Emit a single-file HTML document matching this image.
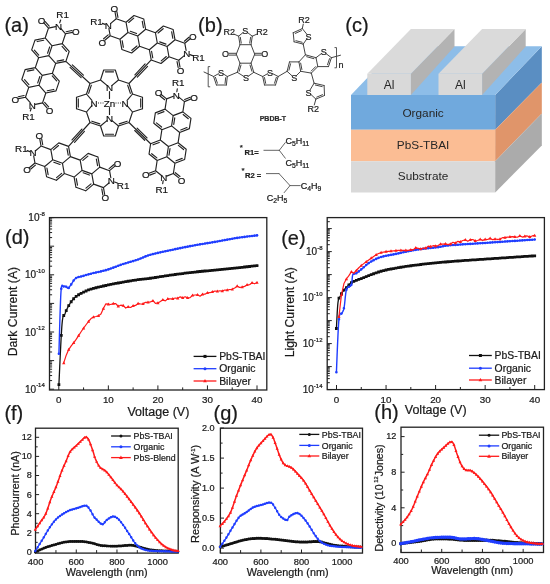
<!DOCTYPE html>
<html><head><meta charset="utf-8"><title>Figure</title>
<style>html,body{margin:0;padding:0;background:#fff;}svg{display:block;}</style>
</head><body>
<svg width="550" height="584" viewBox="0 0 550 584" font-family="'Liberation Sans', Arial, Helvetica, sans-serif">
<style>text{stroke:#1a1a1a;stroke-width:0.22px}</style>
<rect width="550" height="584" fill="#fff"/>

<path d="M42.21 75.37L52.4 73.28M52.4 73.28L55.69 63.41M55.69 63.41L48.79 55.63M48.79 55.63L38.6 57.72M38.6 57.72L35.31 67.59M35.31 67.59L42.21 75.37M48.79 55.63L52.07 45.76M52.07 45.76L45.17 37.98M45.17 37.98L34.98 40.07M34.98 40.07L31.69 49.94M31.69 49.94L38.6 57.72M55.69 63.41L65.88 61.32M65.88 61.32L69.17 51.45M69.17 51.45L62.26 43.67M62.26 43.67L52.07 45.76M28.74 87.33L38.93 85.24M38.93 85.24L42.21 75.37M35.31 67.59L25.12 69.68M25.12 69.68L21.83 79.55M21.83 79.55L28.74 87.33M45.83 93.02L56.02 90.93M56.02 90.93L59.31 81.06M59.31 81.06L52.4 73.28M38.93 85.24L45.83 93.02M62.26 43.67L65.55 33.8M65.55 33.8L60.77 28.42M55.51 26.66L48.46 28.11M48.46 28.11L45.17 37.98M35.49 104.34L42.54 102.89M42.54 102.89L45.83 93.02M28.74 87.33L25.45 97.2M25.45 97.2L30.23 102.58M43.72 40.22L37.19 41.55M34.36 50.08L38.77 55.06M49.68 46.94L47.58 53.25M57.14 61.17L63.67 59.84M66.5 51.31L62.08 46.33M28.92 84.67L24.5 79.69M27.33 71.16L33.86 69.83M37.72 82.86L39.82 76.55M52.23 75.94L56.64 80.92M53.81 89.45L47.28 90.78M48.46 28.11L43.81 22.87M49.21 26.1L45.23 21.61M65.55 33.8L72.41 32.4M66.15 31.74L72.03 30.54M59.72 22.8L60.66 19.99M25.45 97.2L18.59 98.6M24.09 95.54L18.21 96.74M42.54 102.89L47.19 108.13M44.63 102.38L48.61 106.87M31.28 108.2L30.34 111.01M137.7 36L139.57 46.23M139.57 46.23L149.36 49.74M149.36 49.74L157.3 43M157.3 43L155.43 32.77M155.43 32.77L145.64 29.26M145.64 29.26L137.7 36M157.3 43L167.09 46.51M167.09 46.51L175.03 39.78M175.03 39.78L173.16 29.54M173.16 29.54L163.37 26.04M163.37 26.04L155.43 32.77M149.36 49.74L151.23 59.97M151.23 59.97L161.02 63.48M161.02 63.48L168.96 56.75M168.96 56.75L167.09 46.51M126.04 22.25L127.91 32.49M127.91 32.49L137.7 36M145.64 29.26L143.77 19.03M143.77 19.03L133.98 15.52M133.98 15.52L126.04 22.25M119.97 39.22L121.84 49.46M121.84 49.46L131.63 52.96M131.63 52.96L139.57 46.23M127.91 32.49L119.97 39.22M168.96 56.75L178.75 60.25M178.75 60.25L184.25 55.59M186.11 50.37L184.82 43.28M184.82 43.28L175.03 39.78M108.89 28.63L110.18 35.72M110.18 35.72L119.97 39.22M126.04 22.25L116.25 18.75M116.25 18.75L110.75 23.41M172.82 38.28L171.63 31.72M163.17 28.7L158.09 33.01M165.97 44.09L159.7 41.85M151.57 51.24L152.76 57.79M161.22 60.82L166.3 56.51M128.7 22.49L133.78 18.18M142.24 21.21L143.43 27.76M130.31 31.33L136.58 33.58M136.91 45.99L131.83 50.3M123.37 47.28L122.18 40.72M184.82 43.28L190.17 38.75M184.36 41.19L188.94 37.3M178.75 60.25L180.01 67.14M177.06 61.58L178.14 67.48M189.89 54.66L192.68 55.66M116.25 18.75L114.99 11.86M117.94 17.42L116.86 11.52M110.18 35.72L104.83 40.25M108.18 34.92L103.61 38.8M105.11 24.34L102.32 23.34M82.04 170.37L80.19 160.13M80.19 160.13L70.4 156.62M70.4 156.62L62.46 163.33M62.46 163.33L64.31 173.57M64.31 173.57L74.1 177.08M74.1 177.08L82.04 170.37M62.46 163.33L52.68 159.82M52.68 159.82L44.74 166.54M44.74 166.54L46.59 176.77M46.59 176.77L56.38 180.29M56.38 180.29L64.31 173.57M70.4 156.62L68.55 146.38M68.55 146.38L58.77 142.87M58.77 142.87L50.83 149.59M50.83 149.59L52.68 159.82M93.67 184.11L91.82 173.88M91.82 173.88L82.04 170.37M74.1 177.08L75.95 187.32M75.95 187.32L85.73 190.83M85.73 190.83L93.67 184.11M99.76 167.16L97.91 156.93M97.91 156.93L88.12 153.41M88.12 153.41L80.19 160.13M91.82 173.88L99.76 167.16M50.83 149.59L41.04 146.07M41.04 146.07L35.55 150.72M33.67 155.94L34.95 163.02M34.95 163.02L44.74 166.54M110.83 177.76L109.55 170.68M109.55 170.68L99.76 167.16M93.67 184.11L103.46 187.63M103.46 187.63L108.95 182.98M46.94 168.04L48.13 174.59M56.58 177.63L61.66 173.33M53.8 162.24L60.06 164.49M68.2 155.11L67.02 148.56M58.56 145.53L53.48 149.83M91.02 183.87L85.94 188.17M77.48 185.14L76.3 178.59M89.42 175.04L83.16 172.79M82.84 160.37L87.92 156.07M96.37 159.11L97.56 165.66M34.95 163.02L29.61 167.54M35.42 165.12L30.84 168.99M41.04 146.07L39.8 139.18M42.73 144.75L41.67 138.85M29.9 151.64L27.12 150.64M103.46 187.63L104.7 194.52M101.77 188.95L102.83 194.85M109.55 170.68L114.89 166.16M109.08 168.58L113.66 164.71M114.6 182.06L117.38 183.06M171.58 125.92L161.89 129.69M161.89 129.69L160.31 139.97M160.31 139.97L168.42 146.48M168.42 146.48L178.11 142.71M178.11 142.71L179.69 132.43M179.69 132.43L171.58 125.92M168.42 146.48L166.84 156.75M166.84 156.75L174.95 163.26M174.95 163.26L184.64 159.49M184.64 159.49L186.22 149.21M186.22 149.21L178.11 142.71M160.31 139.97L150.62 143.74M150.62 143.74L149.04 154.01M149.04 154.01L157.15 160.52M157.15 160.52L166.84 156.75M182.85 111.88L173.16 115.65M173.16 115.65L171.58 125.92M179.69 132.43L189.38 128.66M189.38 128.66L190.96 118.39M190.96 118.39L182.85 111.88M165.05 109.14L155.36 112.91M155.36 112.91L153.78 123.19M153.78 123.19L161.89 129.69M173.16 115.65L165.05 109.14M157.15 160.52L155.57 170.79M155.57 170.79L161.18 175.3M166.66 176.14L173.37 173.53M173.37 173.53L174.95 163.26M173.34 96.26L166.63 98.87M166.63 98.87L165.05 109.14M182.85 111.88L184.43 101.61M184.43 101.61L178.82 97.1M176 160.81L182.2 158.4M183.57 149.52L178.38 145.36M169 155.19L170.01 148.61M159.26 142.42L153.05 144.83M151.69 153.7L156.88 157.87M183.12 114.53L188.31 118.7M186.95 127.57L180.74 129.98M174.75 117.79L173.74 124.36M161.62 127.04L156.43 122.88M157.8 114L164 111.59M173.37 173.53L178.82 177.91M175.33 172.68L180.01 176.43M155.57 170.79L149.05 173.33M155.33 172.93L149.74 175.1M163.16 180.66L162.71 183.58M184.43 101.61L190.95 99.07M184.67 99.47L190.26 97.3M166.63 98.87L161.18 94.49M164.67 99.72L159.99 95.97M176.84 91.74L177.29 88.82M118.5 80L112.04 85.39M100.5 80L106.96 85.39M118.5 80L115.3 70M100.5 80L103.7 70M115.3 70L103.7 70M113.56 71.8L105.44 71.8M100.5 126L106.96 120.61M118.5 126L112.04 120.61M100.5 126L103.7 136M118.5 126L115.3 136M103.7 136L115.3 136M105.44 134.2L113.56 134.2M86.5 94L91.89 100.46M86.5 112L91.89 105.54M86.5 94L76.5 97.2M86.5 112L76.5 108.8M76.5 97.2L76.5 108.8M78.3 98.94L78.3 107.06M132.5 112L127.11 105.54M132.5 94L127.11 100.46M132.5 112L142.5 108.8M132.5 94L142.5 97.2M142.5 108.8L142.5 97.2M140.7 107.06L140.7 98.94M90 83.5L100.5 80M90 83.5L86.5 94M91.29 85.33L88.63 93.31M90 83.5L65.88 61.32M83.43 75.15L72.34 64.95M81.13 77.65L70.04 67.45M129 83.5L118.5 80M129 83.5L132.5 94M127.71 85.33L130.37 93.31M129 83.5L151.23 59.97M137.35 77.14L147.57 66.32M134.88 74.8L145.1 63.98M90 122.5L100.5 126M91.83 121.21L99.81 123.87M90 122.5L86.5 112M90 122.5L68.55 146.38M81.87 129.01L72.01 139.99M84.4 131.28L74.54 142.27M129 122.5L118.5 126M127.17 121.21L119.19 123.87M129 122.5L132.5 112M129 122.5L150.62 143.74M134.73 130.51L144.67 140.28M137.11 128.08L147.06 137.85M109.5 91.5L109.5 98.5M109.5 107.5L109.5 114.5" stroke="#222" stroke-width="1.15" fill="none" stroke-linecap="round"/>
<path d="M98 103H103.5 M115.5 103H121" stroke="#2a2a2a" stroke-width="1" stroke-dasharray="1 1.3" fill="none"/>
<text x="41.55" y="23.86" font-size="9.8" text-anchor="middle" fill="#111" style="stroke-width:0.2px">O</text>
<text x="75.74" y="35.24" font-size="9.8" text-anchor="middle" fill="#111" style="stroke-width:0.2px">O</text>
<text x="58.65" y="29.55" font-size="9.8" text-anchor="middle" fill="#111" style="stroke-width:0.2px">N</text>
<text x="62.59" y="17.71" font-size="9.8" text-anchor="middle" fill="#111" style="stroke-width:0.2px">R1</text>
<text x="15.26" y="102.81" font-size="9.8" text-anchor="middle" fill="#111" style="stroke-width:0.2px">O</text>
<text x="49.45" y="114.2" font-size="9.8" text-anchor="middle" fill="#111" style="stroke-width:0.2px">O</text>
<text x="32.35" y="108.51" font-size="9.8" text-anchor="middle" fill="#111" style="stroke-width:0.2px">N</text>
<text x="28.41" y="120.35" font-size="9.8" text-anchor="middle" fill="#111" style="stroke-width:0.2px">R1</text>
<text x="192.76" y="40.08" font-size="9.8" text-anchor="middle" fill="#111" style="stroke-width:0.2px">O</text>
<text x="180.62" y="74.02" font-size="9.8" text-anchor="middle" fill="#111" style="stroke-width:0.2px">O</text>
<text x="186.69" y="57.05" font-size="9.8" text-anchor="middle" fill="#111" style="stroke-width:0.2px">N</text>
<text x="198.44" y="61.25" font-size="9.8" text-anchor="middle" fill="#111" style="stroke-width:0.2px">R1</text>
<text x="114.38" y="12.04" font-size="9.8" text-anchor="middle" fill="#111" style="stroke-width:0.2px">O</text>
<text x="102.24" y="45.98" font-size="9.8" text-anchor="middle" fill="#111" style="stroke-width:0.2px">O</text>
<text x="108.31" y="29.01" font-size="9.8" text-anchor="middle" fill="#111" style="stroke-width:0.2px">N</text>
<text x="96.56" y="24.8" font-size="9.8" text-anchor="middle" fill="#111" style="stroke-width:0.2px">R1</text>
<text x="27.02" y="173.27" font-size="9.8" text-anchor="middle" fill="#111" style="stroke-width:0.2px">O</text>
<text x="39.19" y="139.37" font-size="9.8" text-anchor="middle" fill="#111" style="stroke-width:0.2px">O</text>
<text x="33.1" y="156.32" font-size="9.8" text-anchor="middle" fill="#111" style="stroke-width:0.2px">N</text>
<text x="21.36" y="152.1" font-size="9.8" text-anchor="middle" fill="#111" style="stroke-width:0.2px">R1</text>
<text x="105.31" y="201.39" font-size="9.8" text-anchor="middle" fill="#111" style="stroke-width:0.2px">O</text>
<text x="117.48" y="167.49" font-size="9.8" text-anchor="middle" fill="#111" style="stroke-width:0.2px">O</text>
<text x="111.4" y="184.44" font-size="9.8" text-anchor="middle" fill="#111" style="stroke-width:0.2px">N</text>
<text x="123.14" y="188.66" font-size="9.8" text-anchor="middle" fill="#111" style="stroke-width:0.2px">R1</text>
<text x="181.47" y="183.57" font-size="9.8" text-anchor="middle" fill="#111" style="stroke-width:0.2px">O</text>
<text x="145.88" y="178.09" font-size="9.8" text-anchor="middle" fill="#111" style="stroke-width:0.2px">O</text>
<text x="163.68" y="180.83" font-size="9.8" text-anchor="middle" fill="#111" style="stroke-width:0.2px">N</text>
<text x="161.78" y="193.16" font-size="9.8" text-anchor="middle" fill="#111" style="stroke-width:0.2px">R1</text>
<text x="194.12" y="101.37" font-size="9.8" text-anchor="middle" fill="#111" style="stroke-width:0.2px">O</text>
<text x="158.53" y="95.89" font-size="9.8" text-anchor="middle" fill="#111" style="stroke-width:0.2px">O</text>
<text x="176.32" y="98.63" font-size="9.8" text-anchor="middle" fill="#111" style="stroke-width:0.2px">N</text>
<text x="178.22" y="86.3" font-size="9.8" text-anchor="middle" fill="#111" style="stroke-width:0.2px">R1</text>
<text x="109.5" y="91.03" font-size="9.8" text-anchor="middle" fill="#111" style="stroke-width:0.2px">N</text>
<text x="109.5" y="122.03" font-size="9.8" text-anchor="middle" fill="#111" style="stroke-width:0.2px">N</text>
<text x="94" y="106.53" font-size="9.8" text-anchor="middle" fill="#111" style="stroke-width:0.2px">N</text>
<text x="125" y="106.53" font-size="9.8" text-anchor="middle" fill="#111" style="stroke-width:0.2px">N</text>
<text x="109.5" y="106.53" font-size="9.8" text-anchor="middle" fill="#111" style="stroke-width:0.2px">Zn</text>
<path d="M210.2 66.6H208.2V86.8H210.2" stroke="#444" stroke-width="0.9" fill="none"/>
<path d="M334.5 47.6H336.5V67.8H334.5" stroke="#444" stroke-width="0.9" fill="none"/>
<text x="338.6" y="67.6" font-size="9" text-anchor="start" fill="#222" >n</text>
<path d="M247.43 32.5L252.3 36.2M252.3 36.2L251 44.7M251 44.7L240 44.7M240 44.7L238.6 36.2M238.6 36.2L243.03 32.57M250.61 37.33L249.73 43.11M241.26 43.1L240.3 37.32M238.6 36.2L233.91 34M252.3 36.2L257.26 33.95M240 44.7L236.3 54.2M236.3 54.2L240 63.2M251 63.2L254.7 54.2M254.7 54.2L251 44.7M236.3 53.3L229.1 53.3M236.3 55.1L229.1 55.1M254.7 55.1L261.3 55.1M254.7 53.3L261.3 53.3M243.63 76.3L237.3 72.3M237.3 72.3L240 63.2M240 63.2L251 63.2M251 63.2L253.8 72.3M253.8 72.3L248.29 76.19M239.17 71.27L241.01 65.08M250.01 65.1L251.92 71.29M223.24 73.84L227.3 76.5M227.3 76.5L226.4 85M226.4 85L216.4 85M216.4 85L213.6 76.5M213.6 76.5L218.47 73.7M225.66 77.7L225.05 83.48M217.38 83.17L215.47 77.39M227.3 76.5L237.3 72.3M213.6 76.5L204 72M267.57 73.7L262.7 76.5M262.7 76.5L264.5 85M264.5 85L275.5 85M275.5 85L278.2 76.5M278.2 76.5L272.49 73.58M264.46 77.55L265.68 83.33M274.5 83.19L276.34 77.41M253.8 72.3L262.7 76.5M305.4 54.8L316 57.7M316 57.7L317.8 66.6M317.8 66.6L311.3 73.1M311.3 73.1L300.7 71.3M300.7 71.3L298.9 61.9M298.9 61.9L305.4 54.8M306.7 56.71L313.91 58.68M315.7 66.58L311.28 71M301.89 69.51L300.66 63.12M316 57.7L321.48 53.5M325.92 53.5L331.4 57.7M331.4 57.7L328.5 66.6M328.5 66.6L317.8 66.6M329.51 58.66L327.54 64.71M300.7 71.3L296.18 75.82M292.13 75.91L287.1 71.3M287.1 71.3L289.5 61.9M289.5 61.9L298.9 61.9M288.94 70.17L290.57 63.78M278.2 76.5L287.1 71.3M331.4 57.7L340.5 55.2M305.4 54.8L303.2 44.1M306.84 34.22L302.3 28.6M302.3 28.6L293.2 32.7M293.2 32.7L294.1 41.8M294.1 41.8L303.2 44.1M303.2 44.1L306.99 38.69M301.46 30.62L295.27 33.41M295.92 40.71L302.11 42.28M302.3 28.6L303.26 24.11M311.3 73.1L314.1 83.2M310.05 89.9L314.1 83.2M314.1 83.2L324.1 85.5M324.1 85.5L324.5 95.5M324.5 95.5L315.9 99.1M315.9 99.1L310.65 94.21M315.36 85.03L322.16 86.59M322.54 94.69L316.7 97.14M315.9 99.1L314.27 104.95" stroke="#444" stroke-width="1.0" fill="none" stroke-linecap="round"/>
<text x="245.2" y="34.04" font-size="9" text-anchor="middle" fill="#222" style="stroke-width:0.2px">S</text>
<text x="229.2" y="35.04" font-size="9" text-anchor="middle" fill="#222" style="stroke-width:0.2px">R2</text>
<text x="262" y="35.04" font-size="9" text-anchor="middle" fill="#222" style="stroke-width:0.2px">R2</text>
<text x="225.6" y="57.44" font-size="9" text-anchor="middle" fill="#222" style="stroke-width:0.2px">O</text>
<text x="264.8" y="57.44" font-size="9" text-anchor="middle" fill="#222" style="stroke-width:0.2px">O</text>
<text x="246" y="81.04" font-size="9" text-anchor="middle" fill="#222" style="stroke-width:0.2px">S</text>
<text x="220.9" y="75.54" font-size="9" text-anchor="middle" fill="#222" style="stroke-width:0.2px">S</text>
<text x="270" y="75.54" font-size="9" text-anchor="middle" fill="#222" style="stroke-width:0.2px">S</text>
<text x="323.7" y="55.04" font-size="9" text-anchor="middle" fill="#222" style="stroke-width:0.2px">S</text>
<text x="294.2" y="81.04" font-size="9" text-anchor="middle" fill="#222" style="stroke-width:0.2px">S</text>
<text x="308.6" y="39.64" font-size="9" text-anchor="middle" fill="#222" style="stroke-width:0.2px">S</text>
<text x="304.1" y="23.44" font-size="9" text-anchor="middle" fill="#222" style="stroke-width:0.2px">R2</text>
<text x="308.6" y="95.54" font-size="9" text-anchor="middle" fill="#222" style="stroke-width:0.2px">S</text>
<text x="313.2" y="112.04" font-size="9" text-anchor="middle" fill="#222" style="stroke-width:0.2px">R2</text>
<text x="272.9" y="120.6" font-size="7" text-anchor="middle" fill="#333" font-weight="bold" >PBDB-T</text>
<text x="239.8" y="149.6" font-size="8" text-anchor="start" fill="#222" >*</text>
<text x="244.6" y="155" font-size="7.6" text-anchor="start" fill="#222" font-weight="bold" >R1=</text>
<text x="241.6" y="173.2" font-size="8" text-anchor="start" fill="#222" >*</text>
<text x="245" y="177.8" font-size="7.6" text-anchor="start" fill="#222" font-weight="bold" >R2 =</text>
<path d="M263.9 150.3L279.3 150.3M279.3 150.3L285.3 142.6M279.3 150.3L285.3 158.2M266.4 173.6L279 173.6M279 173.6L290 185.6M290 185.6L300.2 185.6M290 185.6L284.2 192.6" stroke="#555" stroke-width="0.9" fill="none" stroke-linecap="round"/>
<text x="285.4" y="143.6" font-size="9.0" text-anchor="start" fill="#1a1a1a" >C<tspan font-size="6.8" dy="2.2">5</tspan><tspan dy="-2.2">H</tspan><tspan font-size="6.8" dy="2.2">11</tspan></text>
<text x="285.4" y="166.2" font-size="9.0" text-anchor="start" fill="#1a1a1a" >C<tspan font-size="6.8" dy="2.2">5</tspan><tspan dy="-2.2">H</tspan><tspan font-size="6.8" dy="2.2">11</tspan></text>
<text x="300.8" y="189" font-size="9.0" text-anchor="start" fill="#1a1a1a" >C<tspan font-size="6.8" dy="2.2">4</tspan><tspan dy="-2.2">H</tspan><tspan font-size="6.8" dy="2.2">9</tspan></text>
<text x="266.8" y="201.2" font-size="9.0" text-anchor="start" fill="#1a1a1a" >C<tspan font-size="6.8" dy="2.2">2</tspan><tspan dy="-2.2">H</tspan><tspan font-size="6.8" dy="2.2">5</tspan></text>
<polygon points="351,95 495.2,95 495.2,129.8 351,129.8" fill="#70a9dd"/>
<polygon points="351,129.8 495.2,129.8 495.2,161.2 351,161.2" fill="#fbbd94"/>
<polygon points="351,161.2 495.2,161.2 495.2,192.5 351,192.5" fill="#d9d9d9"/>
<polygon points="495.2,95 541.8,46.3 541.8,82.4 495.2,129.8" fill="#5a8ec2"/>
<polygon points="495.2,129.8 541.8,82.4 541.8,113.5 495.2,161.2" fill="#e0956a"/>
<polygon points="495.2,161.2 541.8,113.5 541.8,145.4 495.2,192.5" fill="#ababab"/>
<polygon points="351,95 495.2,95 541.8,46.3 397.6,46.3" fill="#8dbde8"/>
<polygon points="410.9,73.7 454.5,29 454.5,46.6 410.9,95" fill="#b3b3b3"/>
<polygon points="367.3,73.7 410.9,73.7 454.5,29 410.9,29" fill="#dadada"/>
<polygon points="367.3,73.7 410.9,73.7 410.9,95 367.3,95" fill="#d9d9d9"/>
<text x="389.1" y="89" font-size="12" text-anchor="middle" fill="#262626" style="stroke:none">Al</text>
<polygon points="482.1,73.7 525.7,29 525.7,46.6 482.1,95" fill="#b3b3b3"/>
<polygon points="438.5,73.7 482.1,73.7 525.7,29 482.1,29" fill="#dadada"/>
<polygon points="438.5,73.7 482.1,73.7 482.1,95 438.5,95" fill="#d9d9d9"/>
<text x="460.3" y="89" font-size="12" text-anchor="middle" fill="#262626" style="stroke:none">Al</text>
<text x="423.1" y="116.8" font-size="11.8" text-anchor="middle" fill="#262626" style="stroke:none">Organic</text>
<text x="423.1" y="148.5" font-size="11.8" text-anchor="middle" fill="#262626" style="stroke:none">PbS-TBAI</text>
<text x="423.1" y="179.6" font-size="11.8" text-anchor="middle" fill="#262626" style="stroke:none">Substrate</text>
<rect x="49.5" y="217.6" width="217.3" height="172.4" fill="none" stroke="#222" stroke-width="1.3"/>
<path d="M58.8 390v-4.6M108.35 390v-4.6M157.9 390v-4.6M207.45 390v-4.6M257 390v-4.6M83.57 390v-2.6M133.12 390v-2.6M182.68 390v-2.6M232.23 390v-2.6" stroke="#222" stroke-width="1" fill="none"/>
<path d="M49.5 389.2h4.6M49.5 360.6h4.6M49.5 332h4.6M49.5 303.4h4.6M49.5 274.8h4.6M49.5 246.2h4.6M49.5 217.6h4.6M49.5 380.59h2.6M49.5 375.55h2.6M49.5 371.98h2.6M49.5 369.21h2.6M49.5 366.94h2.6M49.5 365.03h2.6M49.5 363.37h2.6M49.5 361.91h2.6M49.5 351.99h2.6M49.5 346.95h2.6M49.5 343.38h2.6M49.5 340.61h2.6M49.5 338.34h2.6M49.5 336.43h2.6M49.5 334.77h2.6M49.5 333.31h2.6M49.5 323.39h2.6M49.5 318.35h2.6M49.5 314.78h2.6M49.5 312.01h2.6M49.5 309.74h2.6M49.5 307.83h2.6M49.5 306.17h2.6M49.5 304.71h2.6M49.5 294.79h2.6M49.5 289.75h2.6M49.5 286.18h2.6M49.5 283.41h2.6M49.5 281.14h2.6M49.5 279.23h2.6M49.5 277.57h2.6M49.5 276.11h2.6M49.5 266.19h2.6M49.5 261.15h2.6M49.5 257.58h2.6M49.5 254.81h2.6M49.5 252.54h2.6M49.5 250.63h2.6M49.5 248.97h2.6M49.5 247.51h2.6M49.5 237.59h2.6M49.5 232.55h2.6M49.5 228.98h2.6M49.5 226.21h2.6M49.5 223.94h2.6M49.5 222.03h2.6M49.5 220.37h2.6M49.5 218.91h2.6" stroke="#222" stroke-width="1" fill="none"/>
<text x="58.8" y="402.8" font-size="9.8" text-anchor="middle" fill="#1a1a1a" >0</text>
<text x="108.35" y="402.8" font-size="9.8" text-anchor="middle" fill="#1a1a1a" >10</text>
<text x="157.9" y="402.8" font-size="9.8" text-anchor="middle" fill="#1a1a1a" >20</text>
<text x="207.45" y="402.8" font-size="9.8" text-anchor="middle" fill="#1a1a1a" >30</text>
<text x="257" y="402.8" font-size="9.8" text-anchor="middle" fill="#1a1a1a" >40</text>
<text x="44.8" y="221.2" font-size="10" text-anchor="end" fill="#1a1a1a" >10<tspan font-size="6" dy="-5.4">-8</tspan></text>
<text x="44.8" y="278.4" font-size="10" text-anchor="end" fill="#1a1a1a" >10<tspan font-size="6" dy="-5.4">-10</tspan></text>
<text x="44.8" y="335.6" font-size="10" text-anchor="end" fill="#1a1a1a" >10<tspan font-size="6" dy="-5.4">-12</tspan></text>
<text x="44.8" y="392.8" font-size="10" text-anchor="end" fill="#1a1a1a" >10<tspan font-size="6" dy="-5.4">-14</tspan></text>
<text x="158.4" y="416.4" font-size="12.5" text-anchor="middle" fill="#1a1a1a" >Voltage (V)</text>
<text transform="translate(16.7 311.6) rotate(-90)" font-size="12.2" text-anchor="middle" fill="#1a1a1a">Dark Current (A)</text>
<path d="M58.9 384.6 L58.93 384.08 L58.96 383.51 L58.99 382.89 L59.02 382.24 L59.05 381.54 L59.08 380.8 L59.12 380.03 L59.16 379.22 L59.2 378.37 L59.24 377.49 L59.28 376.58 L59.32 375.64 L59.37 374.67 L59.41 373.67 L59.46 372.65 L59.51 371.6 L59.56 370.53 L59.61 369.43 L59.66 368.32 L59.71 367.19 L59.76 366.05 L59.81 364.88 L59.87 363.71 L59.92 362.52 L59.98 361.32 L60.03 360.12 L60.09 358.9 L60.15 357.68 L60.2 356.45 L60.26 355.23 L60.32 353.99 L60.38 352.76 L60.44 351.54 L60.5 350.31 L60.56 349.09 L60.62 347.88 L60.68 346.67 L60.74 345.47 L60.8 344.28 L60.86 343.11 L60.92 341.95 L60.98 340.8 L61.04 339.67 L61.1 338.56 L61.16 337.47 L61.22 336.4 L61.28 335.35 L61.34 334.33 L61.4 333.33 L61.45 332.36 L61.51 331.42 L61.57 330.51 L61.62 329.63 L61.68 328.78 L61.74 327.97 L61.79 327.2 L61.84 326.46 L61.9 325.77 L61.95 325.11 L62 324.5 L62.27 321.66 L62.52 319.53 L62.77 317.98 L63.01 316.92 L63.26 316.22 L63.51 315.79 L63.77 315.51 L64.04 315.27 L64.33 314.96 L64.65 314.47 L65 313.7 L65.38 312.74 L65.78 311.76 L66.2 310.78 L66.64 309.8 L67.09 308.83 L67.56 307.87 L68.04 306.93 L68.52 306.02 L69.02 305.14 L69.51 304.3 L70 303.5 L70.68 302.47 L71.36 301.5 L72.05 300.59 L72.76 299.72 L73.49 298.91 L74.23 298.14 L75 297.4 L75.8 296.7 L76.63 296.05 L77.48 295.45 L78.35 294.9 L79.24 294.39 L80.16 293.91 L81.09 293.44 L82.04 292.97 L83 292.5 L83.83 292.08 L84.63 291.68 L85.42 291.29 L86.22 290.91 L87.06 290.53 L87.97 290.16 L88.96 289.78 L90.06 289.39 L91.3 289 L92.12 288.76 L93 288.51 L93.93 288.26 L94.9 288.01 L95.91 287.76 L96.95 287.5 L98.02 287.25 L99.11 286.99 L100.21 286.74 L101.31 286.49 L102.42 286.24 L103.51 286 L104.6 285.76 L105.66 285.53 L106.7 285.3 L107.72 285.08 L108.74 284.86 L109.76 284.65 L110.78 284.44 L111.8 284.23 L112.82 284.03 L113.84 283.82 L114.85 283.63 L115.87 283.43 L116.89 283.24 L117.91 283.05 L118.93 282.86 L119.95 282.67 L120.97 282.48 L122 282.3 L123.03 282.12 L124.08 281.93 L125.14 281.75 L126.2 281.57 L127.26 281.39 L128.33 281.22 L129.39 281.04 L130.45 280.87 L131.51 280.7 L132.55 280.54 L133.58 280.38 L134.59 280.23 L135.58 280.08 L136.55 279.94 L137.5 279.8 L138.62 279.65 L139.65 279.51 L140.62 279.4 L141.54 279.29 L142.45 279.2 L143.36 279.1 L144.28 279 L145.26 278.9 L146.29 278.78 L147.41 278.64 L148.64 278.48 L150 278.3 L150.8 278.19 L151.63 278.07 L152.5 277.94 L153.4 277.8 L154.32 277.66 L155.27 277.52 L156.25 277.37 L157.24 277.21 L158.25 277.05 L159.28 276.89 L160.32 276.73 L161.37 276.57 L162.42 276.4 L163.48 276.24 L164.54 276.08 L165.6 275.91 L166.66 275.75 L167.71 275.59 L168.75 275.44 L169.78 275.29 L170.8 275.14 L171.8 275 L172.84 274.86 L173.88 274.71 L174.91 274.57 L175.95 274.43 L176.99 274.29 L178.03 274.15 L179.06 274.01 L180.1 273.87 L181.14 273.73 L182.18 273.6 L183.21 273.46 L184.25 273.33 L185.29 273.2 L186.33 273.07 L187.36 272.94 L188.4 272.81 L189.44 272.69 L190.48 272.56 L191.52 272.44 L192.56 272.32 L193.6 272.2 L194.59 272.09 L195.59 271.98 L196.58 271.87 L197.58 271.76 L198.57 271.66 L199.57 271.56 L200.56 271.46 L201.56 271.36 L202.56 271.26 L203.55 271.16 L204.55 271.06 L205.55 270.97 L206.54 270.87 L207.54 270.77 L208.54 270.68 L209.53 270.58 L210.53 270.49 L211.52 270.39 L212.52 270.3 L213.51 270.2 L214.51 270.1 L215.5 270 L216.54 269.9 L217.59 269.79 L218.63 269.69 L219.68 269.58 L220.73 269.48 L221.78 269.37 L222.83 269.27 L223.88 269.16 L224.93 269.06 L225.98 268.95 L227.02 268.85 L228.07 268.74 L229.11 268.64 L230.15 268.53 L231.18 268.43 L232.22 268.32 L233.24 268.22 L234.27 268.11 L235.28 268.01 L236.29 267.9 L237.3 267.8 L238.37 267.69 L239.48 267.57 L240.62 267.45 L241.78 267.32 L242.96 267.2 L244.14 267.07 L245.32 266.94 L246.5 266.81 L247.67 266.69 L248.81 266.56 L249.93 266.44 L251.01 266.32 L252.06 266.21 L253.05 266.1 L253.99 266 L254.86 265.9 L255.67 265.81 L256.4 265.73 L257.04 265.66 L257.6 265.6" fill="none" stroke="#111111" stroke-width="1.3" stroke-linejoin="round" stroke-linecap="round" />
<path d="M57.5 383.2h2.8v2.8h-2.8zM59.88 333.96h2.8v2.8h-2.8zM62.35 314.12h2.8v2.8h-2.8zM64.83 309.31h2.8v2.8h-2.8zM67.31 304.29h2.8v2.8h-2.8zM69.79 300.35h2.8v2.8h-2.8zM72.26 297.33h2.8v2.8h-2.8zM74.74 295.03h2.8v2.8h-2.8zM77.22 293.35h2.8v2.8h-2.8zM79.7 292.04h2.8v2.8h-2.8zM82.17 290.81h2.8v2.8h-2.8zM84.65 289.59h2.8v2.8h-2.8zM87.13 288.54h2.8v2.8h-2.8zM89.61 287.69h2.8v2.8h-2.8zM92.08 286.98h2.8v2.8h-2.8zM94.56 286.34h2.8v2.8h-2.8zM97.04 285.75h2.8v2.8h-2.8zM99.52 285.18h2.8v2.8h-2.8zM101.99 284.62h2.8v2.8h-2.8zM104.47 284.08h2.8v2.8h-2.8zM106.95 283.54h2.8v2.8h-2.8zM109.43 283.03h2.8v2.8h-2.8zM111.91 282.53h2.8v2.8h-2.8zM114.38 282.05h2.8v2.8h-2.8zM116.86 281.58h2.8v2.8h-2.8zM119.34 281.13h2.8v2.8h-2.8zM121.81 280.69h2.8v2.8h-2.8zM124.29 280.26h2.8v2.8h-2.8zM126.77 279.84h2.8v2.8h-2.8zM129.25 279.44h2.8v2.8h-2.8zM131.72 279.05h2.8v2.8h-2.8zM134.2 278.68h2.8v2.8h-2.8zM136.68 278.32h2.8v2.8h-2.8zM139.16 278h2.8v2.8h-2.8zM141.63 277.73h2.8v2.8h-2.8zM144.11 277.47h2.8v2.8h-2.8zM146.59 277.17h2.8v2.8h-2.8zM149.07 276.83h2.8v2.8h-2.8zM151.54 276.47h2.8v2.8h-2.8zM154.02 276.09h2.8v2.8h-2.8zM156.5 275.71h2.8v2.8h-2.8zM158.98 275.32h2.8v2.8h-2.8zM161.46 274.94h2.8v2.8h-2.8zM163.93 274.55h2.8v2.8h-2.8zM166.41 274.18h2.8v2.8h-2.8zM168.89 273.82h2.8v2.8h-2.8zM171.36 273.47h2.8v2.8h-2.8zM173.84 273.12h2.8v2.8h-2.8zM176.32 272.79h2.8v2.8h-2.8zM178.8 272.46h2.8v2.8h-2.8zM181.28 272.13h2.8v2.8h-2.8zM183.75 271.82h2.8v2.8h-2.8zM186.23 271.51h2.8v2.8h-2.8zM188.71 271.21h2.8v2.8h-2.8zM191.18 270.92h2.8v2.8h-2.8zM193.66 270.64h2.8v2.8h-2.8zM196.14 270.37h2.8v2.8h-2.8zM198.62 270.11h2.8v2.8h-2.8zM201.09 269.86h2.8v2.8h-2.8zM203.57 269.62h2.8v2.8h-2.8zM206.05 269.38h2.8v2.8h-2.8zM208.53 269.15h2.8v2.8h-2.8zM211 268.91h2.8v2.8h-2.8zM213.48 268.66h2.8v2.8h-2.8zM215.96 268.41h2.8v2.8h-2.8zM218.44 268.17h2.8v2.8h-2.8zM220.91 267.92h2.8v2.8h-2.8zM223.39 267.67h2.8v2.8h-2.8zM225.87 267.42h2.8v2.8h-2.8zM228.35 267.17h2.8v2.8h-2.8zM230.83 266.92h2.8v2.8h-2.8zM233.3 266.67h2.8v2.8h-2.8zM235.78 266.41h2.8v2.8h-2.8zM238.26 266.15h2.8v2.8h-2.8zM240.73 265.89h2.8v2.8h-2.8zM243.21 265.62h2.8v2.8h-2.8zM245.69 265.35h2.8v2.8h-2.8zM248.17 265.08h2.8v2.8h-2.8zM250.65 264.81h2.8v2.8h-2.8zM253.12 264.54h2.8v2.8h-2.8zM255.6 264.27h2.8v2.8h-2.8z" fill="#111111"/>
<path d="M58.9 353.8 L58.92 353.27 L58.94 352.7 L58.96 352.09 L58.98 351.43 L59 350.73 L59.02 349.99 L59.04 349.21 L59.07 348.39 L59.09 347.54 L59.12 346.66 L59.14 345.74 L59.17 344.8 L59.2 343.82 L59.22 342.82 L59.25 341.78 L59.28 340.73 L59.31 339.65 L59.34 338.55 L59.38 337.43 L59.41 336.29 L59.44 335.13 L59.47 333.96 L59.51 332.78 L59.54 331.58 L59.58 330.37 L59.61 329.15 L59.65 327.92 L59.68 326.69 L59.72 325.45 L59.76 324.2 L59.79 322.96 L59.83 321.71 L59.87 320.46 L59.91 319.22 L59.95 317.98 L59.98 316.75 L60.02 315.52 L60.06 314.3 L60.1 313.1 L60.14 311.9 L60.18 310.71 L60.22 309.54 L60.26 308.39 L60.3 307.25 L60.34 306.14 L60.38 305.04 L60.42 303.96 L60.46 302.91 L60.5 301.89 L60.54 300.89 L60.58 299.91 L60.62 298.97 L60.66 298.06 L60.69 297.18 L60.73 296.34 L60.77 295.53 L60.81 294.75 L60.85 294.02 L60.89 293.33 L60.93 292.67 L60.96 292.06 L61 291.5 L61.47 286.77 L61.97 285.18 L62.48 285.46 L62.99 286.35 L63.5 286.6 L64.77 286.12 L66 286.5 L67.01 287.69 L68.1 288.4 L68.63 288.01 L69.2 287.33 L69.8 286.44 L70.47 285.44 L71.2 284.4 L71.76 283.59 L72.33 282.67 L72.93 281.69 L73.57 280.69 L74.25 279.74 L74.99 278.9 L75.8 278.2 L76.68 277.68 L77.64 277.29 L78.65 276.99 L79.7 276.75 L80.79 276.53 L81.89 276.29 L83 276 L83.94 275.72 L84.83 275.44 L85.72 275.17 L86.64 274.89 L87.62 274.6 L88.7 274.3 L89.92 273.96 L91.3 273.6 L92.12 273.39 L93 273.19 L93.93 272.97 L94.9 272.75 L95.91 272.53 L96.95 272.3 L98.02 272.06 L99.1 271.82 L100.2 271.57 L101.3 271.31 L102.41 271.05 L103.51 270.78 L104.59 270.49 L105.66 270.2 L106.7 269.9 L107.66 269.6 L108.62 269.29 L109.59 268.97 L110.55 268.63 L111.51 268.29 L112.48 267.93 L113.44 267.58 L114.4 267.21 L115.36 266.85 L116.33 266.48 L117.29 266.12 L118.25 265.76 L119.21 265.41 L120.18 265.06 L121.14 264.73 L122.1 264.4 L123.07 264.08 L124.04 263.77 L125.03 263.47 L126.02 263.17 L127.01 262.88 L128 262.58 L128.99 262.29 L129.98 262.01 L130.96 261.72 L131.94 261.43 L132.9 261.15 L133.85 260.86 L134.79 260.58 L135.71 260.29 L136.62 260 L137.5 259.7 L138.53 259.33 L139.49 258.97 L140.39 258.6 L141.26 258.24 L142.1 257.87 L142.93 257.5 L143.77 257.13 L144.65 256.77 L145.56 256.39 L146.54 256.02 L147.59 255.65 L148.74 255.28 L150 254.9 L150.8 254.68 L151.63 254.45 L152.5 254.22 L153.4 253.99 L154.32 253.77 L155.27 253.53 L156.25 253.3 L157.24 253.07 L158.25 252.84 L159.28 252.61 L160.32 252.38 L161.37 252.14 L162.42 251.91 L163.48 251.68 L164.54 251.45 L165.6 251.23 L166.66 251 L167.71 250.78 L168.75 250.55 L169.78 250.33 L170.8 250.12 L171.8 249.9 L172.79 249.69 L173.78 249.47 L174.77 249.26 L175.76 249.05 L176.75 248.85 L177.74 248.64 L178.73 248.43 L179.72 248.23 L180.71 248.02 L181.7 247.82 L182.69 247.62 L183.68 247.42 L184.67 247.22 L185.67 247.02 L186.66 246.83 L187.65 246.63 L188.64 246.44 L189.63 246.25 L190.62 246.06 L191.61 245.87 L192.61 245.68 L193.6 245.5 L194.59 245.32 L195.59 245.14 L196.58 244.96 L197.58 244.79 L198.57 244.62 L199.57 244.45 L200.56 244.28 L201.56 244.11 L202.56 243.95 L203.55 243.78 L204.55 243.62 L205.55 243.46 L206.54 243.29 L207.54 243.13 L208.54 242.97 L209.53 242.8 L210.53 242.64 L211.52 242.48 L212.52 242.31 L213.51 242.14 L214.51 241.97 L215.5 241.8 L216.49 241.63 L217.49 241.45 L218.49 241.27 L219.49 241.09 L220.49 240.9 L221.49 240.72 L222.5 240.53 L223.5 240.34 L224.5 240.15 L225.5 239.97 L226.5 239.78 L227.5 239.6 L228.49 239.41 L229.49 239.23 L230.48 239.05 L231.47 238.88 L232.45 238.7 L233.43 238.53 L234.4 238.37 L235.37 238.21 L236.34 238.05 L237.3 237.9 L238.37 237.74 L239.48 237.58 L240.62 237.41 L241.78 237.26 L242.96 237.1 L244.14 236.94 L245.32 236.79 L246.5 236.64 L247.67 236.5 L248.81 236.36 L249.93 236.22 L251.01 236.09 L252.06 235.97 L253.05 235.85 L253.99 235.74 L254.86 235.63 L255.67 235.54 L256.4 235.45 L257.04 235.37 L257.6 235.3" fill="none" stroke="#1f3dff" stroke-width="1.4" stroke-linejoin="round" stroke-linecap="round" />
<path d="M57.6 353.8a1.3 1.3 0 1 0 2.6 0a1.3 1.3 0 1 0 -2.6 0M59.98 288.73a1.3 1.3 0 1 0 2.6 0a1.3 1.3 0 1 0 -2.6 0M62.45 286.5a1.3 1.3 0 1 0 2.6 0a1.3 1.3 0 1 0 -2.6 0M64.93 286.77a1.3 1.3 0 1 0 2.6 0a1.3 1.3 0 1 0 -2.6 0M67.41 287.92a1.3 1.3 0 1 0 2.6 0a1.3 1.3 0 1 0 -2.6 0M69.89 284.42a1.3 1.3 0 1 0 2.6 0a1.3 1.3 0 1 0 -2.6 0M72.36 280.56a1.3 1.3 0 1 0 2.6 0a1.3 1.3 0 1 0 -2.6 0M74.84 278a1.3 1.3 0 1 0 2.6 0a1.3 1.3 0 1 0 -2.6 0M77.32 277a1.3 1.3 0 1 0 2.6 0a1.3 1.3 0 1 0 -2.6 0M79.8 276.46a1.3 1.3 0 1 0 2.6 0a1.3 1.3 0 1 0 -2.6 0M82.27 275.83a1.3 1.3 0 1 0 2.6 0a1.3 1.3 0 1 0 -2.6 0M84.75 275.07a1.3 1.3 0 1 0 2.6 0a1.3 1.3 0 1 0 -2.6 0M87.23 274.34a1.3 1.3 0 1 0 2.6 0a1.3 1.3 0 1 0 -2.6 0M89.71 273.68a1.3 1.3 0 1 0 2.6 0a1.3 1.3 0 1 0 -2.6 0M92.19 273.07a1.3 1.3 0 1 0 2.6 0a1.3 1.3 0 1 0 -2.6 0M94.66 272.52a1.3 1.3 0 1 0 2.6 0a1.3 1.3 0 1 0 -2.6 0M97.14 271.97a1.3 1.3 0 1 0 2.6 0a1.3 1.3 0 1 0 -2.6 0M99.62 271.4a1.3 1.3 0 1 0 2.6 0a1.3 1.3 0 1 0 -2.6 0M102.09 270.8a1.3 1.3 0 1 0 2.6 0a1.3 1.3 0 1 0 -2.6 0M104.57 270.14a1.3 1.3 0 1 0 2.6 0a1.3 1.3 0 1 0 -2.6 0M107.05 269.38a1.3 1.3 0 1 0 2.6 0a1.3 1.3 0 1 0 -2.6 0M109.53 268.53a1.3 1.3 0 1 0 2.6 0a1.3 1.3 0 1 0 -2.6 0M112.01 267.62a1.3 1.3 0 1 0 2.6 0a1.3 1.3 0 1 0 -2.6 0M114.48 266.69a1.3 1.3 0 1 0 2.6 0a1.3 1.3 0 1 0 -2.6 0M116.96 265.76a1.3 1.3 0 1 0 2.6 0a1.3 1.3 0 1 0 -2.6 0M119.44 264.86a1.3 1.3 0 1 0 2.6 0a1.3 1.3 0 1 0 -2.6 0M121.92 264.04a1.3 1.3 0 1 0 2.6 0a1.3 1.3 0 1 0 -2.6 0M124.39 263.27a1.3 1.3 0 1 0 2.6 0a1.3 1.3 0 1 0 -2.6 0M126.87 262.53a1.3 1.3 0 1 0 2.6 0a1.3 1.3 0 1 0 -2.6 0M129.35 261.81a1.3 1.3 0 1 0 2.6 0a1.3 1.3 0 1 0 -2.6 0M131.82 261.08a1.3 1.3 0 1 0 2.6 0a1.3 1.3 0 1 0 -2.6 0M134.3 260.32a1.3 1.3 0 1 0 2.6 0a1.3 1.3 0 1 0 -2.6 0M136.78 259.49a1.3 1.3 0 1 0 2.6 0a1.3 1.3 0 1 0 -2.6 0M139.26 258.53a1.3 1.3 0 1 0 2.6 0a1.3 1.3 0 1 0 -2.6 0M141.73 257.46a1.3 1.3 0 1 0 2.6 0a1.3 1.3 0 1 0 -2.6 0M144.21 256.42a1.3 1.3 0 1 0 2.6 0a1.3 1.3 0 1 0 -2.6 0M146.69 255.52a1.3 1.3 0 1 0 2.6 0a1.3 1.3 0 1 0 -2.6 0M149.17 254.77a1.3 1.3 0 1 0 2.6 0a1.3 1.3 0 1 0 -2.6 0M151.64 254.11a1.3 1.3 0 1 0 2.6 0a1.3 1.3 0 1 0 -2.6 0M154.12 253.5a1.3 1.3 0 1 0 2.6 0a1.3 1.3 0 1 0 -2.6 0M156.6 252.92a1.3 1.3 0 1 0 2.6 0a1.3 1.3 0 1 0 -2.6 0M159.08 252.36a1.3 1.3 0 1 0 2.6 0a1.3 1.3 0 1 0 -2.6 0M161.56 251.82a1.3 1.3 0 1 0 2.6 0a1.3 1.3 0 1 0 -2.6 0M164.03 251.28a1.3 1.3 0 1 0 2.6 0a1.3 1.3 0 1 0 -2.6 0M166.51 250.75a1.3 1.3 0 1 0 2.6 0a1.3 1.3 0 1 0 -2.6 0M168.99 250.22a1.3 1.3 0 1 0 2.6 0a1.3 1.3 0 1 0 -2.6 0M171.46 249.69a1.3 1.3 0 1 0 2.6 0a1.3 1.3 0 1 0 -2.6 0M173.94 249.16a1.3 1.3 0 1 0 2.6 0a1.3 1.3 0 1 0 -2.6 0M176.42 248.64a1.3 1.3 0 1 0 2.6 0a1.3 1.3 0 1 0 -2.6 0M178.9 248.13a1.3 1.3 0 1 0 2.6 0a1.3 1.3 0 1 0 -2.6 0M181.38 247.62a1.3 1.3 0 1 0 2.6 0a1.3 1.3 0 1 0 -2.6 0M183.85 247.13a1.3 1.3 0 1 0 2.6 0a1.3 1.3 0 1 0 -2.6 0M186.33 246.64a1.3 1.3 0 1 0 2.6 0a1.3 1.3 0 1 0 -2.6 0M188.81 246.16a1.3 1.3 0 1 0 2.6 0a1.3 1.3 0 1 0 -2.6 0M191.28 245.69a1.3 1.3 0 1 0 2.6 0a1.3 1.3 0 1 0 -2.6 0M193.76 245.23a1.3 1.3 0 1 0 2.6 0a1.3 1.3 0 1 0 -2.6 0M196.24 244.79a1.3 1.3 0 1 0 2.6 0a1.3 1.3 0 1 0 -2.6 0M198.72 244.37a1.3 1.3 0 1 0 2.6 0a1.3 1.3 0 1 0 -2.6 0M201.19 243.96a1.3 1.3 0 1 0 2.6 0a1.3 1.3 0 1 0 -2.6 0M203.67 243.55a1.3 1.3 0 1 0 2.6 0a1.3 1.3 0 1 0 -2.6 0M206.15 243.15a1.3 1.3 0 1 0 2.6 0a1.3 1.3 0 1 0 -2.6 0M208.63 242.74a1.3 1.3 0 1 0 2.6 0a1.3 1.3 0 1 0 -2.6 0M211.1 242.33a1.3 1.3 0 1 0 2.6 0a1.3 1.3 0 1 0 -2.6 0M213.58 241.91a1.3 1.3 0 1 0 2.6 0a1.3 1.3 0 1 0 -2.6 0M216.06 241.47a1.3 1.3 0 1 0 2.6 0a1.3 1.3 0 1 0 -2.6 0M218.54 241.02a1.3 1.3 0 1 0 2.6 0a1.3 1.3 0 1 0 -2.6 0M221.01 240.56a1.3 1.3 0 1 0 2.6 0a1.3 1.3 0 1 0 -2.6 0M223.49 240.1a1.3 1.3 0 1 0 2.6 0a1.3 1.3 0 1 0 -2.6 0M225.97 239.64a1.3 1.3 0 1 0 2.6 0a1.3 1.3 0 1 0 -2.6 0M228.45 239.18a1.3 1.3 0 1 0 2.6 0a1.3 1.3 0 1 0 -2.6 0M230.93 238.74a1.3 1.3 0 1 0 2.6 0a1.3 1.3 0 1 0 -2.6 0M233.4 238.32a1.3 1.3 0 1 0 2.6 0a1.3 1.3 0 1 0 -2.6 0M235.88 237.92a1.3 1.3 0 1 0 2.6 0a1.3 1.3 0 1 0 -2.6 0M238.36 237.55a1.3 1.3 0 1 0 2.6 0a1.3 1.3 0 1 0 -2.6 0M240.83 237.21a1.3 1.3 0 1 0 2.6 0a1.3 1.3 0 1 0 -2.6 0M243.31 236.88a1.3 1.3 0 1 0 2.6 0a1.3 1.3 0 1 0 -2.6 0M245.79 236.57a1.3 1.3 0 1 0 2.6 0a1.3 1.3 0 1 0 -2.6 0M248.27 236.26a1.3 1.3 0 1 0 2.6 0a1.3 1.3 0 1 0 -2.6 0M250.75 235.97a1.3 1.3 0 1 0 2.6 0a1.3 1.3 0 1 0 -2.6 0M253.22 235.67a1.3 1.3 0 1 0 2.6 0a1.3 1.3 0 1 0 -2.6 0M255.7 235.38a1.3 1.3 0 1 0 2.6 0a1.3 1.3 0 1 0 -2.6 0" fill="#1f3dff"/>
<path d="M63.75 362.93 L66.23 355.17 L68.71 349.6 L71.19 345.95 L73.66 342.78 L76.14 339.4 L78.62 335.61 L81.1 331.77 L83.57 328.2 L86.05 324.77 L88.53 321.49 L91.01 318.6 L93.48 316.97 L95.96 316.51 L98.44 315.77 L100.92 314.06 L103.39 308.44 L105.87 303.81 L108.35 304.19 L110.83 304.52 L113.31 303.49 L115.78 303.72 L118.26 306.23 L120.74 305.21 L123.22 305.64 L125.69 308.02 L128.17 306.82 L130.65 307.51 L133.12 305.87 L135.6 305.43 L138.08 303.44 L140.56 304 L143.03 303.88 L145.51 302.31 L147.99 302.31 L150.47 301.84 L152.94 300.68 L155.42 303.31 L157.9 302.94 L160.38 301.52 L162.86 299.79 L165.33 300.88 L167.81 298.9 L170.29 298.8 L172.76 298.73 L175.24 298.01 L177.72 298.36 L180.2 296.86 L182.68 297.81 L185.15 296.78 L187.63 297.92 L190.11 297.59 L192.58 295.29 L195.06 295.02 L197.54 294.78 L200.02 296.22 L202.5 294.29 L204.97 294.2 L207.45 292.75 L209.93 292.69 L212.4 291.79 L214.88 291.14 L217.36 291.23 L219.84 290.73 L222.31 291.07 L224.79 290.01 L227.27 290.16 L229.75 289.49 L232.23 289.34 L234.7 288 L237.18 286.15 L239.66 287.41 L242.13 287.11 L244.61 286.38 L247.09 284.92 L249.57 284.7 L252.05 282.79 L254.52 283.8 L257 282.53" fill="none" stroke="#ff1a1a" stroke-width="1.2" stroke-linejoin="round" stroke-linecap="round" />
<path d="M63.75 361.13L65.41 364.13L62.1 364.13zM68.71 347.8L70.36 350.8L67.06 350.8zM73.66 340.98L75.31 343.98L72.01 343.98zM78.62 333.81L80.27 336.81L76.97 336.81zM83.57 326.4L85.22 329.4L81.92 329.4zM88.53 319.69L90.18 322.69L86.88 322.69zM93.48 315.17L95.14 318.17L91.83 318.17zM98.44 313.97L100.09 316.97L96.79 316.97zM103.39 306.64L105.05 309.64L101.74 309.64zM108.35 302.39L110 305.39L106.7 305.39zM113.31 301.69L114.96 304.69L111.66 304.69zM118.26 304.43L119.91 307.43L116.61 307.43zM123.22 303.84L124.87 306.84L121.56 306.84zM128.17 305.02L129.82 308.02L126.52 308.02zM133.12 304.07L134.78 307.07L131.47 307.07zM138.08 301.64L139.73 304.64L136.43 304.64zM143.03 302.08L144.69 305.08L141.38 305.08zM147.99 300.51L149.64 303.51L146.34 303.51zM152.94 298.88L154.59 301.88L151.29 301.88zM157.9 301.14L159.55 304.14L156.25 304.14zM162.86 297.99L164.51 300.99L161.21 300.99zM167.81 297.1L169.46 300.1L166.16 300.1zM172.76 296.93L174.41 299.93L171.11 299.93zM177.72 296.56L179.37 299.56L176.07 299.56zM182.68 296.01L184.33 299.01L181.03 299.01zM187.63 296.12L189.28 299.12L185.98 299.12zM192.58 293.49L194.23 296.49L190.93 296.49zM197.54 292.98L199.19 295.98L195.89 295.98zM202.5 292.49L204.15 295.49L200.84 295.49zM207.45 290.95L209.1 293.95L205.8 293.95zM212.4 289.99L214.05 292.99L210.75 292.99zM217.36 289.43L219.01 292.43L215.71 292.43zM222.31 289.27L223.97 292.27L220.66 292.27zM227.27 288.36L228.92 291.36L225.62 291.36zM232.23 287.54L233.88 290.54L230.58 290.54zM237.18 284.35L238.83 287.35L235.53 287.35zM242.13 285.31L243.78 288.31L240.48 288.31zM247.09 283.12L248.74 286.12L245.44 286.12zM252.05 280.99L253.7 283.99L250.4 283.99zM257 280.73L258.65 283.73L255.35 283.73z" fill="#ff1a1a"/>
<path d="M193.6 356.4H216.4" stroke="#111111" stroke-width="1.3"/>
<path d="M203.5 354.9h3v3h-3z" fill="#111111"/>
<text x="219.2" y="360.14" font-size="10.4" text-anchor="start" fill="#1a1a1a" >PbS-TBAI</text>
<path d="M193.6 368.7H216.4" stroke="#1f3dff" stroke-width="1.3"/>
<path d="M203.5 368.7a1.5 1.5 0 1 0 3 0a1.5 1.5 0 1 0 -3 0" fill="#1f3dff"/>
<text x="219.2" y="372.44" font-size="10.4" text-anchor="start" fill="#1a1a1a" >Organic</text>
<path d="M193.6 381H216.4" stroke="#ff1a1a" stroke-width="1.3"/>
<path d="M205 378.96L206.87 382.36L203.13 382.36z" fill="#ff1a1a"/>
<text x="219.2" y="384.74" font-size="10.4" text-anchor="start" fill="#1a1a1a" >Bilayer</text>
<rect x="327.2" y="217.6" width="217.2" height="172" fill="none" stroke="#222" stroke-width="1.3"/>
<path d="M336.5 389.6v-4.6M386.05 389.6v-4.6M435.6 389.6v-4.6M485.15 389.6v-4.6M534.7 389.6v-4.6M361.27 389.6v-2.6M410.82 389.6v-2.6M460.38 389.6v-2.6M509.93 389.6v-2.6" stroke="#222" stroke-width="1" fill="none"/>
<path d="M327.2 389.6h4.6M327.2 366.6h4.6M327.2 343.6h4.6M327.2 320.6h4.6M327.2 297.6h4.6M327.2 274.6h4.6M327.2 251.6h4.6M327.2 228.6h4.6M327.2 382.68h2.6M327.2 378.63h2.6M327.2 375.75h2.6M327.2 373.52h2.6M327.2 371.7h2.6M327.2 370.16h2.6M327.2 368.83h2.6M327.2 367.65h2.6M327.2 359.68h2.6M327.2 355.63h2.6M327.2 352.75h2.6M327.2 350.52h2.6M327.2 348.7h2.6M327.2 347.16h2.6M327.2 345.83h2.6M327.2 344.65h2.6M327.2 336.68h2.6M327.2 332.63h2.6M327.2 329.75h2.6M327.2 327.52h2.6M327.2 325.7h2.6M327.2 324.16h2.6M327.2 322.83h2.6M327.2 321.65h2.6M327.2 313.68h2.6M327.2 309.63h2.6M327.2 306.75h2.6M327.2 304.52h2.6M327.2 302.7h2.6M327.2 301.16h2.6M327.2 299.83h2.6M327.2 298.65h2.6M327.2 290.68h2.6M327.2 286.63h2.6M327.2 283.75h2.6M327.2 281.52h2.6M327.2 279.7h2.6M327.2 278.16h2.6M327.2 276.83h2.6M327.2 275.65h2.6M327.2 267.68h2.6M327.2 263.63h2.6M327.2 260.75h2.6M327.2 258.52h2.6M327.2 256.7h2.6M327.2 255.16h2.6M327.2 253.83h2.6M327.2 252.65h2.6M327.2 244.68h2.6M327.2 240.63h2.6M327.2 237.75h2.6M327.2 235.52h2.6M327.2 233.7h2.6M327.2 232.16h2.6M327.2 230.83h2.6M327.2 229.65h2.6M327.2 221.68h2.6" stroke="#222" stroke-width="1" fill="none"/>
<text x="336.5" y="402.8" font-size="9.8" text-anchor="middle" fill="#1a1a1a" >0</text>
<text x="386.05" y="402.8" font-size="9.8" text-anchor="middle" fill="#1a1a1a" >10</text>
<text x="435.6" y="402.8" font-size="9.8" text-anchor="middle" fill="#1a1a1a" >20</text>
<text x="485.15" y="402.8" font-size="9.8" text-anchor="middle" fill="#1a1a1a" >30</text>
<text x="534.7" y="402.8" font-size="9.8" text-anchor="middle" fill="#1a1a1a" >40</text>
<text x="322.5" y="255.2" font-size="10" text-anchor="end" fill="#1a1a1a" >10<tspan font-size="6" dy="-5.4">-8</tspan></text>
<text x="322.5" y="301.2" font-size="10" text-anchor="end" fill="#1a1a1a" >10<tspan font-size="6" dy="-5.4">-10</tspan></text>
<text x="322.5" y="347.2" font-size="10" text-anchor="end" fill="#1a1a1a" >10<tspan font-size="6" dy="-5.4">-12</tspan></text>
<text x="322.5" y="393.2" font-size="10" text-anchor="end" fill="#1a1a1a" >10<tspan font-size="6" dy="-5.4">-14</tspan></text>
<text x="435.7" y="413.6" font-size="12.5" text-anchor="middle" fill="#1a1a1a" >Voltage (V)</text>
<text transform="translate(293.7 312.2) rotate(-90)" font-size="12.2" text-anchor="middle" fill="#1a1a1a">Light Current (A)</text>
<path d="M336.4 328.5 L336.43 327.94 L336.47 327.29 L336.51 326.54 L336.55 325.71 L336.6 324.81 L336.64 323.84 L336.69 322.81 L336.75 321.72 L336.8 320.6 L336.86 319.43 L336.92 318.24 L336.99 317.03 L337.05 315.81 L337.12 314.58 L337.18 313.35 L337.25 312.13 L337.32 310.94 L337.4 309.77 L337.47 308.63 L337.54 307.54 L337.62 306.49 L337.69 305.51 L337.77 304.59 L337.85 303.74 L337.92 302.98 L338 302.3 L338.35 300.06 L338.71 298.63 L339.11 297.74 L339.52 297.14 L339.95 296.58 L340.4 295.8 L340.87 294.84 L341.37 293.91 L341.88 293.02 L342.41 292.17 L342.95 291.36 L343.5 290.6 L344.15 289.79 L344.81 289.09 L345.49 288.44 L346.21 287.76 L347 287 L347.65 286.29 L348.28 285.53 L348.94 284.75 L349.7 283.96 L350.63 283.17 L351.8 282.4 L352.54 282 L353.32 281.62 L354.15 281.24 L355.04 280.87 L355.97 280.5 L356.96 280.13 L357.99 279.75 L359.09 279.35 L360.23 278.93 L361.44 278.48 L362.7 278 L363.51 277.69 L364.37 277.35 L365.26 277 L366.19 276.64 L367.14 276.26 L368.13 275.87 L369.13 275.48 L370.15 275.08 L371.17 274.68 L372.21 274.28 L373.25 273.89 L374.29 273.51 L375.31 273.13 L376.33 272.77 L377.33 272.42 L378.32 272.09 L379.27 271.78 L380.2 271.5 L381.27 271.19 L382.3 270.9 L383.3 270.64 L384.27 270.39 L385.22 270.16 L386.17 269.95 L387.11 269.75 L388.06 269.55 L389.02 269.37 L390 269.18 L391.01 269 L392.06 268.81 L393.15 268.62 L394.3 268.41 L395.5 268.2 L396.35 268.05 L397.2 267.9 L398.05 267.75 L398.92 267.6 L399.8 267.45 L400.68 267.3 L401.58 267.15 L402.49 267 L403.41 266.85 L404.36 266.7 L405.31 266.55 L406.29 266.4 L407.28 266.25 L408.3 266.1 L409.33 265.95 L410.39 265.8 L411.48 265.65 L412.59 265.5 L413.72 265.35 L414.88 265.2 L416.08 265.05 L417.3 264.9 L418.16 264.8 L419.03 264.69 L419.92 264.59 L420.82 264.48 L421.73 264.38 L422.65 264.27 L423.59 264.17 L424.54 264.06 L425.5 263.96 L426.47 263.85 L427.45 263.75 L428.44 263.64 L429.45 263.53 L430.46 263.43 L431.48 263.32 L432.51 263.22 L433.55 263.11 L434.6 263.01 L435.66 262.9 L436.72 262.8 L437.8 262.7 L438.88 262.59 L439.96 262.49 L441.06 262.39 L442.16 262.29 L443.26 262.19 L444.37 262.09 L445.49 261.99 L446.61 261.89 L447.74 261.79 L448.87 261.7 L450 261.6 L450.91 261.52 L451.83 261.45 L452.75 261.37 L453.68 261.3 L454.62 261.23 L455.56 261.15 L456.5 261.08 L457.45 261.01 L458.41 260.94 L459.37 260.87 L460.34 260.8 L461.31 260.73 L462.28 260.66 L463.27 260.59 L464.25 260.52 L465.24 260.45 L466.23 260.39 L467.23 260.32 L468.23 260.25 L469.24 260.18 L470.25 260.11 L471.26 260.05 L472.28 259.98 L473.3 259.91 L474.32 259.84 L475.35 259.77 L476.38 259.71 L477.41 259.64 L478.45 259.57 L479.48 259.5 L480.53 259.43 L481.57 259.36 L482.62 259.3 L483.66 259.23 L484.72 259.16 L485.77 259.09 L486.82 259.02 L487.88 258.94 L488.94 258.87 L490 258.8 L490.96 258.73 L491.94 258.67 L492.94 258.6 L493.97 258.53 L495.02 258.46 L496.09 258.39 L497.17 258.31 L498.27 258.24 L499.38 258.16 L500.51 258.09 L501.65 258.01 L502.79 257.94 L503.95 257.86 L505.1 257.78 L506.27 257.7 L507.43 257.63 L508.6 257.55 L509.76 257.47 L510.92 257.39 L512.08 257.32 L513.24 257.24 L514.38 257.16 L515.52 257.09 L516.64 257.01 L517.76 256.94 L518.85 256.87 L519.94 256.79 L521 256.72 L522.05 256.65 L523.08 256.59 L524.08 256.52 L525.06 256.45 L526.02 256.39 L526.95 256.33 L527.85 256.27 L528.72 256.21 L529.55 256.16 L530.36 256.1 L531.12 256.05 L531.86 256 L532.55 255.96 L533.2 255.91 L533.81 255.87 L534.38 255.83 L534.9 255.8" fill="none" stroke="#111111" stroke-width="1.3" stroke-linejoin="round" stroke-linecap="round" />
<path d="M335 327.1h2.8v2.8h-2.8zM337.58 296.63h2.8v2.8h-2.8zM340.06 292.36h2.8v2.8h-2.8zM342.53 288.67h2.8v2.8h-2.8zM345.01 286.17h2.8v2.8h-2.8zM347.49 283.41h2.8v2.8h-2.8zM349.97 281.29h2.8v2.8h-2.8zM352.44 279.98h2.8v2.8h-2.8zM354.92 278.97h2.8v2.8h-2.8zM357.4 278.05h2.8v2.8h-2.8zM359.88 277.14h2.8v2.8h-2.8zM362.35 276.19h2.8v2.8h-2.8zM364.83 275.22h2.8v2.8h-2.8zM367.31 274.24h2.8v2.8h-2.8zM369.79 273.28h2.8v2.8h-2.8zM372.26 272.34h2.8v2.8h-2.8zM374.74 271.44h2.8v2.8h-2.8zM377.22 270.6h2.8v2.8h-2.8zM379.7 269.84h2.8v2.8h-2.8zM382.17 269.17h2.8v2.8h-2.8zM384.65 268.58h2.8v2.8h-2.8zM387.13 268.06h2.8v2.8h-2.8zM389.61 267.6h2.8v2.8h-2.8zM392.08 267.16h2.8v2.8h-2.8zM394.56 266.72h2.8v2.8h-2.8zM397.04 266.28h2.8v2.8h-2.8zM399.52 265.86h2.8v2.8h-2.8zM401.99 265.45h2.8v2.8h-2.8zM404.47 265.06h2.8v2.8h-2.8zM406.95 264.69h2.8v2.8h-2.8zM409.43 264.34h2.8v2.8h-2.8zM411.9 264.01h2.8v2.8h-2.8zM414.38 263.69h2.8v2.8h-2.8zM416.86 263.38h2.8v2.8h-2.8zM419.34 263.09h2.8v2.8h-2.8zM421.81 262.81h2.8v2.8h-2.8zM424.29 262.54h2.8v2.8h-2.8zM426.77 262.27h2.8v2.8h-2.8zM429.25 262.01h2.8v2.8h-2.8zM431.72 261.76h2.8v2.8h-2.8zM434.2 261.51h2.8v2.8h-2.8zM436.68 261.27h2.8v2.8h-2.8zM439.16 261.04h2.8v2.8h-2.8zM441.63 260.81h2.8v2.8h-2.8zM444.11 260.59h2.8v2.8h-2.8zM446.59 260.37h2.8v2.8h-2.8zM449.07 260.16h2.8v2.8h-2.8zM451.54 259.96h2.8v2.8h-2.8zM454.02 259.77h2.8v2.8h-2.8zM456.5 259.58h2.8v2.8h-2.8zM458.98 259.4h2.8v2.8h-2.8zM461.45 259.22h2.8v2.8h-2.8zM463.93 259.05h2.8v2.8h-2.8zM466.41 258.88h2.8v2.8h-2.8zM468.88 258.71h2.8v2.8h-2.8zM471.36 258.55h2.8v2.8h-2.8zM473.84 258.38h2.8v2.8h-2.8zM476.32 258.22h2.8v2.8h-2.8zM478.8 258.06h2.8v2.8h-2.8zM481.27 257.89h2.8v2.8h-2.8zM483.75 257.73h2.8v2.8h-2.8zM486.23 257.56h2.8v2.8h-2.8zM488.71 257.39h2.8v2.8h-2.8zM491.18 257.22h2.8v2.8h-2.8zM493.66 257.06h2.8v2.8h-2.8zM496.14 256.89h2.8v2.8h-2.8zM498.62 256.72h2.8v2.8h-2.8zM501.09 256.56h2.8v2.8h-2.8zM503.57 256.39h2.8v2.8h-2.8zM506.05 256.22h2.8v2.8h-2.8zM508.53 256.06h2.8v2.8h-2.8zM511 255.89h2.8v2.8h-2.8zM513.48 255.73h2.8v2.8h-2.8zM515.96 255.56h2.8v2.8h-2.8zM518.44 255.4h2.8v2.8h-2.8zM520.91 255.24h2.8v2.8h-2.8zM523.39 255.07h2.8v2.8h-2.8zM525.87 254.91h2.8v2.8h-2.8zM528.35 254.74h2.8v2.8h-2.8zM530.82 254.58h2.8v2.8h-2.8zM533.3 254.41h2.8v2.8h-2.8z" fill="#111111"/>
<path d="M336.4 372.3 L336.42 371.77 L336.45 371.18 L336.48 370.55 L336.51 369.86 L336.54 369.13 L336.57 368.35 L336.61 367.53 L336.64 366.67 L336.68 365.77 L336.71 364.83 L336.75 363.86 L336.79 362.85 L336.84 361.82 L336.88 360.75 L336.92 359.66 L336.97 358.55 L337.01 357.41 L337.06 356.25 L337.1 355.08 L337.15 353.89 L337.2 352.68 L337.25 351.47 L337.3 350.24 L337.35 349.01 L337.4 347.77 L337.46 346.52 L337.51 345.28 L337.56 344.04 L337.62 342.8 L337.67 341.56 L337.73 340.34 L337.78 339.12 L337.84 337.91 L337.89 336.72 L337.95 335.54 L338 334.38 L338.06 333.24 L338.12 332.12 L338.17 331.02 L338.23 329.95 L338.29 328.91 L338.34 327.9 L338.4 326.92 L338.46 325.97 L338.51 325.07 L338.57 324.2 L338.63 323.37 L338.68 322.58 L338.74 321.84 L338.79 321.14 L338.85 320.5 L338.9 319.9 L339.32 316.53 L339.77 314.6 L340.24 313.73 L340.71 313.54 L341.17 313.63 L341.6 313.61 L342 313.1 L342.48 312.11 L342.89 311.39 L343.28 310.61 L343.67 309.43 L344.1 307.5 L344.23 306.77 L344.35 305.93 L344.47 304.99 L344.59 303.97 L344.71 302.88 L344.83 301.74 L344.95 300.56 L345.07 299.35 L345.19 298.13 L345.32 296.91 L345.46 295.72 L345.6 294.55 L345.74 293.43 L345.9 292.36 L346.06 291.38 L346.23 290.48 L346.41 289.68 L346.6 289 L347.43 287.42 L348.43 286.79 L349.48 286.57 L350.44 286.24 L351.2 285.3 L351.47 284.48 L351.69 283.47 L351.85 282.33 L351.98 281.11 L352.09 279.84 L352.19 278.59 L352.3 277.41 L352.43 276.33 L352.59 275.41 L352.8 274.7 L353.62 273.76 L354.61 273.86 L356 273.5 L356.67 273.04 L357.43 272.47 L358.26 271.82 L359.14 271.12 L360.04 270.38 L360.95 269.64 L361.84 268.9 L362.7 268.2 L363.5 267.52 L364.26 266.84 L364.99 266.15 L365.74 265.46 L366.51 264.76 L367.35 264.07 L368.27 263.38 L369.3 262.7 L370.04 262.24 L370.82 261.77 L371.62 261.29 L372.45 260.81 L373.31 260.34 L374.21 259.86 L375.13 259.4 L376.08 258.94 L377.06 258.5 L378.08 258.08 L379.12 257.68 L380.2 257.3 L381.08 257.02 L381.97 256.76 L382.87 256.52 L383.8 256.3 L384.73 256.09 L385.69 255.88 L386.67 255.68 L387.67 255.49 L388.7 255.3 L389.76 255.1 L390.84 254.9 L391.95 254.7 L393.1 254.48 L394.28 254.25 L395.5 254 L396.36 253.82 L397.24 253.63 L398.14 253.44 L399.07 253.24 L400.01 253.04 L400.98 252.83 L401.96 252.62 L402.95 252.41 L403.95 252.19 L404.97 251.97 L405.99 251.76 L407.02 251.54 L408.06 251.33 L409.1 251.11 L410.14 250.9 L411.18 250.7 L412.22 250.5 L413.25 250.31 L414.28 250.12 L415.29 249.94 L416.3 249.76 L417.3 249.6 L418.35 249.44 L419.42 249.28 L420.51 249.13 L421.61 248.98 L422.73 248.84 L423.85 248.7 L424.97 248.57 L426.09 248.44 L427.21 248.31 L428.33 248.19 L429.43 248.07 L430.52 247.96 L431.59 247.84 L432.64 247.73 L433.67 247.62 L434.66 247.52 L435.63 247.41 L436.56 247.31 L437.45 247.21 L438.3 247.1 L439.1 247 L440.39 246.82 L441.35 246.65 L442.07 246.5 L442.64 246.36 L443.15 246.22 L443.69 246.09 L444.35 245.95 L445.22 245.81 L446.39 245.66 L447.96 245.49 L450 245.3 L450.65 245.24 L451.34 245.19 L452.05 245.13 L452.8 245.07 L453.57 245.01 L454.38 244.95 L455.21 244.89 L456.06 244.83 L456.94 244.77 L457.84 244.7 L458.76 244.64 L459.71 244.58 L460.67 244.51 L461.65 244.44 L462.65 244.38 L463.67 244.31 L464.7 244.24 L465.75 244.18 L466.8 244.11 L467.88 244.04 L468.96 243.97 L470.05 243.9 L471.14 243.83 L472.25 243.76 L473.36 243.69 L474.48 243.61 L475.6 243.54 L476.72 243.47 L477.85 243.4 L478.97 243.33 L480.1 243.25 L481.22 243.18 L482.34 243.11 L483.46 243.04 L484.57 242.96 L485.67 242.89 L486.77 242.82 L487.85 242.75 L488.93 242.67 L490 242.6 L490.96 242.53 L491.94 242.47 L492.94 242.4 L493.97 242.33 L495.02 242.26 L496.09 242.18 L497.17 242.11 L498.27 242.03 L499.38 241.96 L500.51 241.88 L501.65 241.8 L502.79 241.72 L503.95 241.64 L505.1 241.56 L506.27 241.48 L507.43 241.4 L508.6 241.32 L509.76 241.24 L510.92 241.16 L512.08 241.08 L513.24 241 L514.38 240.92 L515.52 240.84 L516.64 240.76 L517.76 240.69 L518.85 240.61 L519.94 240.54 L521 240.46 L522.05 240.39 L523.08 240.32 L524.08 240.25 L525.06 240.18 L526.02 240.11 L526.95 240.05 L527.85 239.99 L528.72 239.93 L529.55 239.87 L530.36 239.81 L531.12 239.76 L531.86 239.71 L532.55 239.66 L533.2 239.62 L533.81 239.58 L534.38 239.54 L534.9 239.5" fill="none" stroke="#1f3dff" stroke-width="1.4" stroke-linejoin="round" stroke-linecap="round" />
<path d="M335.1 372.3a1.3 1.3 0 1 0 2.6 0a1.3 1.3 0 1 0 -2.6 0M337.68 319.28a1.3 1.3 0 1 0 2.6 0a1.3 1.3 0 1 0 -2.6 0M340.15 313.62a1.3 1.3 0 1 0 2.6 0a1.3 1.3 0 1 0 -2.6 0M342.63 308.25a1.3 1.3 0 1 0 2.6 0a1.3 1.3 0 1 0 -2.6 0M345.11 289.67a1.3 1.3 0 1 0 2.6 0a1.3 1.3 0 1 0 -2.6 0M347.59 286.69a1.3 1.3 0 1 0 2.6 0a1.3 1.3 0 1 0 -2.6 0M350.06 284.81a1.3 1.3 0 1 0 2.6 0a1.3 1.3 0 1 0 -2.6 0M352.54 273.78a1.3 1.3 0 1 0 2.6 0a1.3 1.3 0 1 0 -2.6 0M355.02 273.28a1.3 1.3 0 1 0 2.6 0a1.3 1.3 0 1 0 -2.6 0M357.5 271.39a1.3 1.3 0 1 0 2.6 0a1.3 1.3 0 1 0 -2.6 0M359.97 269.37a1.3 1.3 0 1 0 2.6 0a1.3 1.3 0 1 0 -2.6 0M362.45 267.29a1.3 1.3 0 1 0 2.6 0a1.3 1.3 0 1 0 -2.6 0M364.93 265.02a1.3 1.3 0 1 0 2.6 0a1.3 1.3 0 1 0 -2.6 0M367.41 263.09a1.3 1.3 0 1 0 2.6 0a1.3 1.3 0 1 0 -2.6 0M369.88 261.55a1.3 1.3 0 1 0 2.6 0a1.3 1.3 0 1 0 -2.6 0M372.36 260.15a1.3 1.3 0 1 0 2.6 0a1.3 1.3 0 1 0 -2.6 0M374.84 258.91a1.3 1.3 0 1 0 2.6 0a1.3 1.3 0 1 0 -2.6 0M377.32 257.87a1.3 1.3 0 1 0 2.6 0a1.3 1.3 0 1 0 -2.6 0M379.8 257.02a1.3 1.3 0 1 0 2.6 0a1.3 1.3 0 1 0 -2.6 0M382.27 256.35a1.3 1.3 0 1 0 2.6 0a1.3 1.3 0 1 0 -2.6 0M384.75 255.81a1.3 1.3 0 1 0 2.6 0a1.3 1.3 0 1 0 -2.6 0M387.23 255.33a1.3 1.3 0 1 0 2.6 0a1.3 1.3 0 1 0 -2.6 0M389.7 254.87a1.3 1.3 0 1 0 2.6 0a1.3 1.3 0 1 0 -2.6 0M392.18 254.4a1.3 1.3 0 1 0 2.6 0a1.3 1.3 0 1 0 -2.6 0M394.66 253.9a1.3 1.3 0 1 0 2.6 0a1.3 1.3 0 1 0 -2.6 0M397.14 253.38a1.3 1.3 0 1 0 2.6 0a1.3 1.3 0 1 0 -2.6 0M399.62 252.84a1.3 1.3 0 1 0 2.6 0a1.3 1.3 0 1 0 -2.6 0M402.09 252.31a1.3 1.3 0 1 0 2.6 0a1.3 1.3 0 1 0 -2.6 0M404.57 251.78a1.3 1.3 0 1 0 2.6 0a1.3 1.3 0 1 0 -2.6 0M407.05 251.27a1.3 1.3 0 1 0 2.6 0a1.3 1.3 0 1 0 -2.6 0M409.52 250.77a1.3 1.3 0 1 0 2.6 0a1.3 1.3 0 1 0 -2.6 0M412 250.3a1.3 1.3 0 1 0 2.6 0a1.3 1.3 0 1 0 -2.6 0M414.48 249.85a1.3 1.3 0 1 0 2.6 0a1.3 1.3 0 1 0 -2.6 0M416.96 249.45a1.3 1.3 0 1 0 2.6 0a1.3 1.3 0 1 0 -2.6 0M419.44 249.1a1.3 1.3 0 1 0 2.6 0a1.3 1.3 0 1 0 -2.6 0M421.91 248.78a1.3 1.3 0 1 0 2.6 0a1.3 1.3 0 1 0 -2.6 0M424.39 248.48a1.3 1.3 0 1 0 2.6 0a1.3 1.3 0 1 0 -2.6 0M426.87 248.21a1.3 1.3 0 1 0 2.6 0a1.3 1.3 0 1 0 -2.6 0M429.34 247.94a1.3 1.3 0 1 0 2.6 0a1.3 1.3 0 1 0 -2.6 0M431.82 247.68a1.3 1.3 0 1 0 2.6 0a1.3 1.3 0 1 0 -2.6 0M434.3 247.42a1.3 1.3 0 1 0 2.6 0a1.3 1.3 0 1 0 -2.6 0M436.78 247.13a1.3 1.3 0 1 0 2.6 0a1.3 1.3 0 1 0 -2.6 0M439.25 246.79a1.3 1.3 0 1 0 2.6 0a1.3 1.3 0 1 0 -2.6 0M441.73 246.25a1.3 1.3 0 1 0 2.6 0a1.3 1.3 0 1 0 -2.6 0M444.21 245.77a1.3 1.3 0 1 0 2.6 0a1.3 1.3 0 1 0 -2.6 0M446.69 245.49a1.3 1.3 0 1 0 2.6 0a1.3 1.3 0 1 0 -2.6 0M449.17 245.26a1.3 1.3 0 1 0 2.6 0a1.3 1.3 0 1 0 -2.6 0M451.64 245.06a1.3 1.3 0 1 0 2.6 0a1.3 1.3 0 1 0 -2.6 0M454.12 244.88a1.3 1.3 0 1 0 2.6 0a1.3 1.3 0 1 0 -2.6 0M456.6 244.7a1.3 1.3 0 1 0 2.6 0a1.3 1.3 0 1 0 -2.6 0M459.07 244.53a1.3 1.3 0 1 0 2.6 0a1.3 1.3 0 1 0 -2.6 0M461.55 244.37a1.3 1.3 0 1 0 2.6 0a1.3 1.3 0 1 0 -2.6 0M464.03 244.2a1.3 1.3 0 1 0 2.6 0a1.3 1.3 0 1 0 -2.6 0M466.51 244.04a1.3 1.3 0 1 0 2.6 0a1.3 1.3 0 1 0 -2.6 0M468.98 243.88a1.3 1.3 0 1 0 2.6 0a1.3 1.3 0 1 0 -2.6 0M471.46 243.72a1.3 1.3 0 1 0 2.6 0a1.3 1.3 0 1 0 -2.6 0M473.94 243.57a1.3 1.3 0 1 0 2.6 0a1.3 1.3 0 1 0 -2.6 0M476.42 243.41a1.3 1.3 0 1 0 2.6 0a1.3 1.3 0 1 0 -2.6 0M478.89 243.25a1.3 1.3 0 1 0 2.6 0a1.3 1.3 0 1 0 -2.6 0M481.37 243.09a1.3 1.3 0 1 0 2.6 0a1.3 1.3 0 1 0 -2.6 0M483.85 242.93a1.3 1.3 0 1 0 2.6 0a1.3 1.3 0 1 0 -2.6 0M486.33 242.76a1.3 1.3 0 1 0 2.6 0a1.3 1.3 0 1 0 -2.6 0M488.81 242.59a1.3 1.3 0 1 0 2.6 0a1.3 1.3 0 1 0 -2.6 0M491.28 242.42a1.3 1.3 0 1 0 2.6 0a1.3 1.3 0 1 0 -2.6 0M493.76 242.25a1.3 1.3 0 1 0 2.6 0a1.3 1.3 0 1 0 -2.6 0M496.24 242.08a1.3 1.3 0 1 0 2.6 0a1.3 1.3 0 1 0 -2.6 0M498.71 241.91a1.3 1.3 0 1 0 2.6 0a1.3 1.3 0 1 0 -2.6 0M501.19 241.74a1.3 1.3 0 1 0 2.6 0a1.3 1.3 0 1 0 -2.6 0M503.67 241.57a1.3 1.3 0 1 0 2.6 0a1.3 1.3 0 1 0 -2.6 0M506.15 241.4a1.3 1.3 0 1 0 2.6 0a1.3 1.3 0 1 0 -2.6 0M508.62 241.23a1.3 1.3 0 1 0 2.6 0a1.3 1.3 0 1 0 -2.6 0M511.1 241.06a1.3 1.3 0 1 0 2.6 0a1.3 1.3 0 1 0 -2.6 0M513.58 240.89a1.3 1.3 0 1 0 2.6 0a1.3 1.3 0 1 0 -2.6 0M516.06 240.71a1.3 1.3 0 1 0 2.6 0a1.3 1.3 0 1 0 -2.6 0M518.54 240.54a1.3 1.3 0 1 0 2.6 0a1.3 1.3 0 1 0 -2.6 0M521.01 240.37a1.3 1.3 0 1 0 2.6 0a1.3 1.3 0 1 0 -2.6 0M523.49 240.2a1.3 1.3 0 1 0 2.6 0a1.3 1.3 0 1 0 -2.6 0M525.97 240.03a1.3 1.3 0 1 0 2.6 0a1.3 1.3 0 1 0 -2.6 0M528.45 239.86a1.3 1.3 0 1 0 2.6 0a1.3 1.3 0 1 0 -2.6 0M530.92 239.69a1.3 1.3 0 1 0 2.6 0a1.3 1.3 0 1 0 -2.6 0M533.4 239.51a1.3 1.3 0 1 0 2.6 0a1.3 1.3 0 1 0 -2.6 0" fill="#1f3dff"/>
<path d="M338.9 316.8 L338.98 315.95 L341.45 294.87 L343.93 283.52 L346.41 279 L348.89 275.68 L351.37 271.76 L353.84 273.27 L356.32 270.48 L358.8 267.74 L361.27 265.64 L363.75 263.65 L366.23 261.69 L368.71 259.9 L371.19 258.17 L373.66 256.4 L376.14 254.8 L378.62 253.53 L381.1 252.62 L383.57 252.04 L386.05 251.66 L388.53 251.39 L391 251.16 L393.48 250.92 L395.96 250.65 L398.44 250.38 L400.92 250.38 L403.39 250.38 L405.87 250.26 L408.35 250.33 L410.82 249.69 L413.3 249.8 L415.78 247.74 L418.26 248.31 L420.74 248.94 L423.21 248.01 L425.69 248.15 L428.17 246.21 L430.64 246.54 L433.12 245.72 L435.6 245.93 L438.08 245.61 L440.56 244.1 L443.03 244.11 L445.51 243.82 L447.99 244.67 L450.47 243.95 L452.94 242.3 L455.42 243.11 L457.9 241.33 L460.38 241.85 L462.85 240.46 L465.33 239.84 L467.81 241.27 L470.28 239.68 L472.76 239.48 L475.24 240.85 L477.72 240.49 L480.19 239.18 L482.67 240.39 L485.15 239.4 L487.63 239.52 L490.11 238.4 L492.58 239.7 L495.06 239.02 L497.54 239.4 L500.01 239.08 L502.49 237.71 L504.97 237.66 L507.45 237.09 L509.93 236.88 L512.4 236.54 L514.88 236.83 L517.36 237.26 L519.84 235.88 L522.31 237.06 L524.79 236.2 L527.27 235.97 L529.75 236.81 L532.22 235.95 L534.7 235.45" fill="none" stroke="#ff1a1a" stroke-width="1.2" stroke-linejoin="round" stroke-linecap="round" />
<path d="M338.9 315L340.55 318L337.25 318zM341.45 293.07L343.1 296.07L339.81 296.07zM346.41 277.2L348.06 280.2L344.76 280.2zM351.37 269.96L353.01 272.96L349.72 272.96zM356.32 268.68L357.97 271.68L354.67 271.68zM361.27 263.84L362.92 266.84L359.62 266.84zM366.23 259.89L367.88 262.89L364.58 262.89zM371.19 256.37L372.83 259.37L369.54 259.37zM376.14 253L377.79 256L374.49 256zM381.1 250.82L382.75 253.82L379.45 253.82zM386.05 249.86L387.7 252.86L384.4 252.86zM391 249.36L392.65 252.36L389.36 252.36zM395.96 248.85L397.61 251.85L394.31 251.85zM400.92 248.58L402.56 251.58L399.27 251.58zM405.87 248.46L407.52 251.46L404.22 251.46zM410.82 247.89L412.47 250.89L409.18 250.89zM415.78 245.94L417.43 248.94L414.13 248.94zM420.74 247.14L422.38 250.14L419.09 250.14zM425.69 246.35L427.34 249.35L424.04 249.35zM430.64 244.74L432.29 247.74L429 247.74zM435.6 244.13L437.25 247.13L433.95 247.13zM440.56 242.3L442.2 245.3L438.91 245.3zM445.51 242.02L447.16 245.02L443.86 245.02zM450.47 242.15L452.12 245.15L448.82 245.15zM455.42 241.31L457.07 244.31L453.77 244.31zM460.38 240.05L462.02 243.05L458.73 243.05zM465.33 238.04L466.98 241.04L463.68 241.04zM470.28 237.88L471.93 240.88L468.63 240.88zM475.24 239.05L476.89 242.05L473.59 242.05zM480.19 237.38L481.84 240.38L478.55 240.38zM485.15 237.6L486.8 240.6L483.5 240.6zM490.11 236.6L491.75 239.6L488.46 239.6zM495.06 237.22L496.71 240.22L493.41 240.22zM500.01 237.28L501.66 240.28L498.37 240.28zM504.97 235.86L506.62 238.86L503.32 238.86zM509.93 235.08L511.57 238.08L508.28 238.08zM514.88 235.03L516.53 238.03L513.23 238.03zM519.84 234.08L521.49 237.08L518.19 237.08zM524.79 234.4L526.44 237.4L523.14 237.4zM529.75 235.01L531.39 238.01L528.1 238.01zM534.7 233.65L536.35 236.65L533.05 236.65z" fill="#ff1a1a"/>
<path d="M469 355.5H491.8" stroke="#111111" stroke-width="1.3"/>
<path d="M478.9 354h3v3h-3z" fill="#111111"/>
<text x="494.6" y="359.24" font-size="10.4" text-anchor="start" fill="#1a1a1a" >PbS-TBAI</text>
<path d="M469 368.2H491.8" stroke="#1f3dff" stroke-width="1.3"/>
<path d="M478.9 368.2a1.5 1.5 0 1 0 3 0a1.5 1.5 0 1 0 -3 0" fill="#1f3dff"/>
<text x="494.6" y="371.94" font-size="10.4" text-anchor="start" fill="#1a1a1a" >Organic</text>
<path d="M469 380H491.8" stroke="#ff1a1a" stroke-width="1.3"/>
<path d="M480.4 377.96L482.27 381.36L478.53 381.36z" fill="#ff1a1a"/>
<text x="494.6" y="383.74" font-size="10.4" text-anchor="start" fill="#1a1a1a" >Bilayer</text>
<path d="M35.5 551.9h3.6M35.5 532.8h3.6M35.5 513.7h3.6M35.5 494.6h3.6M35.5 475.5h3.6M35.5 456.4h3.6M35.5 437.3h3.6M35.5 542.35h2.2M35.5 523.25h2.2M35.5 504.15h2.2M35.5 485.05h2.2M35.5 465.95h2.2M35.5 446.85h2.2" stroke="#222" stroke-width="1" fill="none"/>
<text x="31.8" y="554.8" font-size="9.1" text-anchor="end" fill="#1a1a1a" >0</text>
<text x="31.8" y="535.7" font-size="9.1" text-anchor="end" fill="#1a1a1a" >2</text>
<text x="31.8" y="516.6" font-size="9.1" text-anchor="end" fill="#1a1a1a" >4</text>
<text x="31.8" y="497.5" font-size="9.1" text-anchor="end" fill="#1a1a1a" >6</text>
<text x="31.8" y="478.4" font-size="9.1" text-anchor="end" fill="#1a1a1a" >8</text>
<text x="31.8" y="459.3" font-size="9.1" text-anchor="end" fill="#1a1a1a" >10</text>
<text x="31.8" y="440.2" font-size="9.1" text-anchor="end" fill="#1a1a1a" >12</text>
<rect x="35.5" y="428.2" width="142.7" height="124.9" fill="none" stroke="#222" stroke-width="1.3"/>
<path d="M35.6 553.1v-3.6M76.28 553.1v-3.6M116.96 553.1v-3.6M157.64 553.1v-3.6M55.94 553.1v-3M96.62 553.1v-3M137.3 553.1v-3" stroke="#222" stroke-width="1" fill="none"/>
<path d="M35.3 552.1 L35.75 551.89 L36.31 551.63 L36.96 551.32 L37.69 550.98 L38.48 550.6 L39.33 550.21 L40.22 549.8 L41.12 549.39 L42.04 548.99 L42.95 548.6 L43.84 548.23 L44.7 547.9 L45.48 547.62 L46.27 547.34 L47.08 547.06 L47.9 546.8 L48.72 546.54 L49.55 546.28 L50.39 546.03 L51.23 545.78 L52.07 545.54 L52.9 545.3 L53.74 545.07 L54.57 544.83 L55.4 544.6 L56.22 544.37 L57.05 544.13 L57.87 543.89 L58.69 543.65 L59.51 543.42 L60.33 543.19 L61.15 542.96 L61.98 542.75 L62.8 542.55 L63.62 542.36 L64.45 542.19 L65.27 542.03 L66.1 541.9 L66.93 541.79 L67.78 541.69 L68.63 541.61 L69.49 541.55 L70.35 541.5 L71.21 541.46 L72.06 541.44 L72.91 541.42 L73.74 541.41 L74.56 541.4 L75.36 541.4 L76.14 541.4 L76.9 541.4 L77.84 541.4 L78.75 541.42 L79.62 541.44 L80.46 541.47 L81.29 541.51 L82.1 541.57 L82.92 541.63 L83.73 541.71 L84.56 541.8 L85.4 541.9 L86.27 542.02 L87.16 542.16 L88.06 542.32 L88.97 542.49 L89.87 542.67 L90.76 542.86 L91.62 543.05 L92.46 543.24 L93.25 543.42 L94 543.6 L94.9 543.85 L95.6 544.11 L96.21 544.37 L96.84 544.62 L97.58 544.87 L98.53 545.09 L99.8 545.3 L100.39 545.38 L101.03 545.45 L101.72 545.53 L102.44 545.61 L103.19 545.68 L103.98 545.76 L104.79 545.83 L105.63 545.9 L106.49 545.97 L107.36 546.03 L108.25 546.09 L109.14 546.14 L110.05 546.19 L110.95 546.23 L111.85 546.26 L112.74 546.28 L113.63 546.3 L114.5 546.3 L115.29 546.29 L116.11 546.27 L116.95 546.23 L117.8 546.18 L118.67 546.13 L119.55 546.06 L120.44 545.99 L121.33 545.91 L122.22 545.84 L123.11 545.76 L123.98 545.68 L124.85 545.6 L125.7 545.53 L126.53 545.46 L127.34 545.41 L128.12 545.36 L128.87 545.32 L129.58 545.3 L130.26 545.29 L130.9 545.3 L132.05 545.36 L133.06 545.46 L133.96 545.6 L134.77 545.76 L135.51 545.95 L136.21 546.15 L136.9 546.37 L137.59 546.58 L138.32 546.8 L139.1 547 L139.92 547.2 L140.74 547.42 L141.56 547.65 L142.38 547.89 L143.2 548.13 L144.02 548.36 L144.84 548.59 L145.66 548.81 L146.48 549.01 L147.3 549.2 L148.05 549.37 L148.71 549.52 L149.3 549.67 L149.88 549.8 L150.49 549.93 L151.18 550.05 L151.97 550.17 L152.93 550.28 L154.09 550.39 L155.5 550.5 L156.08 550.54 L156.73 550.58 L157.43 550.62 L158.18 550.66 L158.98 550.7 L159.81 550.74 L160.69 550.77 L161.59 550.81 L162.52 550.85 L163.47 550.89 L164.43 550.92 L165.41 550.96 L166.38 551 L167.36 551.03 L168.34 551.07 L169.3 551.1 L170.25 551.13 L171.17 551.16 L172.08 551.19 L172.95 551.22 L173.78 551.25 L174.58 551.27 L175.32 551.3 L176.02 551.32 L176.66 551.34 L177.24 551.36 L177.76 551.38 L178.2 551.4" fill="none" stroke="#111111" stroke-width="1.56" stroke-linejoin="round" stroke-linecap="round" />
<path d="M33.93 552.1a1.37 1.37 0 1 0 2.73 0a1.37 1.37 0 1 0 -2.73 0M36.27 551a1.37 1.37 0 1 0 2.73 0a1.37 1.37 0 1 0 -2.73 0M38.3 550.05a1.37 1.37 0 1 0 2.73 0a1.37 1.37 0 1 0 -2.73 0M40.34 549.13a1.37 1.37 0 1 0 2.73 0a1.37 1.37 0 1 0 -2.73 0M42.37 548.27a1.37 1.37 0 1 0 2.73 0a1.37 1.37 0 1 0 -2.73 0M44.41 547.51a1.37 1.37 0 1 0 2.73 0a1.37 1.37 0 1 0 -2.73 0M46.44 546.83a1.37 1.37 0 1 0 2.73 0a1.37 1.37 0 1 0 -2.73 0M48.47 546.2a1.37 1.37 0 1 0 2.73 0a1.37 1.37 0 1 0 -2.73 0M50.51 545.6a1.37 1.37 0 1 0 2.73 0a1.37 1.37 0 1 0 -2.73 0M52.54 545.02a1.37 1.37 0 1 0 2.73 0a1.37 1.37 0 1 0 -2.73 0M54.57 544.45a1.37 1.37 0 1 0 2.73 0a1.37 1.37 0 1 0 -2.73 0M56.61 543.86a1.37 1.37 0 1 0 2.73 0a1.37 1.37 0 1 0 -2.73 0M58.64 543.28a1.37 1.37 0 1 0 2.73 0a1.37 1.37 0 1 0 -2.73 0M60.68 542.74a1.37 1.37 0 1 0 2.73 0a1.37 1.37 0 1 0 -2.73 0M62.71 542.27a1.37 1.37 0 1 0 2.73 0a1.37 1.37 0 1 0 -2.73 0M64.75 541.9a1.37 1.37 0 1 0 2.73 0a1.37 1.37 0 1 0 -2.73 0M66.78 541.66a1.37 1.37 0 1 0 2.73 0a1.37 1.37 0 1 0 -2.73 0M68.81 541.51a1.37 1.37 0 1 0 2.73 0a1.37 1.37 0 1 0 -2.73 0M70.85 541.43a1.37 1.37 0 1 0 2.73 0a1.37 1.37 0 1 0 -2.73 0M72.88 541.4a1.37 1.37 0 1 0 2.73 0a1.37 1.37 0 1 0 -2.73 0M74.92 541.4a1.37 1.37 0 1 0 2.73 0a1.37 1.37 0 1 0 -2.73 0M76.95 541.41a1.37 1.37 0 1 0 2.73 0a1.37 1.37 0 1 0 -2.73 0M78.98 541.47a1.37 1.37 0 1 0 2.73 0a1.37 1.37 0 1 0 -2.73 0M81.02 541.59a1.37 1.37 0 1 0 2.73 0a1.37 1.37 0 1 0 -2.73 0M83.05 541.78a1.37 1.37 0 1 0 2.73 0a1.37 1.37 0 1 0 -2.73 0M85.09 542.05a1.37 1.37 0 1 0 2.73 0a1.37 1.37 0 1 0 -2.73 0M87.12 542.4a1.37 1.37 0 1 0 2.73 0a1.37 1.37 0 1 0 -2.73 0M89.15 542.81a1.37 1.37 0 1 0 2.73 0a1.37 1.37 0 1 0 -2.73 0M91.19 543.26a1.37 1.37 0 1 0 2.73 0a1.37 1.37 0 1 0 -2.73 0M93.22 543.76a1.37 1.37 0 1 0 2.73 0a1.37 1.37 0 1 0 -2.73 0M95.26 544.53a1.37 1.37 0 1 0 2.73 0a1.37 1.37 0 1 0 -2.73 0M97.29 545.11a1.37 1.37 0 1 0 2.73 0a1.37 1.37 0 1 0 -2.73 0M99.32 545.41a1.37 1.37 0 1 0 2.73 0a1.37 1.37 0 1 0 -2.73 0M101.36 545.64a1.37 1.37 0 1 0 2.73 0a1.37 1.37 0 1 0 -2.73 0M103.39 545.83a1.37 1.37 0 1 0 2.73 0a1.37 1.37 0 1 0 -2.73 0M105.42 545.99a1.37 1.37 0 1 0 2.73 0a1.37 1.37 0 1 0 -2.73 0M107.46 546.12a1.37 1.37 0 1 0 2.73 0a1.37 1.37 0 1 0 -2.73 0M109.49 546.22a1.37 1.37 0 1 0 2.73 0a1.37 1.37 0 1 0 -2.73 0M111.53 546.28a1.37 1.37 0 1 0 2.73 0a1.37 1.37 0 1 0 -2.73 0M113.56 546.3a1.37 1.37 0 1 0 2.73 0a1.37 1.37 0 1 0 -2.73 0M115.6 546.23a1.37 1.37 0 1 0 2.73 0a1.37 1.37 0 1 0 -2.73 0M117.63 546.1a1.37 1.37 0 1 0 2.73 0a1.37 1.37 0 1 0 -2.73 0M119.66 545.94a1.37 1.37 0 1 0 2.73 0a1.37 1.37 0 1 0 -2.73 0M121.7 545.76a1.37 1.37 0 1 0 2.73 0a1.37 1.37 0 1 0 -2.73 0M123.73 545.58a1.37 1.37 0 1 0 2.73 0a1.37 1.37 0 1 0 -2.73 0M125.77 545.42a1.37 1.37 0 1 0 2.73 0a1.37 1.37 0 1 0 -2.73 0M127.8 545.31a1.37 1.37 0 1 0 2.73 0a1.37 1.37 0 1 0 -2.73 0M129.83 545.32a1.37 1.37 0 1 0 2.73 0a1.37 1.37 0 1 0 -2.73 0M131.87 545.48a1.37 1.37 0 1 0 2.73 0a1.37 1.37 0 1 0 -2.73 0M133.9 545.89a1.37 1.37 0 1 0 2.73 0a1.37 1.37 0 1 0 -2.73 0M135.94 546.49a1.37 1.37 0 1 0 2.73 0a1.37 1.37 0 1 0 -2.73 0M137.97 547.06a1.37 1.37 0 1 0 2.73 0a1.37 1.37 0 1 0 -2.73 0M140 547.6a1.37 1.37 0 1 0 2.73 0a1.37 1.37 0 1 0 -2.73 0M142.04 548.18a1.37 1.37 0 1 0 2.73 0a1.37 1.37 0 1 0 -2.73 0M144.07 548.75a1.37 1.37 0 1 0 2.73 0a1.37 1.37 0 1 0 -2.73 0M146.1 549.24a1.37 1.37 0 1 0 2.73 0a1.37 1.37 0 1 0 -2.73 0M148.14 549.72a1.37 1.37 0 1 0 2.73 0a1.37 1.37 0 1 0 -2.73 0M150.17 550.1a1.37 1.37 0 1 0 2.73 0a1.37 1.37 0 1 0 -2.73 0M152.21 550.34a1.37 1.37 0 1 0 2.73 0a1.37 1.37 0 1 0 -2.73 0M154.24 550.51a1.37 1.37 0 1 0 2.73 0a1.37 1.37 0 1 0 -2.73 0M156.27 550.63a1.37 1.37 0 1 0 2.73 0a1.37 1.37 0 1 0 -2.73 0M158.31 550.73a1.37 1.37 0 1 0 2.73 0a1.37 1.37 0 1 0 -2.73 0M160.34 550.82a1.37 1.37 0 1 0 2.73 0a1.37 1.37 0 1 0 -2.73 0M162.38 550.9a1.37 1.37 0 1 0 2.73 0a1.37 1.37 0 1 0 -2.73 0M164.41 550.97a1.37 1.37 0 1 0 2.73 0a1.37 1.37 0 1 0 -2.73 0M166.44 551.05a1.37 1.37 0 1 0 2.73 0a1.37 1.37 0 1 0 -2.73 0M168.48 551.12a1.37 1.37 0 1 0 2.73 0a1.37 1.37 0 1 0 -2.73 0M170.51 551.18a1.37 1.37 0 1 0 2.73 0a1.37 1.37 0 1 0 -2.73 0M172.55 551.25a1.37 1.37 0 1 0 2.73 0a1.37 1.37 0 1 0 -2.73 0M174.58 551.32a1.37 1.37 0 1 0 2.73 0a1.37 1.37 0 1 0 -2.73 0M176.61 551.39a1.37 1.37 0 1 0 2.73 0a1.37 1.37 0 1 0 -2.73 0" fill="#111111"/>
<path d="M35.3 551.1 L35.54 550.71 L35.83 550.25 L36.16 549.71 L36.53 549.11 L36.94 548.46 L37.37 547.76 L37.83 547.03 L38.31 546.26 L38.8 545.47 L39.29 544.67 L39.8 543.86 L40.3 543.05 L40.79 542.25 L41.27 541.47 L41.74 540.71 L42.18 539.98 L42.6 539.3 L43.05 538.55 L43.5 537.8 L43.94 537.06 L44.37 536.31 L44.8 535.57 L45.22 534.84 L45.65 534.11 L46.07 533.39 L46.48 532.68 L46.9 531.97 L47.32 531.27 L47.73 530.59 L48.15 529.91 L48.58 529.25 L49 528.6 L49.49 527.86 L49.98 527.13 L50.47 526.41 L50.97 525.69 L51.46 524.99 L51.95 524.31 L52.44 523.63 L52.93 522.98 L53.42 522.34 L53.92 521.72 L54.41 521.13 L54.9 520.55 L55.4 520 L56.04 519.32 L56.68 518.7 L57.31 518.11 L57.94 517.55 L58.58 517.02 L59.22 516.52 L59.87 516.03 L60.53 515.55 L61.21 515.08 L61.9 514.6 L62.61 514.12 L63.34 513.65 L64.08 513.19 L64.83 512.74 L65.59 512.3 L66.35 511.88 L67.12 511.48 L67.88 511.09 L68.65 510.73 L69.4 510.4 L70.23 510.07 L71.05 509.78 L71.86 509.53 L72.68 509.31 L73.5 509.1 L74.33 508.89 L75.17 508.68 L76.02 508.45 L76.9 508.2 L77.65 507.95 L78.44 507.67 L79.26 507.35 L80.09 507.02 L80.93 506.69 L81.76 506.38 L82.58 506.1 L83.36 505.87 L84.1 505.69 L84.78 505.6 L85.4 505.6 L86.23 505.76 L86.93 506.09 L87.54 506.55 L88.08 507.12 L88.59 507.78 L89.12 508.52 L89.7 509.3 L90.14 509.92 L90.59 510.63 L91.05 511.42 L91.51 512.26 L91.96 513.11 L92.41 513.96 L92.84 514.78 L93.26 515.55 L93.64 516.23 L94 516.8 L94.67 517.76 L95.16 518.31 L95.69 518.78 L96.5 519.5 L97.01 520 L97.6 520.61 L98.25 521.3 L98.94 522.02 L99.66 522.72 L100.37 523.35 L101.06 523.87 L101.71 524.24 L102.3 524.4 L102.95 524.28 L103.53 523.88 L104.05 523.26 L104.56 522.51 L105.1 521.71 L105.7 520.95 L106.4 520.3 L107.03 519.83 L107.71 519.32 L108.45 518.79 L109.21 518.27 L109.99 517.77 L110.76 517.32 L111.52 516.94 L112.23 516.66 L112.9 516.5 L113.81 516.47 L114.65 516.63 L115.45 516.95 L116.23 517.41 L117 517.97 L117.8 518.6 L118.34 519.06 L118.86 519.56 L119.37 520.11 L119.88 520.7 L120.41 521.34 L120.94 522.03 L121.5 522.77 L122.08 523.56 L122.7 524.4 L123.12 524.98 L123.55 525.59 L124 526.24 L124.46 526.91 L124.94 527.6 L125.41 528.32 L125.9 529.05 L126.39 529.79 L126.88 530.54 L127.37 531.28 L127.86 532.03 L128.35 532.77 L128.83 533.49 L129.3 534.2 L129.77 534.91 L130.23 535.64 L130.7 536.39 L131.16 537.14 L131.62 537.9 L132.09 538.66 L132.55 539.41 L133.01 540.14 L133.48 540.86 L133.94 541.56 L134.4 542.22 L134.87 542.86 L135.33 543.45 L135.8 544 L136.44 544.7 L137.06 545.34 L137.67 545.92 L138.28 546.45 L138.89 546.94 L139.52 547.38 L140.18 547.8 L140.87 548.18 L141.61 548.55 L142.4 548.9 L143.05 549.17 L143.66 549.42 L144.25 549.63 L144.83 549.83 L145.44 550 L146.09 550.16 L146.81 550.31 L147.61 550.44 L148.54 550.56 L149.59 550.68 L150.81 550.79 L152.2 550.9 L152.79 550.94 L153.43 550.98 L154.12 551.02 L154.85 551.05 L155.63 551.09 L156.44 551.12 L157.29 551.15 L158.17 551.18 L159.07 551.21 L160 551.24 L160.95 551.26 L161.91 551.29 L162.88 551.31 L163.85 551.33 L164.83 551.35 L165.81 551.38 L166.79 551.39 L167.75 551.41 L168.71 551.43 L169.64 551.45 L170.56 551.46 L171.45 551.48 L172.32 551.49 L173.15 551.5 L173.95 551.52 L174.7 551.53 L175.42 551.54 L176.08 551.55 L176.7 551.57 L177.26 551.58 L177.76 551.59 L178.2 551.6" fill="none" stroke="#1f3dff" stroke-width="1.32" stroke-linejoin="round" stroke-linecap="round" />
<path d="M34.14 551.1a1.16 1.16 0 1 0 2.31 0a1.16 1.16 0 1 0 -2.31 0M36.48 547.34a1.16 1.16 0 1 0 2.31 0a1.16 1.16 0 1 0 -2.31 0M38.51 544.07a1.16 1.16 0 1 0 2.31 0a1.16 1.16 0 1 0 -2.31 0M40.55 540.77a1.16 1.16 0 1 0 2.31 0a1.16 1.16 0 1 0 -2.31 0M42.58 537.4a1.16 1.16 0 1 0 2.31 0a1.16 1.16 0 1 0 -2.31 0M44.62 533.9a1.16 1.16 0 1 0 2.31 0a1.16 1.16 0 1 0 -2.31 0M46.65 530.48a1.16 1.16 0 1 0 2.31 0a1.16 1.16 0 1 0 -2.31 0M48.68 527.35a1.16 1.16 0 1 0 2.31 0a1.16 1.16 0 1 0 -2.31 0M50.72 524.41a1.16 1.16 0 1 0 2.31 0a1.16 1.16 0 1 0 -2.31 0M52.75 521.74a1.16 1.16 0 1 0 2.31 0a1.16 1.16 0 1 0 -2.31 0M54.78 519.43a1.16 1.16 0 1 0 2.31 0a1.16 1.16 0 1 0 -2.31 0M56.82 517.53a1.16 1.16 0 1 0 2.31 0a1.16 1.16 0 1 0 -2.31 0M58.85 515.93a1.16 1.16 0 1 0 2.31 0a1.16 1.16 0 1 0 -2.31 0M60.89 514.5a1.16 1.16 0 1 0 2.31 0a1.16 1.16 0 1 0 -2.31 0M62.92 513.19a1.16 1.16 0 1 0 2.31 0a1.16 1.16 0 1 0 -2.31 0M64.95 512.01a1.16 1.16 0 1 0 2.31 0a1.16 1.16 0 1 0 -2.31 0M66.99 510.97a1.16 1.16 0 1 0 2.31 0a1.16 1.16 0 1 0 -2.31 0M69.02 510.09a1.16 1.16 0 1 0 2.31 0a1.16 1.16 0 1 0 -2.31 0M71.06 509.44a1.16 1.16 0 1 0 2.31 0a1.16 1.16 0 1 0 -2.31 0M73.09 508.91a1.16 1.16 0 1 0 2.31 0a1.16 1.16 0 1 0 -2.31 0M75.12 508.38a1.16 1.16 0 1 0 2.31 0a1.16 1.16 0 1 0 -2.31 0M77.16 507.71a1.16 1.16 0 1 0 2.31 0a1.16 1.16 0 1 0 -2.31 0M79.19 506.92a1.16 1.16 0 1 0 2.31 0a1.16 1.16 0 1 0 -2.31 0M81.23 506.17a1.16 1.16 0 1 0 2.31 0a1.16 1.16 0 1 0 -2.31 0M83.26 505.65a1.16 1.16 0 1 0 2.31 0a1.16 1.16 0 1 0 -2.31 0M85.3 505.86a1.16 1.16 0 1 0 2.31 0a1.16 1.16 0 1 0 -2.31 0M87.33 507.64a1.16 1.16 0 1 0 2.31 0a1.16 1.16 0 1 0 -2.31 0M89.36 510.52a1.16 1.16 0 1 0 2.31 0a1.16 1.16 0 1 0 -2.31 0M91.4 514.23a1.16 1.16 0 1 0 2.31 0a1.16 1.16 0 1 0 -2.31 0M93.43 517.64a1.16 1.16 0 1 0 2.31 0a1.16 1.16 0 1 0 -2.31 0M95.47 519.62a1.16 1.16 0 1 0 2.31 0a1.16 1.16 0 1 0 -2.31 0M97.5 521.72a1.16 1.16 0 1 0 2.31 0a1.16 1.16 0 1 0 -2.31 0M99.53 523.59a1.16 1.16 0 1 0 2.31 0a1.16 1.16 0 1 0 -2.31 0M101.57 524.33a1.16 1.16 0 1 0 2.31 0a1.16 1.16 0 1 0 -2.31 0M103.6 522.22a1.16 1.16 0 1 0 2.31 0a1.16 1.16 0 1 0 -2.31 0M105.63 520.01a1.16 1.16 0 1 0 2.31 0a1.16 1.16 0 1 0 -2.31 0M107.67 518.53a1.16 1.16 0 1 0 2.31 0a1.16 1.16 0 1 0 -2.31 0M109.7 517.27a1.16 1.16 0 1 0 2.31 0a1.16 1.16 0 1 0 -2.31 0M111.74 516.5a1.16 1.16 0 1 0 2.31 0a1.16 1.16 0 1 0 -2.31 0M113.77 516.74a1.16 1.16 0 1 0 2.31 0a1.16 1.16 0 1 0 -2.31 0M115.81 517.94a1.16 1.16 0 1 0 2.31 0a1.16 1.16 0 1 0 -2.31 0M117.84 519.71a1.16 1.16 0 1 0 2.31 0a1.16 1.16 0 1 0 -2.31 0M119.87 522.15a1.16 1.16 0 1 0 2.31 0a1.16 1.16 0 1 0 -2.31 0M121.91 524.9a1.16 1.16 0 1 0 2.31 0a1.16 1.16 0 1 0 -2.31 0M123.94 527.84a1.16 1.16 0 1 0 2.31 0a1.16 1.16 0 1 0 -2.31 0M125.97 530.92a1.16 1.16 0 1 0 2.31 0a1.16 1.16 0 1 0 -2.31 0M128.01 534a1.16 1.16 0 1 0 2.31 0a1.16 1.16 0 1 0 -2.31 0M130.04 537.2a1.16 1.16 0 1 0 2.31 0a1.16 1.16 0 1 0 -2.31 0M132.08 540.48a1.16 1.16 0 1 0 2.31 0a1.16 1.16 0 1 0 -2.31 0M134.11 543.37a1.16 1.16 0 1 0 2.31 0a1.16 1.16 0 1 0 -2.31 0M136.15 545.57a1.16 1.16 0 1 0 2.31 0a1.16 1.16 0 1 0 -2.31 0M138.18 547.25a1.16 1.16 0 1 0 2.31 0a1.16 1.16 0 1 0 -2.31 0M140.21 548.43a1.16 1.16 0 1 0 2.31 0a1.16 1.16 0 1 0 -2.31 0M142.25 549.31a1.16 1.16 0 1 0 2.31 0a1.16 1.16 0 1 0 -2.31 0M144.28 550a1.16 1.16 0 1 0 2.31 0a1.16 1.16 0 1 0 -2.31 0M146.31 550.41a1.16 1.16 0 1 0 2.31 0a1.16 1.16 0 1 0 -2.31 0M148.35 550.67a1.16 1.16 0 1 0 2.31 0a1.16 1.16 0 1 0 -2.31 0M150.38 550.85a1.16 1.16 0 1 0 2.31 0a1.16 1.16 0 1 0 -2.31 0M152.42 550.99a1.16 1.16 0 1 0 2.31 0a1.16 1.16 0 1 0 -2.31 0M154.45 551.09a1.16 1.16 0 1 0 2.31 0a1.16 1.16 0 1 0 -2.31 0M156.48 551.16a1.16 1.16 0 1 0 2.31 0a1.16 1.16 0 1 0 -2.31 0M158.52 551.23a1.16 1.16 0 1 0 2.31 0a1.16 1.16 0 1 0 -2.31 0M160.55 551.28a1.16 1.16 0 1 0 2.31 0a1.16 1.16 0 1 0 -2.31 0M162.59 551.33a1.16 1.16 0 1 0 2.31 0a1.16 1.16 0 1 0 -2.31 0M164.62 551.37a1.16 1.16 0 1 0 2.31 0a1.16 1.16 0 1 0 -2.31 0M166.66 551.41a1.16 1.16 0 1 0 2.31 0a1.16 1.16 0 1 0 -2.31 0M168.69 551.45a1.16 1.16 0 1 0 2.31 0a1.16 1.16 0 1 0 -2.31 0M170.72 551.48a1.16 1.16 0 1 0 2.31 0a1.16 1.16 0 1 0 -2.31 0M172.76 551.52a1.16 1.16 0 1 0 2.31 0a1.16 1.16 0 1 0 -2.31 0M174.79 551.55a1.16 1.16 0 1 0 2.31 0a1.16 1.16 0 1 0 -2.31 0M176.82 551.59a1.16 1.16 0 1 0 2.31 0a1.16 1.16 0 1 0 -2.31 0" fill="#1f3dff"/>
<path d="M35.3 529.6 L35.57 529.2 L35.91 528.71 L36.31 528.12 L36.77 527.47 L37.26 526.75 L37.77 526 L38.31 525.22 L38.85 524.42 L39.39 523.63 L39.91 522.85 L40.4 522.1 L40.84 521.45 L41.28 520.82 L41.73 520.2 L42.18 519.58 L42.63 518.96 L43.09 518.32 L43.54 517.65 L44 516.95 L44.45 516.21 L44.9 515.4 L45.35 514.54 L45.8 513.6 L46.08 512.96 L46.36 512.28 L46.64 511.57 L46.92 510.83 L47.2 510.06 L47.48 509.27 L47.76 508.46 L48.03 507.64 L48.31 506.8 L48.59 505.95 L48.87 505.1 L49.14 504.25 L49.42 503.4 L49.7 502.56 L49.98 501.73 L50.26 500.92 L50.54 500.12 L50.82 499.35 L51.1 498.6 L51.42 497.79 L51.73 497 L52.05 496.22 L52.36 495.46 L52.68 494.72 L53 493.98 L53.32 493.24 L53.63 492.51 L53.95 491.79 L54.27 491.06 L54.59 490.32 L54.91 489.58 L55.23 488.84 L55.55 488.08 L55.86 487.3 L56.18 486.51 L56.5 485.7 L56.79 484.95 L57.07 484.18 L57.37 483.39 L57.66 482.59 L57.95 481.76 L58.25 480.93 L58.54 480.1 L58.84 479.26 L59.13 478.41 L59.42 477.57 L59.71 476.74 L60 475.92 L60.28 475.11 L60.56 474.32 L60.84 473.54 L61.11 472.79 L61.38 472.06 L61.64 471.36 L61.9 470.7 L62.26 469.78 L62.61 468.93 L62.95 468.12 L63.28 467.35 L63.6 466.62 L63.91 465.91 L64.22 465.23 L64.53 464.55 L64.84 463.88 L65.15 463.21 L65.46 462.53 L65.78 461.83 L66.1 461.1 L66.42 460.35 L66.73 459.58 L67.04 458.8 L67.34 458.01 L67.65 457.23 L67.95 456.44 L68.26 455.66 L68.58 454.89 L68.91 454.14 L69.26 453.42 L69.62 452.71 L70 452.04 L70.4 451.4 L70.91 450.69 L71.47 450.02 L72.05 449.38 L72.66 448.77 L73.28 448.19 L73.92 447.63 L74.55 447.09 L75.17 446.56 L75.77 446.03 L76.35 445.52 L76.9 445 L77.62 444.29 L78.31 443.6 L78.99 442.93 L79.64 442.28 L80.27 441.66 L80.88 441.07 L81.45 440.51 L82 440 L82.79 439.2 L83.49 438.43 L84.14 437.77 L84.76 437.3 L85.4 437.1 L86.04 437.11 L86.64 437.28 L87.25 437.7 L87.89 438.44 L88.6 439.6 L88.86 440.11 L89.13 440.7 L89.42 441.36 L89.71 442.09 L90.01 442.86 L90.32 443.68 L90.63 444.52 L90.94 445.38 L91.25 446.25 L91.55 447.11 L91.85 447.96 L92.13 448.79 L92.4 449.58 L92.66 450.32 L92.9 451 L93.22 451.94 L93.5 452.83 L93.75 453.67 L93.97 454.47 L94.19 455.25 L94.4 456.01 L94.63 456.77 L94.89 457.53 L95.17 458.3 L95.5 459.1 L95.83 459.86 L96.19 460.65 L96.56 461.45 L96.95 462.27 L97.36 463.08 L97.78 463.88 L98.21 464.65 L98.65 465.39 L99.1 466.09 L99.55 466.73 L100 467.3 L100.64 467.95 L101.31 468.46 L101.99 468.86 L102.69 469.21 L103.4 469.55 L104.11 469.91 L104.81 470.35 L105.5 470.9 L106.04 471.42 L106.58 471.99 L107.12 472.59 L107.66 473.22 L108.2 473.88 L108.74 474.55 L109.28 475.23 L109.82 475.92 L110.36 476.61 L110.9 477.3 L111.39 477.93 L111.88 478.57 L112.37 479.22 L112.86 479.89 L113.35 480.56 L113.84 481.23 L114.34 481.9 L114.84 482.57 L115.35 483.22 L115.87 483.87 L116.4 484.5 L116.94 485.1 L117.47 485.67 L118.01 486.22 L118.55 486.75 L119.1 487.28 L119.66 487.81 L120.24 488.37 L120.82 488.96 L121.43 489.58 L122.05 490.26 L122.7 491 L123.16 491.54 L123.63 492.11 L124.12 492.71 L124.62 493.32 L125.12 493.96 L125.64 494.6 L126.16 495.27 L126.68 495.94 L127.21 496.63 L127.74 497.32 L128.27 498.02 L128.81 498.72 L129.34 499.42 L129.86 500.12 L130.38 500.81 L130.9 501.5 L131.38 502.14 L131.86 502.79 L132.35 503.44 L132.83 504.08 L133.31 504.74 L133.79 505.39 L134.28 506.05 L134.76 506.71 L135.24 507.37 L135.72 508.04 L136.21 508.71 L136.69 509.4 L137.17 510.08 L137.65 510.77 L138.14 511.48 L138.62 512.18 L139.1 512.9 L139.53 513.55 L139.96 514.22 L140.39 514.89 L140.83 515.57 L141.26 516.27 L141.69 516.97 L142.12 517.67 L142.55 518.38 L142.98 519.09 L143.42 519.8 L143.85 520.51 L144.28 521.22 L144.71 521.92 L145.14 522.62 L145.57 523.32 L146.01 524 L146.44 524.68 L146.87 525.35 L147.3 526 L147.78 526.72 L148.27 527.45 L148.75 528.17 L149.23 528.89 L149.71 529.6 L150.2 530.31 L150.68 531.02 L151.16 531.72 L151.65 532.41 L152.13 533.09 L152.61 533.76 L153.1 534.42 L153.58 535.06 L154.06 535.69 L154.54 536.31 L155.02 536.91 L155.5 537.5 L156.08 538.19 L156.66 538.87 L157.24 539.53 L157.82 540.18 L158.4 540.81 L158.97 541.42 L159.55 542.01 L160.13 542.59 L160.7 543.14 L161.28 543.68 L161.86 544.19 L162.44 544.68 L163.02 545.15 L163.6 545.6 L164.35 546.13 L165.11 546.63 L165.88 547.09 L166.65 547.51 L167.42 547.9 L168.19 548.26 L168.95 548.59 L169.69 548.9 L170.42 549.19 L171.12 549.45 L171.8 549.7 L172.73 550 L173.68 550.23 L174.61 550.42 L175.51 550.56 L176.35 550.67 L177.09 550.75 L177.72 550.83 L178.2 550.9" fill="none" stroke="#ff1a1a" stroke-width="1.5" stroke-linejoin="round" stroke-linecap="round" />
<path d="M35.3 527.92L36.84 530.72L33.76 530.72zM37.63 524.52L39.17 527.32L36.09 527.32zM39.67 521.52L41.21 524.32L38.13 524.32zM41.7 518.56L43.24 521.36L40.16 521.36zM43.74 515.67L45.28 518.47L42.2 518.47zM45.77 511.98L47.31 514.78L44.23 514.78zM47.8 506.64L49.34 509.44L46.26 509.44zM49.84 500.47L51.38 503.27L48.3 503.27zM51.87 494.97L53.41 497.77L50.33 497.77zM53.91 490.21L55.45 493.01L52.37 493.01zM55.94 485.43L57.48 488.23L54.4 488.23zM57.97 480.02L59.51 482.82L56.43 482.82zM60.01 474.21L61.55 477.01L58.47 477.01zM62.04 468.66L63.58 471.46L60.5 471.46zM64.08 463.87L65.62 466.67L62.54 466.67zM66.11 459.4L67.65 462.2L64.57 462.2zM68.14 454.28L69.68 457.08L66.6 457.08zM70.18 450.07L71.72 452.87L68.64 452.87zM72.21 447.54L73.75 450.34L70.67 450.34zM74.25 445.66L75.79 448.46L72.71 448.46zM76.28 443.9L77.82 446.7L74.74 446.7zM78.31 441.92L79.85 444.72L76.77 444.72zM80.35 439.91L81.89 442.71L78.81 442.71zM82.38 437.93L83.92 440.73L80.84 440.73zM84.42 435.88L85.96 438.68L82.88 438.68zM86.45 435.55L87.99 438.35L84.91 438.35zM88.48 437.73L90.02 440.53L86.94 440.53zM90.52 442.53L92.06 445.33L88.98 445.33zM92.55 448.33L94.09 451.13L91.01 451.13zM94.59 454.93L96.13 457.73L93.05 457.73zM96.62 459.89L98.16 462.69L95.08 462.69zM98.65 463.72L100.19 466.52L97.11 466.52zM100.69 466.31L102.23 469.11L99.15 469.11zM102.72 467.55L104.26 470.35L101.18 470.35zM104.76 468.63L106.3 471.43L103.22 471.43zM106.79 470.54L108.33 473.34L105.25 473.34zM108.82 472.98L110.36 475.78L107.28 475.78zM110.86 475.57L112.4 478.37L109.32 478.37zM112.89 478.25L114.43 481.05L111.35 481.05zM114.93 481L116.47 483.8L113.39 483.8zM116.96 483.45L118.5 486.25L115.42 486.25zM118.99 485.49L120.53 488.29L117.45 488.29zM121.03 487.49L122.57 490.29L119.49 490.29zM123.06 489.75L124.6 492.55L121.52 492.55zM125.1 492.24L126.64 495.04L123.56 495.04zM127.13 494.84L128.67 497.64L125.59 497.64zM129.16 497.51L130.7 500.31L127.62 500.31zM131.2 500.22L132.74 503.02L129.66 503.02zM133.23 502.95L134.77 505.75L131.69 505.75zM135.27 505.72L136.81 508.52L133.73 508.52zM137.3 508.59L138.84 511.39L135.76 511.39zM139.33 511.57L140.87 514.37L137.79 514.37zM141.37 514.77L142.91 517.57L139.83 517.57zM143.4 518.1L144.94 520.9L141.86 520.9zM145.44 521.42L146.98 524.22L143.9 524.22zM147.47 524.57L149.01 527.37L145.93 527.37zM149.5 527.61L151.04 530.41L147.96 530.41zM151.54 530.57L153.08 533.37L150 533.37zM153.57 533.37L155.11 536.17L152.03 536.17zM155.61 535.95L157.15 538.75L154.07 538.75zM157.64 538.3L159.18 541.1L156.1 541.1zM159.67 540.46L161.21 543.26L158.13 543.26zM161.71 542.38L163.25 545.18L160.17 545.18zM163.74 544.02L165.28 546.82L162.2 546.82zM165.78 545.34L167.32 548.14L164.24 548.14zM167.81 546.4L169.35 549.2L166.27 549.2zM169.84 547.28L171.38 550.08L168.3 550.08zM171.88 548.04L173.42 550.84L170.34 550.84zM173.91 548.6L175.45 551.4L172.37 551.4zM175.95 548.93L177.49 551.73L174.41 551.73zM177.98 549.19L179.52 551.99L176.44 551.99z" fill="#ff1a1a"/>
<text x="35.6" y="564.9" font-size="9.3" text-anchor="middle" fill="#1a1a1a" >400</text>
<text x="76.28" y="564.9" font-size="9.3" text-anchor="middle" fill="#1a1a1a" >600</text>
<text x="116.96" y="564.9" font-size="9.3" text-anchor="middle" fill="#1a1a1a" >800</text>
<text x="157.64" y="564.9" font-size="9.3" text-anchor="middle" fill="#1a1a1a" >1000</text>
<path d="M111.1 436H130.8" stroke="#111111" stroke-width="1.3"/>
<path d="M119.45 436a1.5 1.5 0 1 0 3 0a1.5 1.5 0 1 0 -3 0" fill="#111111"/>
<text x="133.6" y="439.17" font-size="8.8" text-anchor="start" fill="#1a1a1a" >PbS-TBAI</text>
<path d="M111.1 446.8H130.8" stroke="#1f3dff" stroke-width="1.3"/>
<path d="M119.45 446.8a1.5 1.5 0 1 0 3 0a1.5 1.5 0 1 0 -3 0" fill="#1f3dff"/>
<text x="133.6" y="449.97" font-size="8.8" text-anchor="start" fill="#1a1a1a" >Organic</text>
<path d="M111.1 457.6H130.8" stroke="#ff1a1a" stroke-width="1.3"/>
<path d="M120.95 455.56L122.82 458.96L119.08 458.96z" fill="#ff1a1a"/>
<text x="133.6" y="460.77" font-size="8.8" text-anchor="start" fill="#1a1a1a" >PbS-Blend</text>
<text x="106.7" y="575.6" font-size="10.8" text-anchor="middle" fill="#1a1a1a" >Wavelength (nm)</text>
<text transform="translate(18.6 493.4) rotate(-90)" font-size="10.7" text-anchor="middle" fill="#1a1a1a">Photocurrent (nA)</text>
<path d="M220.4 548.1h3.6M220.4 518.1h3.6M220.4 488.1h3.6M220.4 458.1h3.6M220.4 428.1h3.6M220.4 533.1h2.2M220.4 503.1h2.2M220.4 473.1h2.2M220.4 443.1h2.2" stroke="#222" stroke-width="1" fill="none"/>
<text x="214.6" y="551" font-size="9.1" text-anchor="end" fill="#1a1a1a" >0.0</text>
<text x="214.6" y="521" font-size="9.1" text-anchor="end" fill="#1a1a1a" >0.5</text>
<text x="214.6" y="491" font-size="9.1" text-anchor="end" fill="#1a1a1a" >1.0</text>
<text x="214.6" y="461" font-size="9.1" text-anchor="end" fill="#1a1a1a" >1.5</text>
<text x="214.6" y="431" font-size="9.1" text-anchor="end" fill="#1a1a1a" >2.0</text>
<rect x="220.4" y="428.2" width="142.1" height="124.9" fill="none" stroke="#222" stroke-width="1.3"/>
<path d="M220.3 553.1v-3.6M260.9 553.1v-3.6M301.5 553.1v-3.6M342.1 553.1v-3.6M240.6 553.1v-3M281.2 553.1v-3M321.8 553.1v-3" stroke="#222" stroke-width="1" fill="none"/>
<path d="M220.1 546.9 L220.54 546.77 L221.08 546.61 L221.7 546.43 L222.4 546.22 L223.16 545.99 L223.98 545.75 L224.83 545.5 L225.71 545.24 L226.61 544.97 L227.51 544.71 L228.4 544.44 L229.27 544.19 L230.11 543.94 L230.9 543.7 L231.73 543.45 L232.55 543.19 L233.38 542.93 L234.2 542.67 L235.02 542.41 L235.85 542.15 L236.67 541.89 L237.49 541.64 L238.31 541.39 L239.13 541.15 L239.95 540.92 L240.78 540.7 L241.6 540.5 L242.42 540.31 L243.25 540.12 L244.07 539.94 L244.89 539.76 L245.72 539.6 L246.54 539.44 L247.36 539.29 L248.18 539.15 L249.01 539.02 L249.83 538.9 L250.65 538.79 L251.48 538.69 L252.3 538.6 L253.12 538.53 L253.95 538.47 L254.77 538.42 L255.59 538.38 L256.42 538.35 L257.24 538.34 L258.06 538.33 L258.88 538.33 L259.71 538.33 L260.53 538.34 L261.35 538.36 L262.18 538.38 L263 538.4 L263.82 538.43 L264.64 538.46 L265.46 538.51 L266.27 538.56 L267.09 538.61 L267.9 538.67 L268.72 538.74 L269.54 538.81 L270.36 538.88 L271.19 538.96 L272.02 539.04 L272.86 539.12 L273.7 539.2 L274.49 539.28 L275.29 539.36 L276.11 539.45 L276.92 539.54 L277.74 539.63 L278.57 539.73 L279.39 539.82 L280.22 539.92 L281.04 540.02 L281.85 540.12 L282.65 540.22 L283.45 540.32 L284.23 540.41 L285 540.5 L285.88 540.61 L286.74 540.72 L287.59 540.83 L288.43 540.94 L289.26 541.05 L290.08 541.16 L290.9 541.27 L291.71 541.37 L292.53 541.47 L293.35 541.55 L294.17 541.63 L295 541.7 L295.83 541.76 L296.67 541.81 L297.5 541.86 L298.33 541.9 L299.17 541.93 L300 541.96 L300.83 541.98 L301.67 541.99 L302.5 542 L303.33 542.01 L304.17 542.01 L305 542 L305.85 541.98 L306.72 541.95 L307.62 541.91 L308.52 541.87 L309.42 541.81 L310.31 541.76 L311.19 541.7 L312.04 541.64 L312.85 541.59 L313.62 541.55 L314.34 541.52 L315 541.5 L316.1 541.47 L316.96 541.46 L317.69 541.46 L318.37 541.49 L319.11 541.57 L320 541.7 L320.69 541.83 L321.42 541.99 L322.18 542.19 L322.96 542.4 L323.77 542.62 L324.58 542.85 L325.39 543.08 L326.2 543.3 L327 543.5 L327.75 543.69 L328.44 543.89 L329.1 544.08 L329.76 544.27 L330.45 544.46 L331.21 544.65 L332.07 544.84 L333.06 545.02 L334.2 545.2 L334.84 545.29 L335.54 545.38 L336.27 545.47 L337.05 545.57 L337.86 545.66 L338.7 545.76 L339.57 545.85 L340.45 545.94 L341.35 546.03 L342.26 546.12 L343.17 546.21 L344.07 546.29 L344.98 546.37 L345.86 546.44 L346.74 546.52 L347.59 546.58 L348.41 546.64 L349.2 546.7 L350.08 546.76 L350.99 546.81 L351.92 546.85 L352.85 546.89 L353.79 546.92 L354.72 546.95 L355.64 546.97 L356.54 546.99 L357.4 547.01 L358.23 547.03 L359.02 547.04 L359.75 547.05 L360.42 547.07 L361.03 547.08 L361.56 547.09 L362 547.1" fill="none" stroke="#111111" stroke-width="1.56" stroke-linejoin="round" stroke-linecap="round" />
<path d="M218.73 546.9a1.37 1.37 0 1 0 2.73 0a1.37 1.37 0 1 0 -2.73 0M220.97 546.24a1.37 1.37 0 1 0 2.73 0a1.37 1.37 0 1 0 -2.73 0M223 545.64a1.37 1.37 0 1 0 2.73 0a1.37 1.37 0 1 0 -2.73 0M225.03 545.04a1.37 1.37 0 1 0 2.73 0a1.37 1.37 0 1 0 -2.73 0M227.06 544.44a1.37 1.37 0 1 0 2.73 0a1.37 1.37 0 1 0 -2.73 0M229.09 543.83a1.37 1.37 0 1 0 2.73 0a1.37 1.37 0 1 0 -2.73 0M231.12 543.22a1.37 1.37 0 1 0 2.73 0a1.37 1.37 0 1 0 -2.73 0M233.15 542.57a1.37 1.37 0 1 0 2.73 0a1.37 1.37 0 1 0 -2.73 0M235.18 541.93a1.37 1.37 0 1 0 2.73 0a1.37 1.37 0 1 0 -2.73 0M237.21 541.31a1.37 1.37 0 1 0 2.73 0a1.37 1.37 0 1 0 -2.73 0M239.24 540.75a1.37 1.37 0 1 0 2.73 0a1.37 1.37 0 1 0 -2.73 0M241.27 540.26a1.37 1.37 0 1 0 2.73 0a1.37 1.37 0 1 0 -2.73 0M243.3 539.81a1.37 1.37 0 1 0 2.73 0a1.37 1.37 0 1 0 -2.73 0M245.32 539.41a1.37 1.37 0 1 0 2.73 0a1.37 1.37 0 1 0 -2.73 0M247.36 539.06a1.37 1.37 0 1 0 2.73 0a1.37 1.37 0 1 0 -2.73 0M249.38 538.77a1.37 1.37 0 1 0 2.73 0a1.37 1.37 0 1 0 -2.73 0M251.42 538.56a1.37 1.37 0 1 0 2.73 0a1.37 1.37 0 1 0 -2.73 0M253.44 538.42a1.37 1.37 0 1 0 2.73 0a1.37 1.37 0 1 0 -2.73 0M255.48 538.34a1.37 1.37 0 1 0 2.73 0a1.37 1.37 0 1 0 -2.73 0M257.5 538.33a1.37 1.37 0 1 0 2.73 0a1.37 1.37 0 1 0 -2.73 0M259.54 538.35a1.37 1.37 0 1 0 2.73 0a1.37 1.37 0 1 0 -2.73 0M261.56 538.4a1.37 1.37 0 1 0 2.73 0a1.37 1.37 0 1 0 -2.73 0M263.6 538.48a1.37 1.37 0 1 0 2.73 0a1.37 1.37 0 1 0 -2.73 0M265.62 538.61a1.37 1.37 0 1 0 2.73 0a1.37 1.37 0 1 0 -2.73 0M267.66 538.77a1.37 1.37 0 1 0 2.73 0a1.37 1.37 0 1 0 -2.73 0M269.69 538.95a1.37 1.37 0 1 0 2.73 0a1.37 1.37 0 1 0 -2.73 0M271.72 539.14a1.37 1.37 0 1 0 2.73 0a1.37 1.37 0 1 0 -2.73 0M273.75 539.34a1.37 1.37 0 1 0 2.73 0a1.37 1.37 0 1 0 -2.73 0M275.77 539.56a1.37 1.37 0 1 0 2.73 0a1.37 1.37 0 1 0 -2.73 0M277.81 539.8a1.37 1.37 0 1 0 2.73 0a1.37 1.37 0 1 0 -2.73 0M279.84 540.04a1.37 1.37 0 1 0 2.73 0a1.37 1.37 0 1 0 -2.73 0M281.87 540.29a1.37 1.37 0 1 0 2.73 0a1.37 1.37 0 1 0 -2.73 0M283.89 540.53a1.37 1.37 0 1 0 2.73 0a1.37 1.37 0 1 0 -2.73 0M285.93 540.79a1.37 1.37 0 1 0 2.73 0a1.37 1.37 0 1 0 -2.73 0M287.96 541.06a1.37 1.37 0 1 0 2.73 0a1.37 1.37 0 1 0 -2.73 0M289.99 541.32a1.37 1.37 0 1 0 2.73 0a1.37 1.37 0 1 0 -2.73 0M292.01 541.56a1.37 1.37 0 1 0 2.73 0a1.37 1.37 0 1 0 -2.73 0M294.05 541.73a1.37 1.37 0 1 0 2.73 0a1.37 1.37 0 1 0 -2.73 0M296.07 541.85a1.37 1.37 0 1 0 2.73 0a1.37 1.37 0 1 0 -2.73 0M298.11 541.94a1.37 1.37 0 1 0 2.73 0a1.37 1.37 0 1 0 -2.73 0M300.13 541.99a1.37 1.37 0 1 0 2.73 0a1.37 1.37 0 1 0 -2.73 0M302.17 542.01a1.37 1.37 0 1 0 2.73 0a1.37 1.37 0 1 0 -2.73 0M304.19 541.99a1.37 1.37 0 1 0 2.73 0a1.37 1.37 0 1 0 -2.73 0M306.23 541.92a1.37 1.37 0 1 0 2.73 0a1.37 1.37 0 1 0 -2.73 0M308.25 541.8a1.37 1.37 0 1 0 2.73 0a1.37 1.37 0 1 0 -2.73 0M310.29 541.67a1.37 1.37 0 1 0 2.73 0a1.37 1.37 0 1 0 -2.73 0M312.31 541.55a1.37 1.37 0 1 0 2.73 0a1.37 1.37 0 1 0 -2.73 0M314.35 541.48a1.37 1.37 0 1 0 2.73 0a1.37 1.37 0 1 0 -2.73 0M316.38 541.46a1.37 1.37 0 1 0 2.73 0a1.37 1.37 0 1 0 -2.73 0M318.41 541.67a1.37 1.37 0 1 0 2.73 0a1.37 1.37 0 1 0 -2.73 0M320.44 542.09a1.37 1.37 0 1 0 2.73 0a1.37 1.37 0 1 0 -2.73 0M322.47 542.64a1.37 1.37 0 1 0 2.73 0a1.37 1.37 0 1 0 -2.73 0M324.5 543.2a1.37 1.37 0 1 0 2.73 0a1.37 1.37 0 1 0 -2.73 0M326.52 543.73a1.37 1.37 0 1 0 2.73 0a1.37 1.37 0 1 0 -2.73 0M328.56 544.32a1.37 1.37 0 1 0 2.73 0a1.37 1.37 0 1 0 -2.73 0M330.59 544.81a1.37 1.37 0 1 0 2.73 0a1.37 1.37 0 1 0 -2.73 0M332.62 545.17a1.37 1.37 0 1 0 2.73 0a1.37 1.37 0 1 0 -2.73 0M334.64 545.44a1.37 1.37 0 1 0 2.73 0a1.37 1.37 0 1 0 -2.73 0M336.68 545.68a1.37 1.37 0 1 0 2.73 0a1.37 1.37 0 1 0 -2.73 0M338.71 545.9a1.37 1.37 0 1 0 2.73 0a1.37 1.37 0 1 0 -2.73 0M340.74 546.1a1.37 1.37 0 1 0 2.73 0a1.37 1.37 0 1 0 -2.73 0M342.76 546.29a1.37 1.37 0 1 0 2.73 0a1.37 1.37 0 1 0 -2.73 0M344.8 546.47a1.37 1.37 0 1 0 2.73 0a1.37 1.37 0 1 0 -2.73 0M346.83 546.63a1.37 1.37 0 1 0 2.73 0a1.37 1.37 0 1 0 -2.73 0M348.86 546.76a1.37 1.37 0 1 0 2.73 0a1.37 1.37 0 1 0 -2.73 0M350.88 546.86a1.37 1.37 0 1 0 2.73 0a1.37 1.37 0 1 0 -2.73 0M352.92 546.93a1.37 1.37 0 1 0 2.73 0a1.37 1.37 0 1 0 -2.73 0M354.95 546.99a1.37 1.37 0 1 0 2.73 0a1.37 1.37 0 1 0 -2.73 0M356.98 547.03a1.37 1.37 0 1 0 2.73 0a1.37 1.37 0 1 0 -2.73 0M359 547.06a1.37 1.37 0 1 0 2.73 0a1.37 1.37 0 1 0 -2.73 0" fill="#111111"/>
<path d="M220.1 546.9 L220.36 546.51 L220.69 546.04 L221.06 545.5 L221.49 544.89 L221.95 544.22 L222.44 543.52 L222.95 542.77 L223.48 542 L224.02 541.2 L224.56 540.4 L225.1 539.6 L225.62 538.81 L226.12 538.04 L226.6 537.3 L227.03 536.62 L227.46 535.92 L227.89 535.21 L228.31 534.5 L228.74 533.78 L229.17 533.05 L229.59 532.32 L230.02 531.59 L230.44 530.86 L230.87 530.13 L231.3 529.41 L231.72 528.69 L232.15 527.99 L232.57 527.29 L233 526.6 L233.46 525.86 L233.91 525.11 L234.37 524.36 L234.83 523.6 L235.28 522.84 L235.74 522.09 L236.19 521.35 L236.65 520.63 L237.11 519.92 L237.56 519.25 L238.02 518.6 L238.48 517.99 L238.94 517.42 L239.4 516.9 L240.11 516.19 L240.82 515.6 L241.52 515.1 L242.23 514.67 L242.94 514.28 L243.66 513.91 L244.39 513.52 L245.13 513.09 L245.9 512.6 L246.54 512.14 L247.2 511.66 L247.87 511.14 L248.55 510.62 L249.24 510.08 L249.93 509.56 L250.63 509.04 L251.33 508.55 L252.02 508.09 L252.71 507.67 L253.4 507.3 L254.22 506.92 L255.03 506.61 L255.82 506.35 L256.62 506.13 L257.42 505.93 L258.24 505.74 L259.09 505.55 L259.97 505.34 L260.9 505.1 L261.64 504.88 L262.44 504.62 L263.28 504.33 L264.14 504.02 L265.02 503.72 L265.9 503.42 L266.77 503.15 L267.61 502.91 L268.42 502.73 L269.18 502.6 L269.88 502.56 L270.5 502.6 L271.38 502.86 L272.09 503.3 L272.66 503.91 L273.17 504.63 L273.65 505.46 L274.18 506.36 L274.8 507.3 L275.2 507.89 L275.61 508.56 L276.03 509.28 L276.45 510.04 L276.88 510.83 L277.31 511.63 L277.76 512.43 L278.21 513.21 L278.67 513.97 L279.14 514.68 L279.61 515.32 L280.1 515.9 L280.79 516.6 L281.54 517.27 L282.32 517.9 L283.12 518.48 L283.91 518.99 L284.67 519.42 L285.39 519.76 L286.04 519.99 L286.6 520.1 L287.34 519.92 L287.83 519.32 L288.22 518.47 L288.65 517.57 L289.3 516.8 L289.93 516.31 L290.65 515.79 L291.44 515.25 L292.26 514.74 L293.08 514.28 L293.87 513.89 L294.6 513.6 L295.51 513.31 L296.34 513.12 L297.15 513.06 L297.99 513.21 L298.9 513.6 L299.45 513.94 L300.03 514.38 L300.62 514.89 L301.23 515.47 L301.85 516.1 L302.47 516.77 L303.09 517.47 L303.7 518.19 L304.3 518.9 L304.79 519.5 L305.27 520.11 L305.75 520.76 L306.23 521.42 L306.72 522.1 L307.2 522.79 L307.68 523.5 L308.16 524.22 L308.64 524.94 L309.12 525.67 L309.6 526.4 L310.04 527.09 L310.48 527.8 L310.92 528.52 L311.36 529.27 L311.8 530.02 L312.24 530.77 L312.68 531.52 L313.13 532.26 L313.57 532.98 L314.01 533.68 L314.45 534.36 L314.9 535 L315.43 535.74 L315.94 536.46 L316.45 537.16 L316.95 537.84 L317.46 538.5 L317.98 539.13 L318.52 539.74 L319.08 540.32 L319.67 540.88 L320.3 541.4 L320.95 541.9 L321.61 542.36 L322.29 542.8 L323 543.22 L323.72 543.61 L324.47 543.97 L325.25 544.31 L326.06 544.63 L326.91 544.92 L327.8 545.2 L328.48 545.39 L329.14 545.56 L329.79 545.71 L330.44 545.84 L331.1 545.96 L331.79 546.07 L332.52 546.17 L333.31 546.26 L334.16 546.34 L335.09 546.43 L336.12 546.51 L337.25 546.6 L338.5 546.7 L339.12 546.74 L339.79 546.79 L340.51 546.84 L341.28 546.88 L342.09 546.93 L342.93 546.97 L343.8 547.02 L344.7 547.06 L345.63 547.11 L346.57 547.15 L347.53 547.2 L348.49 547.24 L349.46 547.28 L350.43 547.32 L351.4 547.36 L352.36 547.4 L353.3 547.44 L354.23 547.48 L355.14 547.52 L356.02 547.55 L356.86 547.59 L357.68 547.62 L358.45 547.65 L359.18 547.68 L359.86 547.71 L360.48 547.73 L361.05 547.76 L361.56 547.78 L362 547.8" fill="none" stroke="#1f3dff" stroke-width="1.32" stroke-linejoin="round" stroke-linecap="round" />
<path d="M218.94 546.9a1.16 1.16 0 1 0 2.31 0a1.16 1.16 0 1 0 -2.31 0M221.18 543.67a1.16 1.16 0 1 0 2.31 0a1.16 1.16 0 1 0 -2.31 0M223.21 540.7a1.16 1.16 0 1 0 2.31 0a1.16 1.16 0 1 0 -2.31 0M225.24 537.63a1.16 1.16 0 1 0 2.31 0a1.16 1.16 0 1 0 -2.31 0M227.27 534.32a1.16 1.16 0 1 0 2.31 0a1.16 1.16 0 1 0 -2.31 0M229.3 530.85a1.16 1.16 0 1 0 2.31 0a1.16 1.16 0 1 0 -2.31 0M231.33 527.44a1.16 1.16 0 1 0 2.31 0a1.16 1.16 0 1 0 -2.31 0M233.36 524.12a1.16 1.16 0 1 0 2.31 0a1.16 1.16 0 1 0 -2.31 0M235.39 520.8a1.16 1.16 0 1 0 2.31 0a1.16 1.16 0 1 0 -2.31 0M237.42 517.88a1.16 1.16 0 1 0 2.31 0a1.16 1.16 0 1 0 -2.31 0M239.45 515.78a1.16 1.16 0 1 0 2.31 0a1.16 1.16 0 1 0 -2.31 0M241.48 514.45a1.16 1.16 0 1 0 2.31 0a1.16 1.16 0 1 0 -2.31 0M243.51 513.36a1.16 1.16 0 1 0 2.31 0a1.16 1.16 0 1 0 -2.31 0M245.53 512.04a1.16 1.16 0 1 0 2.31 0a1.16 1.16 0 1 0 -2.31 0M247.57 510.49a1.16 1.16 0 1 0 2.31 0a1.16 1.16 0 1 0 -2.31 0M249.59 508.96a1.16 1.16 0 1 0 2.31 0a1.16 1.16 0 1 0 -2.31 0M251.63 507.63a1.16 1.16 0 1 0 2.31 0a1.16 1.16 0 1 0 -2.31 0M253.66 506.69a1.16 1.16 0 1 0 2.31 0a1.16 1.16 0 1 0 -2.31 0M255.69 506.07a1.16 1.16 0 1 0 2.31 0a1.16 1.16 0 1 0 -2.31 0M257.72 505.6a1.16 1.16 0 1 0 2.31 0a1.16 1.16 0 1 0 -2.31 0M259.75 505.1a1.16 1.16 0 1 0 2.31 0a1.16 1.16 0 1 0 -2.31 0M261.78 504.45a1.16 1.16 0 1 0 2.31 0a1.16 1.16 0 1 0 -2.31 0M263.81 503.74a1.16 1.16 0 1 0 2.31 0a1.16 1.16 0 1 0 -2.31 0M265.84 503.09a1.16 1.16 0 1 0 2.31 0a1.16 1.16 0 1 0 -2.31 0M267.87 502.63a1.16 1.16 0 1 0 2.31 0a1.16 1.16 0 1 0 -2.31 0M269.9 502.76a1.16 1.16 0 1 0 2.31 0a1.16 1.16 0 1 0 -2.31 0M271.93 504.51a1.16 1.16 0 1 0 2.31 0a1.16 1.16 0 1 0 -2.31 0M273.96 507.76a1.16 1.16 0 1 0 2.31 0a1.16 1.16 0 1 0 -2.31 0M275.99 511.31a1.16 1.16 0 1 0 2.31 0a1.16 1.16 0 1 0 -2.31 0M278.02 514.72a1.16 1.16 0 1 0 2.31 0a1.16 1.16 0 1 0 -2.31 0M280.05 516.97a1.16 1.16 0 1 0 2.31 0a1.16 1.16 0 1 0 -2.31 0M282.08 518.55a1.16 1.16 0 1 0 2.31 0a1.16 1.16 0 1 0 -2.31 0M284.11 519.7a1.16 1.16 0 1 0 2.31 0a1.16 1.16 0 1 0 -2.31 0M286.14 519.93a1.16 1.16 0 1 0 2.31 0a1.16 1.16 0 1 0 -2.31 0M288.17 516.78a1.16 1.16 0 1 0 2.31 0a1.16 1.16 0 1 0 -2.31 0M290.2 515.32a1.16 1.16 0 1 0 2.31 0a1.16 1.16 0 1 0 -2.31 0M292.23 514.13a1.16 1.16 0 1 0 2.31 0a1.16 1.16 0 1 0 -2.31 0M294.26 513.34a1.16 1.16 0 1 0 2.31 0a1.16 1.16 0 1 0 -2.31 0M296.29 513.12a1.16 1.16 0 1 0 2.31 0a1.16 1.16 0 1 0 -2.31 0M298.32 513.96a1.16 1.16 0 1 0 2.31 0a1.16 1.16 0 1 0 -2.31 0M300.35 515.75a1.16 1.16 0 1 0 2.31 0a1.16 1.16 0 1 0 -2.31 0M302.38 517.99a1.16 1.16 0 1 0 2.31 0a1.16 1.16 0 1 0 -2.31 0M304.41 520.5a1.16 1.16 0 1 0 2.31 0a1.16 1.16 0 1 0 -2.31 0M306.44 523.37a1.16 1.16 0 1 0 2.31 0a1.16 1.16 0 1 0 -2.31 0M308.47 526.43a1.16 1.16 0 1 0 2.31 0a1.16 1.16 0 1 0 -2.31 0M310.5 529.76a1.16 1.16 0 1 0 2.31 0a1.16 1.16 0 1 0 -2.31 0M312.53 533.16a1.16 1.16 0 1 0 2.31 0a1.16 1.16 0 1 0 -2.31 0M314.56 536.14a1.16 1.16 0 1 0 2.31 0a1.16 1.16 0 1 0 -2.31 0M316.59 538.84a1.16 1.16 0 1 0 2.31 0a1.16 1.16 0 1 0 -2.31 0M318.62 540.96a1.16 1.16 0 1 0 2.31 0a1.16 1.16 0 1 0 -2.31 0M320.65 542.48a1.16 1.16 0 1 0 2.31 0a1.16 1.16 0 1 0 -2.31 0M322.68 543.66a1.16 1.16 0 1 0 2.31 0a1.16 1.16 0 1 0 -2.31 0M324.71 544.55a1.16 1.16 0 1 0 2.31 0a1.16 1.16 0 1 0 -2.31 0M326.74 545.23a1.16 1.16 0 1 0 2.31 0a1.16 1.16 0 1 0 -2.31 0M328.77 545.74a1.16 1.16 0 1 0 2.31 0a1.16 1.16 0 1 0 -2.31 0M330.8 546.09a1.16 1.16 0 1 0 2.31 0a1.16 1.16 0 1 0 -2.31 0M332.83 546.33a1.16 1.16 0 1 0 2.31 0a1.16 1.16 0 1 0 -2.31 0M334.86 546.51a1.16 1.16 0 1 0 2.31 0a1.16 1.16 0 1 0 -2.31 0M336.89 546.66a1.16 1.16 0 1 0 2.31 0a1.16 1.16 0 1 0 -2.31 0M338.92 546.81a1.16 1.16 0 1 0 2.31 0a1.16 1.16 0 1 0 -2.31 0M340.95 546.93a1.16 1.16 0 1 0 2.31 0a1.16 1.16 0 1 0 -2.31 0M342.98 547.03a1.16 1.16 0 1 0 2.31 0a1.16 1.16 0 1 0 -2.31 0M345.01 547.13a1.16 1.16 0 1 0 2.31 0a1.16 1.16 0 1 0 -2.31 0M347.04 547.23a1.16 1.16 0 1 0 2.31 0a1.16 1.16 0 1 0 -2.31 0M349.07 547.31a1.16 1.16 0 1 0 2.31 0a1.16 1.16 0 1 0 -2.31 0M351.1 547.4a1.16 1.16 0 1 0 2.31 0a1.16 1.16 0 1 0 -2.31 0M353.13 547.48a1.16 1.16 0 1 0 2.31 0a1.16 1.16 0 1 0 -2.31 0M355.16 547.56a1.16 1.16 0 1 0 2.31 0a1.16 1.16 0 1 0 -2.31 0M357.19 547.65a1.16 1.16 0 1 0 2.31 0a1.16 1.16 0 1 0 -2.31 0M359.22 547.73a1.16 1.16 0 1 0 2.31 0a1.16 1.16 0 1 0 -2.31 0" fill="#1f3dff"/>
<path d="M220.1 526.1 L220.42 525.75 L220.83 525.32 L221.32 524.82 L221.87 524.25 L222.46 523.63 L223.08 522.97 L223.71 522.27 L224.33 521.56 L224.94 520.83 L225.5 520.1 L225.95 519.5 L226.4 518.9 L226.85 518.3 L227.3 517.69 L227.76 517.06 L228.21 516.41 L228.66 515.73 L229.11 515.01 L229.56 514.24 L230.01 513.42 L230.45 512.54 L230.9 511.6 L231.18 510.96 L231.46 510.29 L231.74 509.58 L232.02 508.85 L232.3 508.09 L232.58 507.31 L232.86 506.51 L233.13 505.69 L233.41 504.86 L233.69 504.02 L233.97 503.18 L234.24 502.33 L234.52 501.48 L234.8 500.64 L235.08 499.81 L235.36 498.98 L235.64 498.17 L235.92 497.37 L236.2 496.6 L236.5 495.8 L236.8 494.99 L237.1 494.19 L237.4 493.4 L237.7 492.61 L238 491.81 L238.3 491.03 L238.6 490.24 L238.9 489.46 L239.2 488.69 L239.5 487.91 L239.8 487.14 L240.1 486.37 L240.4 485.61 L240.7 484.85 L241 484.1 L241.3 483.35 L241.6 482.6 L241.92 481.81 L242.23 481.03 L242.55 480.24 L242.88 479.46 L243.2 478.68 L243.52 477.91 L243.84 477.14 L244.16 476.37 L244.48 475.61 L244.79 474.86 L245.11 474.11 L245.42 473.37 L245.72 472.64 L246.03 471.92 L246.32 471.2 L246.61 470.5 L246.9 469.8 L247.24 468.97 L247.56 468.16 L247.87 467.37 L248.17 466.59 L248.46 465.82 L248.76 465.07 L249.04 464.32 L249.33 463.58 L249.62 462.84 L249.92 462.1 L250.22 461.35 L250.54 460.61 L250.86 459.86 L251.2 459.1 L251.55 458.33 L251.9 457.54 L252.27 456.75 L252.63 455.95 L253.01 455.15 L253.38 454.35 L253.77 453.55 L254.16 452.76 L254.55 451.99 L254.95 451.22 L255.36 450.48 L255.77 449.76 L256.18 449.07 L256.6 448.4 L257.1 447.66 L257.61 446.95 L258.13 446.28 L258.66 445.63 L259.2 445 L259.74 444.39 L260.28 443.79 L260.83 443.21 L261.38 442.63 L261.92 442.06 L262.46 441.48 L263 440.9 L263.59 440.24 L264.21 439.54 L264.83 438.82 L265.46 438.1 L266.09 437.39 L266.71 436.71 L267.31 436.08 L267.89 435.52 L268.43 435.04 L268.94 434.66 L269.4 434.4 L270.42 434.19 L271.19 434.56 L271.87 435.4 L272.6 436.6 L272.89 437.12 L273.18 437.72 L273.47 438.37 L273.75 439.09 L274.04 439.85 L274.33 440.66 L274.63 441.5 L274.93 442.37 L275.24 443.27 L275.57 444.18 L275.9 445.1 L276.15 445.8 L276.41 446.54 L276.68 447.32 L276.95 448.12 L277.23 448.95 L277.51 449.79 L277.79 450.64 L278.08 451.49 L278.37 452.33 L278.66 453.16 L278.95 453.98 L279.24 454.76 L279.53 455.52 L279.82 456.23 L280.1 456.9 L280.51 457.84 L280.91 458.74 L281.3 459.6 L281.68 460.42 L282.08 461.19 L282.48 461.92 L282.91 462.6 L283.37 463.24 L283.86 463.84 L284.4 464.4 L285.06 464.93 L285.79 465.34 L286.56 465.67 L287.36 465.94 L288.18 466.19 L289.01 466.46 L289.83 466.76 L290.63 467.13 L291.4 467.6 L292 468.06 L292.6 468.55 L293.19 469.08 L293.77 469.65 L294.34 470.23 L294.92 470.84 L295.49 471.46 L296.06 472.09 L296.64 472.73 L297.22 473.36 L297.8 474 L298.34 474.58 L298.88 475.15 L299.42 475.72 L299.96 476.3 L300.51 476.88 L301.05 477.48 L301.59 478.09 L302.14 478.72 L302.68 479.37 L303.22 480.05 L303.76 480.76 L304.3 481.5 L304.73 482.12 L305.16 482.77 L305.59 483.44 L306.01 484.12 L306.44 484.83 L306.87 485.55 L307.29 486.28 L307.72 487.02 L308.14 487.77 L308.57 488.51 L309 489.26 L309.42 490.01 L309.85 490.75 L310.27 491.48 L310.7 492.2 L311.13 492.91 L311.55 493.63 L311.98 494.34 L312.41 495.05 L312.83 495.77 L313.26 496.48 L313.69 497.19 L314.11 497.91 L314.54 498.62 L314.97 499.33 L315.39 500.05 L315.82 500.76 L316.25 501.47 L316.67 502.19 L317.1 502.9 L317.53 503.61 L317.95 504.32 L318.38 505.02 L318.81 505.73 L319.23 506.43 L319.66 507.13 L320.09 507.84 L320.51 508.54 L320.94 509.25 L321.37 509.96 L321.79 510.67 L322.22 511.4 L322.65 512.12 L323.07 512.86 L323.5 513.6 L323.9 514.31 L324.3 515.03 L324.7 515.76 L325.1 516.5 L325.5 517.25 L325.9 518 L326.3 518.76 L326.7 519.51 L327.1 520.27 L327.5 521.02 L327.9 521.76 L328.3 522.49 L328.7 523.22 L329.1 523.93 L329.5 524.62 L329.9 525.3 L330.36 526.06 L330.81 526.82 L331.27 527.57 L331.73 528.31 L332.18 529.05 L332.64 529.77 L333.09 530.48 L333.55 531.18 L334.01 531.86 L334.46 532.53 L334.92 533.18 L335.38 533.8 L335.84 534.41 L336.3 535 L336.88 535.72 L337.45 536.4 L338.01 537.05 L338.57 537.68 L339.14 538.28 L339.7 538.85 L340.28 539.4 L340.88 539.93 L341.5 540.44 L342.13 540.93 L342.8 541.4 L343.49 541.85 L344.19 542.28 L344.91 542.68 L345.65 543.06 L346.4 543.42 L347.17 543.76 L347.96 544.08 L348.77 544.39 L349.59 544.67 L350.44 544.94 L351.3 545.2 L352.08 545.4 L352.93 545.59 L353.84 545.77 L354.78 545.93 L355.74 546.08 L356.7 546.22 L357.65 546.35 L358.56 546.47 L359.42 546.57 L360.22 546.67 L360.92 546.75 L361.52 546.83 L362 546.9" fill="none" stroke="#ff1a1a" stroke-width="1.5" stroke-linejoin="round" stroke-linecap="round" />
<path d="M220.1 524.42L221.64 527.22L218.56 527.22zM222.33 522.09L223.87 524.89L220.79 524.89zM224.36 519.84L225.9 522.64L222.82 522.64zM226.39 517.24L227.93 520.04L224.85 520.04zM228.42 514.41L229.96 517.21L226.88 517.21zM230.45 510.87L231.99 513.67L228.91 513.67zM232.48 505.9L234.02 508.7L230.94 508.7zM234.51 499.84L236.05 502.64L232.97 502.64zM236.54 494L238.08 496.8L235 496.8zM238.57 488.64L240.11 491.44L237.03 491.44zM240.6 483.44L242.14 486.24L239.06 486.24zM242.63 478.38L244.17 481.18L241.09 481.18zM244.66 473.5L246.2 476.3L243.12 476.3zM246.69 468.63L248.23 471.43L245.15 471.43zM248.72 463.48L250.26 466.28L247.18 466.28zM250.75 458.44L252.29 461.24L249.21 461.24zM252.78 453.95L254.32 456.75L251.24 456.75zM254.81 449.81L256.35 452.61L253.27 452.61zM256.84 446.36L258.38 449.16L255.3 449.16zM258.87 443.7L260.41 446.5L257.33 446.5zM260.9 441.45L262.44 444.25L259.36 444.25zM262.93 439.3L264.47 442.1L261.39 442.1zM264.96 436.99L266.5 439.79L263.42 439.79zM266.99 434.73L268.53 437.53L265.45 437.53zM269.02 432.93L270.56 435.73L267.48 435.73zM271.05 432.81L272.59 435.61L269.51 435.61zM273.08 435.83L274.62 438.63L271.54 438.63zM275.11 441.2L276.65 444L273.57 444zM277.14 447L278.68 449.8L275.6 449.8zM279.17 452.89L280.71 455.69L277.63 455.69zM281.2 457.71L282.74 460.51L279.66 460.51zM283.23 461.37L284.77 464.17L281.69 464.17zM285.26 463.36L286.8 466.16L283.72 466.16zM287.29 464.24L288.83 467.04L285.75 467.04zM289.32 464.89L290.86 467.69L287.78 467.69zM291.35 465.89L292.89 468.69L289.81 468.69zM293.38 467.59L294.92 470.39L291.84 470.39zM295.41 469.69L296.95 472.49L293.87 472.49zM297.44 471.93L298.98 474.73L295.9 474.73zM299.47 474.1L301.01 476.9L297.93 476.9zM301.5 476.31L303.04 479.11L299.96 479.11zM303.53 478.78L305.07 481.58L301.99 481.58zM305.56 481.71L307.1 484.51L304.02 484.51zM307.59 485.12L309.13 487.92L306.05 487.92zM309.62 488.67L311.16 491.47L308.08 491.47zM311.65 492.11L313.19 494.91L310.11 494.91zM313.68 495.5L315.22 498.3L312.14 498.3zM315.71 498.9L317.25 501.7L314.17 501.7zM317.74 502.29L319.28 505.09L316.2 505.09zM319.77 505.63L321.31 508.43L318.23 508.43zM321.8 509.01L323.34 511.81L320.26 511.81zM323.83 512.5L325.37 515.3L322.29 515.3zM325.86 516.25L327.4 519.05L324.32 519.05zM327.89 520.06L329.43 522.86L326.35 522.86zM329.92 523.65L331.46 526.45L328.38 526.45zM331.95 526.99L333.49 529.79L330.41 529.79zM333.98 530.14L335.52 532.94L332.44 532.94zM336.01 532.95L337.55 535.75L334.47 535.75zM338.04 535.41L339.58 538.21L336.5 538.21zM340.07 537.52L341.61 540.32L338.53 540.32zM342.1 539.22L343.64 542.02L340.56 542.02zM344.13 540.56L345.67 543.36L342.59 543.36zM346.16 541.62L347.7 544.42L344.62 544.42zM348.19 542.49L349.73 545.29L346.65 545.29zM350.22 543.19L351.76 545.99L348.68 545.99zM352.25 543.76L353.79 546.56L350.71 546.56zM354.28 544.17L355.82 546.97L352.74 546.97zM356.31 544.49L357.85 547.29L354.77 547.29zM358.34 544.76L359.88 547.56L356.8 547.56zM360.37 545.01L361.91 547.81L358.83 547.81z" fill="#ff1a1a"/>
<text x="220.3" y="564.9" font-size="9.3" text-anchor="middle" fill="#1a1a1a" >400</text>
<text x="260.9" y="564.9" font-size="9.3" text-anchor="middle" fill="#1a1a1a" >600</text>
<text x="301.5" y="564.9" font-size="9.3" text-anchor="middle" fill="#1a1a1a" >800</text>
<text x="342.1" y="564.9" font-size="9.3" text-anchor="middle" fill="#1a1a1a" >1000</text>
<path d="M299.3 434.4H319.3" stroke="#111111" stroke-width="1.3"/>
<path d="M307.8 434.4a1.5 1.5 0 1 0 3 0a1.5 1.5 0 1 0 -3 0" fill="#111111"/>
<text x="321.8" y="437.57" font-size="8.8" text-anchor="start" fill="#1a1a1a" >PbS-TBAI</text>
<path d="M299.3 445.4H319.3" stroke="#1f3dff" stroke-width="1.3"/>
<path d="M307.8 445.4a1.5 1.5 0 1 0 3 0a1.5 1.5 0 1 0 -3 0" fill="#1f3dff"/>
<text x="321.8" y="448.57" font-size="8.8" text-anchor="start" fill="#1a1a1a" >Organic</text>
<path d="M299.3 456H319.3" stroke="#ff1a1a" stroke-width="1.3"/>
<path d="M309.3 453.96L311.17 457.36L307.43 457.36z" fill="#ff1a1a"/>
<text x="321.8" y="459.17" font-size="8.8" text-anchor="start" fill="#1a1a1a" >Bilayer</text>
<text x="287.6" y="575.6" font-size="10.8" text-anchor="middle" fill="#1a1a1a" >Wavelength (nm)</text>
<text transform="translate(199.3 493.9) rotate(-90)" font-size="11" text-anchor="middle" fill="#1a1a1a">Responsivity (A W<tspan font-size="5.8" dy="-4.6">-1</tspan><tspan dy="4.6">)</tspan></text>
<path d="M401 543.4h3.6M401 507.8h3.6M401 472.2h3.6M401 436.6h3.6M401 525.6h2.2M401 490h2.2M401 454.4h2.2" stroke="#222" stroke-width="1" fill="none"/>
<text x="396.4" y="546.1" font-size="9.1" text-anchor="end" fill="#1a1a1a" >0</text>
<text x="396.4" y="510.5" font-size="9.1" text-anchor="end" fill="#1a1a1a" >4</text>
<text x="396.4" y="474.9" font-size="9.1" text-anchor="end" fill="#1a1a1a" >8</text>
<text x="396.4" y="439.3" font-size="9.1" text-anchor="end" fill="#1a1a1a" >12</text>
<rect x="401" y="427.2" width="142.5" height="125.3" fill="none" stroke="#222" stroke-width="1.3"/>
<path d="M401 552.5v-3.6M441.72 552.5v-3.6M482.44 552.5v-3.6M523.16 552.5v-3.6M421.36 552.5v-3M462.08 552.5v-3M502.8 552.5v-3" stroke="#222" stroke-width="1" fill="none"/>
<path d="M400.7 543.7 L401.15 543.64 L401.67 543.57 L402.27 543.5 L402.92 543.41 L403.63 543.32 L404.4 543.22 L405.21 543.12 L406.06 543.01 L406.94 542.89 L407.86 542.78 L408.79 542.65 L409.74 542.53 L410.71 542.41 L411.68 542.28 L412.64 542.15 L413.61 542.03 L414.56 541.9 L415.49 541.78 L416.4 541.65 L417.28 541.53 L418.13 541.42 L418.93 541.31 L419.69 541.2 L420.4 541.1 L421.39 540.95 L422.31 540.8 L423.18 540.65 L424 540.49 L424.79 540.34 L425.55 540.18 L426.29 540.03 L427.01 539.89 L427.73 539.75 L428.45 539.61 L429.19 539.48 L429.94 539.37 L430.72 539.26 L431.53 539.16 L432.39 539.07 L433.3 539 L434.03 538.95 L434.78 538.91 L435.54 538.88 L436.33 538.85 L437.14 538.83 L437.95 538.81 L438.78 538.8 L439.62 538.79 L440.47 538.78 L441.32 538.79 L442.17 538.79 L443.03 538.8 L443.88 538.81 L444.73 538.83 L445.57 538.84 L446.41 538.86 L447.24 538.89 L448.05 538.91 L448.85 538.94 L449.64 538.97 L450.4 539 L451.26 539.04 L452.09 539.09 L452.9 539.16 L453.68 539.23 L454.45 539.3 L455.2 539.39 L455.95 539.47 L456.69 539.56 L457.43 539.65 L458.18 539.74 L458.94 539.83 L459.72 539.91 L460.52 540 L461.35 540.07 L462.2 540.14 L463.09 540.21 L464.02 540.26 L465 540.3 L465.71 540.32 L466.44 540.34 L467.19 540.35 L467.96 540.36 L468.75 540.37 L469.56 540.37 L470.39 540.36 L471.22 540.36 L472.07 540.35 L472.93 540.34 L473.8 540.33 L474.67 540.32 L475.54 540.31 L476.42 540.3 L477.3 540.29 L478.17 540.28 L479.04 540.27 L479.91 540.26 L480.77 540.26 L481.62 540.25 L482.45 540.25 L483.28 540.25 L484.08 540.26 L484.88 540.27 L485.65 540.28 L486.4 540.3 L487.31 540.33 L488.2 540.36 L489.09 540.4 L489.96 540.43 L490.81 540.48 L491.66 540.52 L492.5 540.57 L493.32 540.62 L494.14 540.67 L494.95 540.73 L495.75 540.78 L496.54 540.84 L497.33 540.9 L498.11 540.96 L498.89 541.02 L499.67 541.09 L500.44 541.15 L501.2 541.21 L501.97 541.28 L502.74 541.34 L503.5 541.4 L504.37 541.47 L505.21 541.55 L506.01 541.63 L506.79 541.72 L507.55 541.8 L508.3 541.89 L509.04 541.98 L509.78 542.07 L510.53 542.16 L511.29 542.25 L512.07 542.33 L512.87 542.42 L513.7 542.51 L514.56 542.59 L515.47 542.67 L516.42 542.75 L517.43 542.83 L518.5 542.9 L519.18 542.94 L519.91 542.98 L520.68 543.02 L521.49 543.07 L522.33 543.11 L523.2 543.15 L524.1 543.19 L525.01 543.23 L525.95 543.27 L526.9 543.31 L527.86 543.35 L528.83 543.38 L529.8 543.42 L530.77 543.46 L531.74 543.49 L532.7 543.53 L533.64 543.56 L534.57 543.6 L535.48 543.63 L536.37 543.66 L537.23 543.69 L538.05 543.72 L538.85 543.75 L539.6 543.77 L540.31 543.8 L540.98 543.82 L541.59 543.84 L542.15 543.86 L542.66 543.88 L543.1 543.9" fill="none" stroke="#111111" stroke-width="1.7999999999999998" stroke-linejoin="round" stroke-linecap="round" />
<path d="M399.12 543.7a1.58 1.58 0 1 0 3.15 0a1.58 1.58 0 1 0 -3.15 0M401.46 543.4a1.58 1.58 0 1 0 3.15 0a1.58 1.58 0 1 0 -3.15 0M403.5 543.13a1.58 1.58 0 1 0 3.15 0a1.58 1.58 0 1 0 -3.15 0M405.53 542.87a1.58 1.58 0 1 0 3.15 0a1.58 1.58 0 1 0 -3.15 0M407.57 542.61a1.58 1.58 0 1 0 3.15 0a1.58 1.58 0 1 0 -3.15 0M409.61 542.34a1.58 1.58 0 1 0 3.15 0a1.58 1.58 0 1 0 -3.15 0M411.64 542.08a1.58 1.58 0 1 0 3.15 0a1.58 1.58 0 1 0 -3.15 0M413.68 541.81a1.58 1.58 0 1 0 3.15 0a1.58 1.58 0 1 0 -3.15 0M415.71 541.53a1.58 1.58 0 1 0 3.15 0a1.58 1.58 0 1 0 -3.15 0M417.75 541.25a1.58 1.58 0 1 0 3.15 0a1.58 1.58 0 1 0 -3.15 0M419.79 540.95a1.58 1.58 0 1 0 3.15 0a1.58 1.58 0 1 0 -3.15 0M421.82 540.6a1.58 1.58 0 1 0 3.15 0a1.58 1.58 0 1 0 -3.15 0M423.86 540.21a1.58 1.58 0 1 0 3.15 0a1.58 1.58 0 1 0 -3.15 0M425.89 539.8a1.58 1.58 0 1 0 3.15 0a1.58 1.58 0 1 0 -3.15 0M427.93 539.43a1.58 1.58 0 1 0 3.15 0a1.58 1.58 0 1 0 -3.15 0M429.97 539.16a1.58 1.58 0 1 0 3.15 0a1.58 1.58 0 1 0 -3.15 0M432 538.98a1.58 1.58 0 1 0 3.15 0a1.58 1.58 0 1 0 -3.15 0M434.04 538.88a1.58 1.58 0 1 0 3.15 0a1.58 1.58 0 1 0 -3.15 0M436.07 538.82a1.58 1.58 0 1 0 3.15 0a1.58 1.58 0 1 0 -3.15 0M438.11 538.79a1.58 1.58 0 1 0 3.15 0a1.58 1.58 0 1 0 -3.15 0M440.15 538.79a1.58 1.58 0 1 0 3.15 0a1.58 1.58 0 1 0 -3.15 0M442.18 538.81a1.58 1.58 0 1 0 3.15 0a1.58 1.58 0 1 0 -3.15 0M444.22 538.85a1.58 1.58 0 1 0 3.15 0a1.58 1.58 0 1 0 -3.15 0M446.25 538.91a1.58 1.58 0 1 0 3.15 0a1.58 1.58 0 1 0 -3.15 0M448.29 538.98a1.58 1.58 0 1 0 3.15 0a1.58 1.58 0 1 0 -3.15 0M450.32 539.08a1.58 1.58 0 1 0 3.15 0a1.58 1.58 0 1 0 -3.15 0M452.36 539.25a1.58 1.58 0 1 0 3.15 0a1.58 1.58 0 1 0 -3.15 0M454.4 539.47a1.58 1.58 0 1 0 3.15 0a1.58 1.58 0 1 0 -3.15 0M456.43 539.72a1.58 1.58 0 1 0 3.15 0a1.58 1.58 0 1 0 -3.15 0M458.47 539.95a1.58 1.58 0 1 0 3.15 0a1.58 1.58 0 1 0 -3.15 0M460.5 540.13a1.58 1.58 0 1 0 3.15 0a1.58 1.58 0 1 0 -3.15 0M462.54 540.26a1.58 1.58 0 1 0 3.15 0a1.58 1.58 0 1 0 -3.15 0M464.58 540.33a1.58 1.58 0 1 0 3.15 0a1.58 1.58 0 1 0 -3.15 0M466.61 540.36a1.58 1.58 0 1 0 3.15 0a1.58 1.58 0 1 0 -3.15 0M468.65 540.36a1.58 1.58 0 1 0 3.15 0a1.58 1.58 0 1 0 -3.15 0M470.69 540.35a1.58 1.58 0 1 0 3.15 0a1.58 1.58 0 1 0 -3.15 0M472.72 540.33a1.58 1.58 0 1 0 3.15 0a1.58 1.58 0 1 0 -3.15 0M474.76 540.3a1.58 1.58 0 1 0 3.15 0a1.58 1.58 0 1 0 -3.15 0M476.79 540.28a1.58 1.58 0 1 0 3.15 0a1.58 1.58 0 1 0 -3.15 0M478.83 540.26a1.58 1.58 0 1 0 3.15 0a1.58 1.58 0 1 0 -3.15 0M480.87 540.25a1.58 1.58 0 1 0 3.15 0a1.58 1.58 0 1 0 -3.15 0M482.9 540.26a1.58 1.58 0 1 0 3.15 0a1.58 1.58 0 1 0 -3.15 0M484.94 540.3a1.58 1.58 0 1 0 3.15 0a1.58 1.58 0 1 0 -3.15 0M486.97 540.37a1.58 1.58 0 1 0 3.15 0a1.58 1.58 0 1 0 -3.15 0M489.01 540.47a1.58 1.58 0 1 0 3.15 0a1.58 1.58 0 1 0 -3.15 0M491.05 540.58a1.58 1.58 0 1 0 3.15 0a1.58 1.58 0 1 0 -3.15 0M493.08 540.71a1.58 1.58 0 1 0 3.15 0a1.58 1.58 0 1 0 -3.15 0M495.12 540.85a1.58 1.58 0 1 0 3.15 0a1.58 1.58 0 1 0 -3.15 0M497.15 541.01a1.58 1.58 0 1 0 3.15 0a1.58 1.58 0 1 0 -3.15 0M499.19 541.18a1.58 1.58 0 1 0 3.15 0a1.58 1.58 0 1 0 -3.15 0M501.23 541.34a1.58 1.58 0 1 0 3.15 0a1.58 1.58 0 1 0 -3.15 0M503.26 541.52a1.58 1.58 0 1 0 3.15 0a1.58 1.58 0 1 0 -3.15 0M505.3 541.73a1.58 1.58 0 1 0 3.15 0a1.58 1.58 0 1 0 -3.15 0M507.33 541.96a1.58 1.58 0 1 0 3.15 0a1.58 1.58 0 1 0 -3.15 0M509.37 542.2a1.58 1.58 0 1 0 3.15 0a1.58 1.58 0 1 0 -3.15 0M511.41 542.43a1.58 1.58 0 1 0 3.15 0a1.58 1.58 0 1 0 -3.15 0M513.44 542.63a1.58 1.58 0 1 0 3.15 0a1.58 1.58 0 1 0 -3.15 0M515.48 542.8a1.58 1.58 0 1 0 3.15 0a1.58 1.58 0 1 0 -3.15 0M517.51 542.94a1.58 1.58 0 1 0 3.15 0a1.58 1.58 0 1 0 -3.15 0M519.55 543.05a1.58 1.58 0 1 0 3.15 0a1.58 1.58 0 1 0 -3.15 0M521.58 543.15a1.58 1.58 0 1 0 3.15 0a1.58 1.58 0 1 0 -3.15 0M523.62 543.24a1.58 1.58 0 1 0 3.15 0a1.58 1.58 0 1 0 -3.15 0M525.66 543.32a1.58 1.58 0 1 0 3.15 0a1.58 1.58 0 1 0 -3.15 0M527.69 543.4a1.58 1.58 0 1 0 3.15 0a1.58 1.58 0 1 0 -3.15 0M529.73 543.48a1.58 1.58 0 1 0 3.15 0a1.58 1.58 0 1 0 -3.15 0M531.76 543.55a1.58 1.58 0 1 0 3.15 0a1.58 1.58 0 1 0 -3.15 0M533.8 543.62a1.58 1.58 0 1 0 3.15 0a1.58 1.58 0 1 0 -3.15 0M535.84 543.7a1.58 1.58 0 1 0 3.15 0a1.58 1.58 0 1 0 -3.15 0M537.87 543.77a1.58 1.58 0 1 0 3.15 0a1.58 1.58 0 1 0 -3.15 0M539.91 543.84a1.58 1.58 0 1 0 3.15 0a1.58 1.58 0 1 0 -3.15 0" fill="#111111"/>
<path d="M400.7 543.7 L401.16 543.61 L401.72 543.51 L402.37 543.39 L403.1 543.26 L403.89 543.11 L404.74 542.95 L405.63 542.79 L406.55 542.62 L407.48 542.44 L408.41 542.27 L409.33 542.09 L410.23 541.92 L411.09 541.76 L411.9 541.6 L412.74 541.43 L413.57 541.26 L414.4 541.09 L415.23 540.91 L416.05 540.74 L416.87 540.56 L417.69 540.39 L418.51 540.21 L419.32 540.04 L420.14 539.88 L420.96 539.71 L421.78 539.55 L422.6 539.4 L423.41 539.25 L424.18 539.1 L424.94 538.95 L425.68 538.8 L426.42 538.65 L427.17 538.51 L427.93 538.37 L428.72 538.24 L429.54 538.11 L430.39 537.99 L431.3 537.88 L432.27 537.79 L433.3 537.7 L433.98 537.65 L434.71 537.6 L435.46 537.56 L436.25 537.51 L437.07 537.47 L437.91 537.43 L438.76 537.39 L439.63 537.36 L440.52 537.33 L441.4 537.3 L442.3 537.28 L443.18 537.26 L444.07 537.24 L444.94 537.23 L445.79 537.22 L446.63 537.22 L447.45 537.23 L448.24 537.24 L448.99 537.25 L449.72 537.27 L450.4 537.3 L451.42 537.37 L452.36 537.47 L453.23 537.59 L454.04 537.74 L454.8 537.9 L455.54 538.06 L456.27 538.24 L456.99 538.4 L457.73 538.56 L458.5 538.71 L459.3 538.83 L460.17 538.93 L461.1 539 L461.82 539.03 L462.57 539.04 L463.35 539.03 L464.16 539.01 L464.98 538.98 L465.82 538.94 L466.67 538.9 L467.54 538.85 L468.4 538.8 L469.26 538.75 L470.13 538.7 L470.98 538.66 L471.82 538.62 L472.64 538.59 L473.45 538.57 L474.23 538.56 L474.98 538.57 L475.7 538.6 L476.65 538.66 L477.56 538.74 L478.44 538.84 L479.28 538.96 L480.1 539.08 L480.9 539.22 L481.69 539.37 L482.46 539.52 L483.24 539.68 L484.01 539.84 L484.79 540 L485.59 540.15 L486.4 540.3 L487.22 540.45 L488.05 540.61 L488.87 540.78 L489.69 540.95 L490.52 541.12 L491.34 541.3 L492.16 541.47 L492.98 541.65 L493.81 541.81 L494.63 541.98 L495.45 542.13 L496.28 542.27 L497.1 542.4 L497.86 542.52 L498.5 542.63 L499.07 542.73 L499.59 542.83 L500.1 542.92 L500.63 543 L501.22 543.08 L501.89 543.16 L502.69 543.23 L503.65 543.3 L504.8 543.37 L506.17 543.43 L507.8 543.5 L508.34 543.52 L508.93 543.54 L509.56 543.56 L510.22 543.58 L510.92 543.59 L511.65 543.61 L512.41 543.63 L513.2 543.65 L514.02 543.67 L514.86 543.68 L515.72 543.7 L516.61 543.72 L517.51 543.73 L518.43 543.75 L519.36 543.76 L520.31 543.78 L521.27 543.8 L522.23 543.81 L523.2 543.83 L524.17 543.84 L525.15 543.85 L526.12 543.87 L527.09 543.88 L528.06 543.9 L529.01 543.91 L529.96 543.92 L530.9 543.93 L531.83 543.95 L532.74 543.96 L533.63 543.97 L534.5 543.98 L535.35 543.99 L536.18 544 L536.98 544.01 L537.75 544.02 L538.5 544.03 L539.21 544.04 L539.88 544.05 L540.52 544.06 L541.12 544.07 L541.68 544.08 L542.2 544.09 L542.67 544.09 L543.1 544.1" fill="none" stroke="#1f3dff" stroke-width="1.7999999999999998" stroke-linejoin="round" stroke-linecap="round" />
<path d="M399.12 543.7a1.58 1.58 0 1 0 3.15 0a1.58 1.58 0 1 0 -3.15 0M401.46 543.27a1.58 1.58 0 1 0 3.15 0a1.58 1.58 0 1 0 -3.15 0M403.5 542.89a1.58 1.58 0 1 0 3.15 0a1.58 1.58 0 1 0 -3.15 0M405.53 542.51a1.58 1.58 0 1 0 3.15 0a1.58 1.58 0 1 0 -3.15 0M407.57 542.13a1.58 1.58 0 1 0 3.15 0a1.58 1.58 0 1 0 -3.15 0M409.61 541.74a1.58 1.58 0 1 0 3.15 0a1.58 1.58 0 1 0 -3.15 0M411.64 541.34a1.58 1.58 0 1 0 3.15 0a1.58 1.58 0 1 0 -3.15 0M413.68 540.91a1.58 1.58 0 1 0 3.15 0a1.58 1.58 0 1 0 -3.15 0M415.71 540.47a1.58 1.58 0 1 0 3.15 0a1.58 1.58 0 1 0 -3.15 0M417.75 540.04a1.58 1.58 0 1 0 3.15 0a1.58 1.58 0 1 0 -3.15 0M419.79 539.63a1.58 1.58 0 1 0 3.15 0a1.58 1.58 0 1 0 -3.15 0M421.82 539.25a1.58 1.58 0 1 0 3.15 0a1.58 1.58 0 1 0 -3.15 0M423.86 538.85a1.58 1.58 0 1 0 3.15 0a1.58 1.58 0 1 0 -3.15 0M425.89 538.45a1.58 1.58 0 1 0 3.15 0a1.58 1.58 0 1 0 -3.15 0M427.93 538.12a1.58 1.58 0 1 0 3.15 0a1.58 1.58 0 1 0 -3.15 0M429.97 537.86a1.58 1.58 0 1 0 3.15 0a1.58 1.58 0 1 0 -3.15 0M432 537.68a1.58 1.58 0 1 0 3.15 0a1.58 1.58 0 1 0 -3.15 0M434.04 537.55a1.58 1.58 0 1 0 3.15 0a1.58 1.58 0 1 0 -3.15 0M436.07 537.44a1.58 1.58 0 1 0 3.15 0a1.58 1.58 0 1 0 -3.15 0M438.11 537.36a1.58 1.58 0 1 0 3.15 0a1.58 1.58 0 1 0 -3.15 0M440.15 537.29a1.58 1.58 0 1 0 3.15 0a1.58 1.58 0 1 0 -3.15 0M442.18 537.25a1.58 1.58 0 1 0 3.15 0a1.58 1.58 0 1 0 -3.15 0M444.22 537.22a1.58 1.58 0 1 0 3.15 0a1.58 1.58 0 1 0 -3.15 0M446.25 537.23a1.58 1.58 0 1 0 3.15 0a1.58 1.58 0 1 0 -3.15 0M448.29 537.28a1.58 1.58 0 1 0 3.15 0a1.58 1.58 0 1 0 -3.15 0M450.32 537.42a1.58 1.58 0 1 0 3.15 0a1.58 1.58 0 1 0 -3.15 0M452.36 537.72a1.58 1.58 0 1 0 3.15 0a1.58 1.58 0 1 0 -3.15 0M454.4 538.17a1.58 1.58 0 1 0 3.15 0a1.58 1.58 0 1 0 -3.15 0M456.43 538.62a1.58 1.58 0 1 0 3.15 0a1.58 1.58 0 1 0 -3.15 0M458.47 538.92a1.58 1.58 0 1 0 3.15 0a1.58 1.58 0 1 0 -3.15 0M460.5 539.03a1.58 1.58 0 1 0 3.15 0a1.58 1.58 0 1 0 -3.15 0M462.54 539.01a1.58 1.58 0 1 0 3.15 0a1.58 1.58 0 1 0 -3.15 0M464.58 538.93a1.58 1.58 0 1 0 3.15 0a1.58 1.58 0 1 0 -3.15 0M466.61 538.81a1.58 1.58 0 1 0 3.15 0a1.58 1.58 0 1 0 -3.15 0M468.65 538.69a1.58 1.58 0 1 0 3.15 0a1.58 1.58 0 1 0 -3.15 0M470.69 538.6a1.58 1.58 0 1 0 3.15 0a1.58 1.58 0 1 0 -3.15 0M472.72 538.56a1.58 1.58 0 1 0 3.15 0a1.58 1.58 0 1 0 -3.15 0M474.76 538.64a1.58 1.58 0 1 0 3.15 0a1.58 1.58 0 1 0 -3.15 0M476.79 538.83a1.58 1.58 0 1 0 3.15 0a1.58 1.58 0 1 0 -3.15 0M478.83 539.14a1.58 1.58 0 1 0 3.15 0a1.58 1.58 0 1 0 -3.15 0M480.87 539.52a1.58 1.58 0 1 0 3.15 0a1.58 1.58 0 1 0 -3.15 0M482.9 539.93a1.58 1.58 0 1 0 3.15 0a1.58 1.58 0 1 0 -3.15 0M484.94 540.32a1.58 1.58 0 1 0 3.15 0a1.58 1.58 0 1 0 -3.15 0M486.97 540.71a1.58 1.58 0 1 0 3.15 0a1.58 1.58 0 1 0 -3.15 0M489.01 541.14a1.58 1.58 0 1 0 3.15 0a1.58 1.58 0 1 0 -3.15 0M491.05 541.57a1.58 1.58 0 1 0 3.15 0a1.58 1.58 0 1 0 -3.15 0M493.08 541.98a1.58 1.58 0 1 0 3.15 0a1.58 1.58 0 1 0 -3.15 0M495.12 542.34a1.58 1.58 0 1 0 3.15 0a1.58 1.58 0 1 0 -3.15 0M497.15 542.67a1.58 1.58 0 1 0 3.15 0a1.58 1.58 0 1 0 -3.15 0M499.19 543.02a1.58 1.58 0 1 0 3.15 0a1.58 1.58 0 1 0 -3.15 0M501.23 543.24a1.58 1.58 0 1 0 3.15 0a1.58 1.58 0 1 0 -3.15 0M503.26 543.37a1.58 1.58 0 1 0 3.15 0a1.58 1.58 0 1 0 -3.15 0M505.3 543.46a1.58 1.58 0 1 0 3.15 0a1.58 1.58 0 1 0 -3.15 0M507.33 543.54a1.58 1.58 0 1 0 3.15 0a1.58 1.58 0 1 0 -3.15 0M509.37 543.59a1.58 1.58 0 1 0 3.15 0a1.58 1.58 0 1 0 -3.15 0M511.41 543.64a1.58 1.58 0 1 0 3.15 0a1.58 1.58 0 1 0 -3.15 0M513.44 543.69a1.58 1.58 0 1 0 3.15 0a1.58 1.58 0 1 0 -3.15 0M515.48 543.72a1.58 1.58 0 1 0 3.15 0a1.58 1.58 0 1 0 -3.15 0M517.51 543.76a1.58 1.58 0 1 0 3.15 0a1.58 1.58 0 1 0 -3.15 0M519.55 543.79a1.58 1.58 0 1 0 3.15 0a1.58 1.58 0 1 0 -3.15 0M521.58 543.83a1.58 1.58 0 1 0 3.15 0a1.58 1.58 0 1 0 -3.15 0M523.62 543.86a1.58 1.58 0 1 0 3.15 0a1.58 1.58 0 1 0 -3.15 0M525.66 543.88a1.58 1.58 0 1 0 3.15 0a1.58 1.58 0 1 0 -3.15 0M527.69 543.91a1.58 1.58 0 1 0 3.15 0a1.58 1.58 0 1 0 -3.15 0M529.73 543.94a1.58 1.58 0 1 0 3.15 0a1.58 1.58 0 1 0 -3.15 0M531.76 543.97a1.58 1.58 0 1 0 3.15 0a1.58 1.58 0 1 0 -3.15 0M533.8 543.99a1.58 1.58 0 1 0 3.15 0a1.58 1.58 0 1 0 -3.15 0M535.84 544.02a1.58 1.58 0 1 0 3.15 0a1.58 1.58 0 1 0 -3.15 0M537.87 544.05a1.58 1.58 0 1 0 3.15 0a1.58 1.58 0 1 0 -3.15 0M539.91 544.08a1.58 1.58 0 1 0 3.15 0a1.58 1.58 0 1 0 -3.15 0" fill="#1f3dff"/>
<path d="M400.7 524.4 L401.05 524.03 L401.5 523.56 L402.03 523.02 L402.62 522.41 L403.26 521.74 L403.93 521.03 L404.61 520.28 L405.27 519.52 L405.91 518.76 L406.5 518 L406.96 517.37 L407.42 516.74 L407.88 516.1 L408.33 515.45 L408.78 514.79 L409.23 514.1 L409.68 513.39 L410.12 512.66 L410.57 511.9 L411.01 511.1 L411.45 510.27 L411.9 509.4 L412.21 508.76 L412.53 508.09 L412.84 507.39 L413.15 506.68 L413.46 505.95 L413.77 505.2 L414.08 504.43 L414.39 503.66 L414.71 502.88 L415.02 502.09 L415.33 501.29 L415.64 500.5 L415.95 499.71 L416.26 498.92 L416.57 498.14 L416.89 497.36 L417.2 496.6 L417.52 495.84 L417.83 495.07 L418.15 494.3 L418.46 493.53 L418.78 492.75 L419.1 491.97 L419.42 491.19 L419.73 490.41 L420.05 489.63 L420.37 488.86 L420.69 488.09 L421.01 487.34 L421.33 486.59 L421.65 485.85 L421.96 485.12 L422.28 484.4 L422.6 483.7 L422.99 482.87 L423.38 482.05 L423.78 481.24 L424.18 480.45 L424.58 479.67 L424.98 478.9 L425.38 478.14 L425.77 477.39 L426.16 476.65 L426.54 475.91 L426.92 475.18 L427.29 474.45 L427.65 473.73 L428 473 L428.36 472.23 L428.7 471.46 L429.03 470.71 L429.34 469.97 L429.65 469.23 L429.95 468.5 L430.25 467.77 L430.55 467.05 L430.86 466.33 L431.17 465.6 L431.5 464.87 L431.84 464.14 L432.2 463.4 L432.57 462.65 L432.95 461.88 L433.34 461.1 L433.74 460.31 L434.14 459.53 L434.55 458.74 L434.97 457.96 L435.4 457.19 L435.83 456.44 L436.26 455.72 L436.7 455.01 L437.15 454.34 L437.6 453.7 L438.14 452.99 L438.7 452.32 L439.27 451.69 L439.85 451.09 L440.44 450.51 L441.03 449.96 L441.63 449.41 L442.23 448.88 L442.82 448.36 L443.41 447.83 L444 447.3 L444.65 446.69 L445.33 446.03 L446.02 445.37 L446.71 444.7 L447.4 444.06 L448.07 443.46 L448.72 442.93 L449.32 442.48 L449.89 442.13 L450.4 441.9 L451.42 441.74 L452.19 442.06 L452.87 442.85 L453.6 444.1 L453.87 444.64 L454.13 445.26 L454.4 445.95 L454.66 446.71 L454.92 447.52 L455.19 448.37 L455.46 449.25 L455.73 450.14 L456.01 451.05 L456.3 451.95 L456.59 452.84 L456.9 453.7 L457.17 454.44 L457.45 455.22 L457.74 456.02 L458.03 456.83 L458.33 457.66 L458.63 458.49 L458.94 459.31 L459.25 460.13 L459.56 460.92 L459.87 461.7 L460.18 462.44 L460.49 463.14 L460.79 463.8 L461.1 464.4 L461.62 465.36 L462.13 466.23 L462.63 467.01 L463.14 467.71 L463.66 468.33 L464.2 468.88 L464.78 469.37 L465.4 469.8 L466.16 470.14 L466.98 470.28 L467.83 470.31 L468.71 470.3 L469.61 470.33 L470.51 470.47 L471.4 470.8 L472.02 471.15 L472.65 471.55 L473.29 472 L473.93 472.5 L474.57 473.04 L475.21 473.62 L475.86 474.21 L476.51 474.83 L477.15 475.46 L477.8 476.1 L478.34 476.64 L478.88 477.21 L479.42 477.79 L479.96 478.4 L480.51 479.01 L481.05 479.64 L481.59 480.29 L482.14 480.94 L482.68 481.6 L483.22 482.26 L483.76 482.93 L484.3 483.6 L484.8 484.22 L485.29 484.84 L485.78 485.47 L486.28 486.1 L486.77 486.73 L487.26 487.38 L487.75 488.03 L488.24 488.69 L488.73 489.36 L489.23 490.05 L489.72 490.75 L490.21 491.47 L490.7 492.2 L491.13 492.85 L491.55 493.52 L491.98 494.21 L492.41 494.9 L492.83 495.61 L493.26 496.33 L493.69 497.05 L494.11 497.78 L494.54 498.52 L494.97 499.26 L495.39 499.99 L495.82 500.73 L496.25 501.46 L496.67 502.18 L497.1 502.9 L497.53 503.61 L497.95 504.32 L498.38 505.02 L498.81 505.73 L499.23 506.43 L499.66 507.13 L500.09 507.84 L500.51 508.54 L500.94 509.25 L501.37 509.96 L501.79 510.67 L502.22 511.4 L502.65 512.12 L503.07 512.86 L503.5 513.6 L503.9 514.31 L504.3 515.03 L504.7 515.76 L505.1 516.5 L505.5 517.25 L505.9 518 L506.3 518.76 L506.7 519.51 L507.1 520.27 L507.5 521.02 L507.9 521.76 L508.3 522.49 L508.7 523.22 L509.1 523.93 L509.5 524.62 L509.9 525.3 L510.36 526.06 L510.81 526.83 L511.27 527.59 L511.73 528.35 L512.18 529.09 L512.64 529.83 L513.09 530.55 L513.55 531.26 L514.01 531.94 L514.46 532.61 L514.92 533.25 L515.38 533.86 L515.84 534.45 L516.3 535 L516.94 535.72 L517.56 536.38 L518.18 537 L518.8 537.57 L519.42 538.09 L520.05 538.59 L520.7 539.05 L521.37 539.48 L522.07 539.9 L522.8 540.3 L523.49 540.64 L524.18 540.96 L524.88 541.25 L525.6 541.51 L526.34 541.75 L527.1 541.98 L527.88 542.19 L528.69 542.38 L529.53 542.56 L530.4 542.73 L531.3 542.9 L532.07 543.02 L532.92 543.14 L533.82 543.24 L534.77 543.33 L535.75 543.42 L536.75 543.49 L537.73 543.56 L538.7 543.63 L539.62 543.68 L540.49 543.73 L541.29 543.78 L542 543.82 L542.61 543.86 L543.1 543.9" fill="none" stroke="#ff1a1a" stroke-width="1.5" stroke-linejoin="round" stroke-linecap="round" />
<path d="M400.7 522.72L402.24 525.52L399.16 525.52zM403.04 520.29L404.58 523.09L401.5 523.09zM405.07 518.07L406.61 520.87L403.53 520.87zM407.11 515.5L408.65 518.3L405.57 518.3zM409.14 512.55L410.68 515.35L407.6 515.35zM411.18 509.1L412.72 511.9L409.64 511.9zM413.22 504.85L414.76 507.65L411.68 507.65zM415.25 499.8L416.79 502.6L413.71 502.6zM417.29 494.71L418.83 497.51L415.75 497.51zM419.32 489.73L420.86 492.53L417.78 492.53zM421.36 484.83L422.9 487.63L419.82 487.63zM423.4 480.34L424.94 483.14L421.86 483.14zM425.43 476.36L426.97 479.16L423.89 479.16zM427.47 472.42L429.01 475.22L425.93 475.22zM429.5 467.9L431.04 470.7L427.96 470.7zM431.54 463.11L433.08 465.91L430 465.91zM433.58 458.96L435.12 461.76L432.04 461.76zM435.61 455.14L437.15 457.94L434.07 457.94zM437.65 451.96L439.19 454.76L436.11 454.76zM439.68 449.58L441.22 452.38L438.14 452.38zM441.72 447.66L443.26 450.46L440.18 450.46zM443.76 445.84L445.3 448.64L442.22 448.64zM445.79 443.91L447.33 446.71L444.25 446.71zM447.83 442L449.37 444.8L446.29 444.8zM449.86 440.46L451.4 443.26L448.32 443.26zM451.9 440.26L453.44 443.06L450.36 443.06zM453.94 443.12L455.48 445.92L452.4 445.92zM455.97 449.25L457.51 452.05L454.43 452.05zM458.01 455.09L459.55 457.89L456.47 457.89zM460.04 460.44L461.58 463.24L458.5 463.24zM462.08 464.46L463.62 467.26L460.54 467.26zM464.12 467.12L465.66 469.92L462.58 469.92zM466.15 468.45L467.69 471.25L464.61 471.25zM468.19 468.63L469.73 471.43L466.65 471.43zM470.22 468.75L471.76 471.55L468.68 471.55zM472.26 469.62L473.8 472.42L470.72 472.42zM474.3 471.13L475.84 473.93L472.76 473.93zM476.33 472.98L477.87 475.78L474.79 475.78zM478.37 475L479.91 477.8L476.83 477.8zM480.4 477.22L481.94 480.02L478.86 480.02zM482.44 479.62L483.98 482.42L480.9 482.42zM484.48 482.14L486.02 484.94L482.94 484.94zM486.51 484.72L488.05 487.52L484.97 487.52zM488.55 487.43L490.09 490.23L487.01 490.23zM490.58 490.35L492.12 493.15L489.04 493.15zM492.62 493.58L494.16 496.38L491.08 496.38zM494.66 497.04L496.2 499.84L493.12 499.84zM496.69 500.53L498.23 503.33L495.15 503.33zM498.73 503.92L500.27 506.72L497.19 506.72zM500.76 507.28L502.3 510.08L499.22 510.08zM502.8 510.71L504.34 513.51L501.26 513.51zM504.84 514.33L506.38 517.13L503.3 517.13zM506.87 518.16L508.41 520.96L505.33 520.96zM508.91 521.91L510.45 524.71L507.37 524.71zM510.94 525.37L512.48 528.17L509.4 528.17zM512.98 528.69L514.52 531.49L511.44 531.49zM515.02 531.69L516.56 534.49L513.48 534.49zM517.05 534.16L518.59 536.96L515.51 536.96zM519.09 536.13L520.63 538.93L517.55 538.93zM521.12 537.64L522.66 540.44L519.58 540.44zM523.16 538.8L524.7 541.6L521.62 541.6zM525.2 539.68L526.74 542.48L523.66 542.48zM527.23 540.33L528.77 543.13L525.69 543.13zM529.27 540.82L530.81 543.62L527.73 543.62zM531.3 541.22L532.84 544.02L529.76 544.02zM533.34 541.5L534.88 544.3L531.8 544.3zM535.38 541.7L536.92 544.5L533.84 544.5zM537.41 541.86L538.95 544.66L535.87 544.66zM539.45 541.99L540.99 544.79L537.91 544.79zM541.48 542.11L543.02 544.91L539.94 544.91z" fill="#ff1a1a"/>
<text x="401" y="563.9" font-size="9.3" text-anchor="middle" fill="#1a1a1a" >400</text>
<text x="441.72" y="563.9" font-size="9.3" text-anchor="middle" fill="#1a1a1a" >600</text>
<text x="482.44" y="563.9" font-size="9.3" text-anchor="middle" fill="#1a1a1a" >800</text>
<text x="523.16" y="563.9" font-size="9.3" text-anchor="middle" fill="#1a1a1a" >1000</text>
<path d="M478.9 435.2H499.2" stroke="#111111" stroke-width="1.3"/>
<path d="M487.55 435.2a1.5 1.5 0 1 0 3 0a1.5 1.5 0 1 0 -3 0" fill="#111111"/>
<text x="501.4" y="438.37" font-size="8.8" text-anchor="start" fill="#1a1a1a" >PbS-TBAI</text>
<path d="M478.9 445.9H499.2" stroke="#1f3dff" stroke-width="1.3"/>
<path d="M487.55 445.9a1.5 1.5 0 1 0 3 0a1.5 1.5 0 1 0 -3 0" fill="#1f3dff"/>
<text x="501.4" y="449.07" font-size="8.8" text-anchor="start" fill="#1a1a1a" >Organic</text>
<path d="M478.9 456.3H499.2" stroke="#ff1a1a" stroke-width="1.3"/>
<path d="M489.05 454.26L490.92 457.66L487.18 457.66z" fill="#ff1a1a"/>
<text x="501.4" y="459.47" font-size="8.8" text-anchor="start" fill="#1a1a1a" >Bilayer</text>
<text x="472.2" y="573.6" font-size="10.8" text-anchor="middle" fill="#1a1a1a" >Wavelength (nm)</text>
<text transform="translate(382.8 498) rotate(-90)" font-size="10.6" text-anchor="middle" fill="#1a1a1a">Detectivity (10<tspan font-size="5.8" dy="-4.6"> 12</tspan><tspan dy="4.6">Jones)</tspan></text>
<text x="4.4" y="31.86" font-size="20" text-anchor="start" fill="#1a1a1a" >(a)</text>
<text x="198.1" y="32.16" font-size="20" text-anchor="start" fill="#1a1a1a" >(b)</text>
<text x="345.3" y="31.86" font-size="20" text-anchor="start" fill="#1a1a1a" >(c)</text>
<text x="5" y="244.06" font-size="20" text-anchor="start" fill="#1a1a1a" >(d)</text>
<text x="281.2" y="244.86" font-size="20" text-anchor="start" fill="#1a1a1a" >(e)</text>
<text x="4.4" y="419.96" font-size="20" text-anchor="start" fill="#1a1a1a" >(f)</text>
<text x="213.5" y="420.26" font-size="20" text-anchor="start" fill="#1a1a1a" >(g)</text>
<text x="374.3" y="419.46" font-size="20" text-anchor="start" fill="#1a1a1a" >(h)</text>
</svg>
</body></html>
